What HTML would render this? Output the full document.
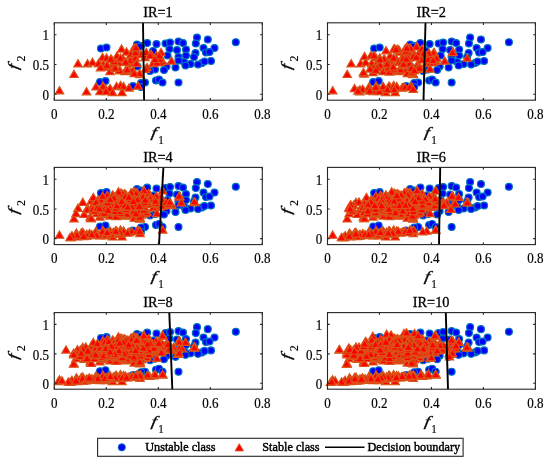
<!DOCTYPE html>
<html><head><meta charset="utf-8"><style>
html,body{margin:0;padding:0;background:#fff;}
svg{display:block;}
</style></head><body>
<svg width="550" height="463" viewBox="0 0 550 463">
<rect width="550" height="463" fill="#fff"/>
<g fill="#0000ff" stroke="#0072bd" stroke-width="1.2">
<circle cx="235.8" cy="42.2" r="3.45"/>
<circle cx="197" cy="37.5" r="3.45"/>
<circle cx="207.8" cy="39.5" r="3.45"/>
<circle cx="195.8" cy="43.5" r="3.45"/>
<circle cx="203.5" cy="48" r="3.45"/>
<circle cx="214.5" cy="48" r="3.45"/>
<circle cx="206" cy="52.5" r="3.45"/>
<circle cx="209.5" cy="52" r="3.45"/>
<circle cx="195.5" cy="53" r="3.45"/>
<circle cx="194" cy="57" r="3.45"/>
<circle cx="211" cy="61" r="3.45"/>
<circle cx="202" cy="63" r="3.45"/>
<circle cx="204.5" cy="61.5" r="3.45"/>
<circle cx="198" cy="64.5" r="3.45"/>
<circle cx="190.5" cy="64" r="3.45"/>
<circle cx="147.2" cy="43" r="3.45"/>
<circle cx="156.5" cy="44" r="3.45"/>
<circle cx="141" cy="46" r="3.45"/>
<circle cx="165.5" cy="43.5" r="3.45"/>
<circle cx="170" cy="42.5" r="3.45"/>
<circle cx="178.5" cy="41.5" r="3.45"/>
<circle cx="183" cy="43" r="3.45"/>
<circle cx="169.5" cy="49" r="3.45"/>
<circle cx="177" cy="50" r="3.45"/>
<circle cx="186" cy="49.5" r="3.45"/>
<circle cx="153" cy="51" r="3.45"/>
<circle cx="167.5" cy="55.5" r="3.45"/>
<circle cx="178.5" cy="57" r="3.45"/>
<circle cx="186" cy="55.5" r="3.45"/>
<circle cx="184" cy="62" r="3.45"/>
<circle cx="175.5" cy="67.5" r="3.45"/>
<circle cx="166.5" cy="66.5" r="3.45"/>
<circle cx="164" cy="70" r="3.45"/>
<circle cx="155" cy="69.5" r="3.45"/>
<circle cx="150" cy="71" r="3.45"/>
<circle cx="185.5" cy="65.5" r="3.45"/>
<circle cx="178.5" cy="60.5" r="3.45"/>
<circle cx="137" cy="44.5" r="3.45"/>
<circle cx="140" cy="46.5" r="3.45"/>
<circle cx="135.5" cy="52.5" r="3.45"/>
<circle cx="137.5" cy="66.5" r="3.45"/>
<circle cx="101" cy="48.5" r="3.45"/>
<circle cx="106.5" cy="47.5" r="3.45"/>
<circle cx="156" cy="80.5" r="3.45"/>
<circle cx="159" cy="79.5" r="3.45"/>
<circle cx="162.5" cy="82.5" r="3.45"/>
<circle cx="178.5" cy="82.5" r="3.45"/>
<circle cx="145" cy="82.5" r="3.45"/>
<circle cx="141" cy="83" r="3.45"/>
<circle cx="100" cy="82" r="3.45"/>
<circle cx="105.5" cy="81" r="3.45"/>
<circle cx="133" cy="86" r="3.45"/>
<circle cx="141" cy="87" r="3.45"/>
</g>
<g fill="#ff0000" stroke="#d95319" stroke-width="1.2" stroke-linejoin="miter">
<path d="M59.5 86.6L63.7 93.8L55.3 93.8Z"/>
<path d="M86.5 87.6L90.7 94.8L82.3 94.8Z"/>
<path d="M74 70.3L78.2 77.5L69.8 77.5Z"/>
<path d="M78 59.6L82.2 66.8L73.8 66.8Z"/>
<path d="M87.5 59.6L91.7 66.8L83.3 66.8Z"/>
<path d="M92.5 58.2L96.7 65.4L88.3 65.4Z"/>
<path d="M96 82.7L100.2 89.9L91.8 89.9Z"/>
<path d="M103 81.9L107.2 89.1L98.8 89.1Z"/>
<path d="M101.5 86.4L105.7 93.6L97.3 93.6Z"/>
<path d="M106 85.4L110.2 92.6L101.8 92.6Z"/>
<path d="M102.5 53.4L106.7 60.6L98.3 60.6Z"/>
<path d="M106.5 53.9L110.7 61.1L102.3 61.1Z"/>
<path d="M111.5 55.4L115.7 62.6L107.3 62.6Z"/>
<path d="M121.5 44.9L125.7 52.1L117.3 52.1Z"/>
<path d="M126.5 47.9L130.7 55.1L122.3 55.1Z"/>
<path d="M134 43.9L138.2 51.1L129.8 51.1Z"/>
<path d="M131 51.9L135.2 59.1L126.8 59.1Z"/>
<path d="M141 50.4L145.2 57.6L136.8 57.6Z"/>
<path d="M117 51.9L121.2 59.1L112.8 59.1Z"/>
<path d="M107 62.4L111.2 69.6L102.8 69.6Z"/>
<path d="M118.5 58.4L122.7 65.6L114.3 65.6Z"/>
<path d="M123 54.9L127.2 62.1L118.8 62.1Z"/>
<path d="M130 59.4L134.2 66.6L125.8 66.6Z"/>
<path d="M135 57.4L139.2 64.6L130.8 64.6Z"/>
<path d="M103 60.4L107.2 67.6L98.8 67.6Z"/>
<path d="M99 59.4L103.2 66.6L94.8 66.6Z"/>
<path d="M113 60.4L117.2 67.6L108.8 67.6Z"/>
<path d="M110 67.4L114.2 74.6L105.8 74.6Z"/>
<path d="M120 66.4L124.2 73.6L115.8 73.6Z"/>
<path d="M125 67.4L129.2 74.6L120.8 74.6Z"/>
<path d="M130 66.9L134.2 74.1L125.8 74.1Z"/>
<path d="M140 70.4L144.2 77.6L135.8 77.6Z"/>
<path d="M115 64.4L119.2 71.6L110.8 71.6Z"/>
<path d="M98.5 59.4L102.7 66.6L94.3 66.6Z"/>
<path d="M105 62.9L109.2 70.1L100.8 70.1Z"/>
<path d="M119.5 66.4L123.7 73.6L115.3 73.6Z"/>
<path d="M126 66.9L130.2 74.1L121.8 74.1Z"/>
<path d="M133 66.4L137.2 73.6L128.8 73.6Z"/>
<path d="M139.5 69.4L143.7 76.6L135.3 76.6Z"/>
<path d="M150 50.2L154.2 57.4L145.8 57.4Z"/>
<path d="M161 48.4L165.2 55.6L156.8 55.6Z"/>
<path d="M156.5 51.4L160.7 58.6L152.3 58.6Z"/>
<path d="M171.5 56.9L175.7 64.1L167.3 64.1Z"/>
<path d="M153 59.4L157.2 66.6L148.8 66.6Z"/>
<path d="M162.5 57.4L166.7 64.6L158.3 64.6Z"/>
<path d="M147 63.4L151.2 70.6L142.8 70.6Z"/>
<path d="M145 53.4L149.2 60.6L140.8 60.6Z"/>
<path d="M103 82.4L107.2 89.6L98.8 89.6Z"/>
<path d="M110 84.4L114.2 91.6L105.8 91.6Z"/>
<path d="M116.5 82.4L120.7 89.6L112.3 89.6Z"/>
<path d="M120.5 81.4L124.7 88.6L116.3 88.6Z"/>
<path d="M123.5 82.4L127.7 89.6L119.3 89.6Z"/>
<path d="M129 83.9L133.2 91.1L124.8 91.1Z"/>
<path d="M138 81.9L142.2 89.1L133.8 89.1Z"/>
<path d="M122 88.4L126.2 95.6L117.8 95.6Z"/>
<path d="M112.5 88.4L116.7 95.6L108.3 95.6Z"/>
<path d="M100 87.4L104.2 94.6L95.8 94.6Z"/>
<path d="M106 87.4L110.2 94.6L101.8 94.6Z"/>
<path d="M134.66 57.81L138.86 65.01L130.46 65.01Z"/>
<path d="M146.22 48.32L150.42 55.52L142.02 55.52Z"/>
<path d="M159.85 58.28L164.05 65.48L155.65 65.48Z"/>
<path d="M130.96 50.2L135.16 57.4L126.76 57.4Z"/>
<path d="M114.03 58.58L118.23 65.78L109.83 65.78Z"/>
<path d="M130.4 56.52L134.6 63.72L126.2 63.72Z"/>
<path d="M115.25 63.94L119.45 71.14L111.05 71.14Z"/>
<path d="M114.19 57.53L118.39 64.73L109.99 64.73Z"/>
<path d="M159.98 54.82L164.18 62.02L155.78 62.02Z"/>
<path d="M145.53 65.19L149.73 72.39L141.33 72.39Z"/>
<path d="M106.95 61.08L111.15 68.28L102.75 68.28Z"/>
<path d="M151.39 50.49L155.59 57.69L147.19 57.69Z"/>
<path d="M159.42 51.63L163.62 58.83L155.22 58.83Z"/>
<path d="M120.45 53.95L124.65 61.15L116.25 61.15Z"/>
<path d="M135.39 53.91L139.59 61.11L131.19 61.11Z"/>
<path d="M100.55 63.6L104.75 70.8L96.35 70.8Z"/>
<path d="M157.01 58.8L161.21 66L152.81 66Z"/>
<path d="M110.8 55.03L115 62.23L106.6 62.23Z"/>
<path d="M150.03 51.51L154.23 58.71L145.83 58.71Z"/>
<path d="M125.73 58.11L129.93 65.31L121.53 65.31Z"/>
<path d="M135.62 48.6L139.82 55.8L131.42 55.8Z"/>
<path d="M136.55 59.39L140.75 66.59L132.35 66.59Z"/>
<path d="M134.24 69.57L138.44 76.77L130.04 76.77Z"/>
<path d="M127.13 65.63L131.33 72.83L122.93 72.83Z"/>
<path d="M155.02 55.29L159.22 62.49L150.82 62.49Z"/>
<path d="M136.02 43.73L140.22 50.93L131.82 50.93Z"/>
</g>
<line x1="143" y1="22.8" x2="144.1" y2="100.2" stroke="#000" stroke-width="1.9"/>
<rect x="54.3" y="22.8" width="208" height="77.4" fill="none" stroke="#262626" stroke-width="1.1"/>
<path d="M54.3 100.2v-2.2M54.3 22.8v2.2M106.3 100.2v-2.2M106.3 22.8v2.2M158.3 100.2v-2.2M158.3 22.8v2.2M210.3 100.2v-2.2M210.3 22.8v2.2M262.3 100.2v-2.2M262.3 22.8v2.2M54.3 94.25h2.2M262.3 94.25h-2.2M54.3 64.48h2.2M262.3 64.48h-2.2M54.3 34.71h2.2M262.3 34.71h-2.2" stroke="#262626" stroke-width="1.1" fill="none"/>
<g font-family="'Liberation Serif','Times New Roman',serif" font-size="14.2" fill="#000" stroke="#000" stroke-width="0.2">
<text transform="translate(54.3,118.5) scale(0.92,1)" text-anchor="middle">0</text>
<text transform="translate(106.3,118.5) scale(0.92,1)" text-anchor="middle">0.2</text>
<text transform="translate(158.3,118.5) scale(0.92,1)" text-anchor="middle">0.4</text>
<text transform="translate(210.3,118.5) scale(0.92,1)" text-anchor="middle">0.6</text>
<text transform="translate(262.3,118.5) scale(0.92,1)" text-anchor="middle">0.8</text>
<text transform="translate(49,99.95) scale(0.92,1)" text-anchor="end">0</text>
<text transform="translate(49,70.18) scale(0.92,1)" text-anchor="end">0.5</text>
<text transform="translate(49,40.41) scale(0.92,1)" text-anchor="end">1</text>
</g>
<text x="158" y="16.9" text-anchor="middle" font-family="'Liberation Serif','Times New Roman',serif" font-size="14.3" stroke="#000" stroke-width="0.3">IR=1</text>
<text transform="translate(150.8,136.8) skewX(-10) scale(1.3,1)" font-family="'Liberation Serif','Times New Roman',serif" font-size="14.3" font-style="italic" stroke="#000" stroke-width="0.3">f</text>
<text x="157.9" y="143.7" font-family="'Liberation Serif','Times New Roman',serif" font-size="12" stroke="#000" stroke-width="0.1">1</text>
<g transform="translate(18,70) rotate(-90)"><text transform="skewX(-10) scale(1.3,1)" font-family="'Liberation Serif','Times New Roman',serif" font-size="14.3" font-style="italic" stroke="#000" stroke-width="0.3">f</text><text x="8.6" y="6.9" font-family="'Liberation Serif','Times New Roman',serif" font-size="12" stroke="#000" stroke-width="0.1">2</text></g>
<g fill="#0000ff" stroke="#0072bd" stroke-width="1.2">
<circle cx="508.91" cy="42.2" r="3.45"/>
<circle cx="470.13" cy="37.5" r="3.45"/>
<circle cx="480.93" cy="39.5" r="3.45"/>
<circle cx="468.93" cy="43.5" r="3.45"/>
<circle cx="476.63" cy="48" r="3.45"/>
<circle cx="487.62" cy="48" r="3.45"/>
<circle cx="479.13" cy="52.5" r="3.45"/>
<circle cx="482.63" cy="52" r="3.45"/>
<circle cx="468.63" cy="53" r="3.45"/>
<circle cx="467.13" cy="57" r="3.45"/>
<circle cx="484.12" cy="61" r="3.45"/>
<circle cx="475.13" cy="63" r="3.45"/>
<circle cx="477.63" cy="61.5" r="3.45"/>
<circle cx="471.13" cy="64.5" r="3.45"/>
<circle cx="463.63" cy="64" r="3.45"/>
<circle cx="420.36" cy="43" r="3.45"/>
<circle cx="429.65" cy="44" r="3.45"/>
<circle cx="414.16" cy="46" r="3.45"/>
<circle cx="438.65" cy="43.5" r="3.45"/>
<circle cx="443.14" cy="42.5" r="3.45"/>
<circle cx="451.64" cy="41.5" r="3.45"/>
<circle cx="456.14" cy="43" r="3.45"/>
<circle cx="442.64" cy="49" r="3.45"/>
<circle cx="450.14" cy="50" r="3.45"/>
<circle cx="459.14" cy="49.5" r="3.45"/>
<circle cx="426.15" cy="51" r="3.45"/>
<circle cx="440.65" cy="55.5" r="3.45"/>
<circle cx="451.64" cy="57" r="3.45"/>
<circle cx="459.14" cy="55.5" r="3.45"/>
<circle cx="457.14" cy="62" r="3.45"/>
<circle cx="448.64" cy="67.5" r="3.45"/>
<circle cx="439.65" cy="66.5" r="3.45"/>
<circle cx="437.15" cy="70" r="3.45"/>
<circle cx="428.15" cy="69.5" r="3.45"/>
<circle cx="423.15" cy="71" r="3.45"/>
<circle cx="458.64" cy="65.5" r="3.45"/>
<circle cx="451.64" cy="60.5" r="3.45"/>
<circle cx="410.16" cy="44.5" r="3.45"/>
<circle cx="413.16" cy="46.5" r="3.45"/>
<circle cx="408.66" cy="52.5" r="3.45"/>
<circle cx="410.66" cy="66.5" r="3.45"/>
<circle cx="374.18" cy="48.5" r="3.45"/>
<circle cx="379.67" cy="47.5" r="3.45"/>
<circle cx="429.15" cy="80.5" r="3.45"/>
<circle cx="432.15" cy="79.5" r="3.45"/>
<circle cx="435.65" cy="82.5" r="3.45"/>
<circle cx="451.64" cy="82.5" r="3.45"/>
<circle cx="418.16" cy="82.5" r="3.45"/>
<circle cx="414.16" cy="83" r="3.45"/>
<circle cx="373.18" cy="82" r="3.45"/>
<circle cx="378.68" cy="81" r="3.45"/>
<circle cx="406.16" cy="86" r="3.45"/>
<circle cx="414.16" cy="87" r="3.45"/>
</g>
<g fill="#ff0000" stroke="#d95319" stroke-width="1.2" stroke-linejoin="miter">
<path d="M332.7 86.6L336.9 93.8L328.5 93.8Z"/>
<path d="M359.68 87.6L363.88 94.8L355.48 94.8Z"/>
<path d="M347.19 70.3L351.39 77.5L342.99 77.5Z"/>
<path d="M351.19 59.6L355.39 66.8L346.99 66.8Z"/>
<path d="M360.68 59.6L364.88 66.8L356.48 66.8Z"/>
<path d="M365.68 58.2L369.88 65.4L361.48 65.4Z"/>
<path d="M369.18 82.7L373.38 89.9L364.98 89.9Z"/>
<path d="M376.18 81.9L380.38 89.1L371.98 89.1Z"/>
<path d="M374.68 86.4L378.88 93.6L370.48 93.6Z"/>
<path d="M379.18 85.4L383.38 92.6L374.98 92.6Z"/>
<path d="M375.68 53.4L379.88 60.6L371.48 60.6Z"/>
<path d="M379.67 53.9L383.87 61.1L375.47 61.1Z"/>
<path d="M384.67 55.4L388.87 62.6L380.47 62.6Z"/>
<path d="M394.67 44.9L398.87 52.1L390.47 52.1Z"/>
<path d="M399.67 47.9L403.87 55.1L395.47 55.1Z"/>
<path d="M407.16 43.9L411.36 51.1L402.96 51.1Z"/>
<path d="M404.16 51.9L408.36 59.1L399.96 59.1Z"/>
<path d="M414.16 50.4L418.36 57.6L409.96 57.6Z"/>
<path d="M390.17 51.9L394.37 59.1L385.97 59.1Z"/>
<path d="M380.17 62.4L384.37 69.6L375.97 69.6Z"/>
<path d="M391.67 58.4L395.87 65.6L387.47 65.6Z"/>
<path d="M396.17 54.9L400.37 62.1L391.97 62.1Z"/>
<path d="M403.16 59.4L407.36 66.6L398.96 66.6Z"/>
<path d="M408.16 57.4L412.36 64.6L403.96 64.6Z"/>
<path d="M376.18 60.4L380.38 67.6L371.98 67.6Z"/>
<path d="M372.18 59.4L376.38 66.6L367.98 66.6Z"/>
<path d="M386.17 60.4L390.37 67.6L381.97 67.6Z"/>
<path d="M383.17 67.4L387.37 74.6L378.97 74.6Z"/>
<path d="M393.17 66.4L397.37 73.6L388.97 73.6Z"/>
<path d="M398.17 67.4L402.37 74.6L393.97 74.6Z"/>
<path d="M403.16 66.9L407.36 74.1L398.96 74.1Z"/>
<path d="M413.16 70.4L417.36 77.6L408.96 77.6Z"/>
<path d="M388.17 64.4L392.37 71.6L383.97 71.6Z"/>
<path d="M371.68 59.4L375.88 66.6L367.48 66.6Z"/>
<path d="M378.18 62.9L382.38 70.1L373.98 70.1Z"/>
<path d="M392.67 66.4L396.87 73.6L388.47 73.6Z"/>
<path d="M399.17 66.9L403.37 74.1L394.97 74.1Z"/>
<path d="M406.16 66.4L410.36 73.6L401.96 73.6Z"/>
<path d="M412.66 69.4L416.86 76.6L408.46 76.6Z"/>
<path d="M423.15 50.2L427.35 57.4L418.95 57.4Z"/>
<path d="M434.15 48.4L438.35 55.6L429.95 55.6Z"/>
<path d="M429.65 51.4L433.85 58.6L425.45 58.6Z"/>
<path d="M444.64 56.9L448.84 64.1L440.44 64.1Z"/>
<path d="M426.15 59.4L430.35 66.6L421.95 66.6Z"/>
<path d="M435.65 57.4L439.85 64.6L431.45 64.6Z"/>
<path d="M420.16 63.4L424.36 70.6L415.96 70.6Z"/>
<path d="M418.16 53.4L422.36 60.6L413.96 60.6Z"/>
<path d="M376.18 82.4L380.38 89.6L371.98 89.6Z"/>
<path d="M383.17 84.4L387.37 91.6L378.97 91.6Z"/>
<path d="M389.67 82.4L393.87 89.6L385.47 89.6Z"/>
<path d="M393.67 81.4L397.87 88.6L389.47 88.6Z"/>
<path d="M396.67 82.4L400.87 89.6L392.47 89.6Z"/>
<path d="M402.16 83.9L406.36 91.1L397.96 91.1Z"/>
<path d="M411.16 81.9L415.36 89.1L406.96 89.1Z"/>
<path d="M395.17 88.4L399.37 95.6L390.97 95.6Z"/>
<path d="M385.67 88.4L389.87 95.6L381.47 95.6Z"/>
<path d="M373.18 87.4L377.38 94.6L368.98 94.6Z"/>
<path d="M379.18 87.4L383.38 94.6L374.98 94.6Z"/>
<path d="M407.82 57.81L412.02 65.01L403.62 65.01Z"/>
<path d="M419.37 48.32L423.57 55.52L415.17 55.52Z"/>
<path d="M433 58.28L437.2 65.48L428.8 65.48Z"/>
<path d="M404.12 50.2L408.32 57.4L399.92 57.4Z"/>
<path d="M387.2 58.58L391.4 65.78L383 65.78Z"/>
<path d="M403.57 56.52L407.77 63.72L399.37 63.72Z"/>
<path d="M388.42 63.94L392.62 71.14L384.22 71.14Z"/>
<path d="M387.36 57.53L391.56 64.73L383.16 64.73Z"/>
<path d="M433.13 54.82L437.33 62.02L428.93 62.02Z"/>
<path d="M418.69 65.19L422.89 72.39L414.49 72.39Z"/>
<path d="M380.12 61.08L384.32 68.28L375.92 68.28Z"/>
<path d="M424.54 50.49L428.74 57.69L420.34 57.69Z"/>
<path d="M432.57 51.63L436.77 58.83L428.37 58.83Z"/>
<path d="M393.62 53.95L397.82 61.15L389.42 61.15Z"/>
<path d="M408.55 53.91L412.75 61.11L404.35 61.11Z"/>
<path d="M373.73 63.6L377.93 70.8L369.53 70.8Z"/>
<path d="M430.16 58.8L434.36 66L425.96 66Z"/>
<path d="M383.98 55.03L388.18 62.23L379.78 62.23Z"/>
<path d="M423.18 51.51L427.38 58.71L418.98 58.71Z"/>
<path d="M398.89 58.11L403.09 65.31L394.69 65.31Z"/>
<path d="M408.78 48.6L412.98 55.8L404.58 55.8Z"/>
<path d="M409.71 59.39L413.91 66.59L405.51 66.59Z"/>
<path d="M407.4 69.57L411.6 76.77L403.2 76.77Z"/>
<path d="M400.29 65.63L404.49 72.83L396.09 72.83Z"/>
<path d="M428.17 55.29L432.37 62.49L423.97 62.49Z"/>
<path d="M409.18 43.73L413.38 50.93L404.98 50.93Z"/>
<path d="M364.5 52.4L368.7 59.6L360.3 59.6Z"/>
<path d="M364 69.9L368.2 77.1L359.8 77.1Z"/>
<path d="M371 51.4L375.2 58.6L366.8 58.6Z"/>
<path d="M374 51.4L378.2 58.6L369.8 58.6Z"/>
<path d="M373 68.4L377.2 75.6L368.8 75.6Z"/>
<path d="M377 63.4L381.2 70.6L372.8 70.6Z"/>
<path d="M370 64.9L374.2 72.1L365.8 72.1Z"/>
<path d="M380 55.4L384.2 62.6L375.8 62.6Z"/>
<path d="M417 42.4L421.2 49.6L412.8 49.6Z"/>
<path d="M433.5 48.9L437.7 56.1L429.3 56.1Z"/>
<path d="M453 47.9L457.2 55.1L448.8 55.1Z"/>
<path d="M436 53.4L440.2 60.6L431.8 60.6Z"/>
<path d="M430 64.9L434.2 72.1L425.8 72.1Z"/>
<path d="M413 69.9L417.2 77.1L408.8 77.1Z"/>
<path d="M467.2 54L471.4 61.2L463 61.2Z"/>
<path d="M452.5 48.5L456.7 55.7L448.3 55.7Z"/>
<path d="M386 46.6L390.2 53.8L381.8 53.8Z"/>
<path d="M394 44.6L398.2 51.8L389.8 51.8Z"/>
<path d="M399 46.1L403.2 53.3L394.8 53.3Z"/>
<path d="M407 43.1L411.2 50.3L402.8 50.3Z"/>
<path d="M416.5 42.6L420.7 49.8L412.3 49.8Z"/>
<path d="M389.5 67.9L393.7 75.1L385.3 75.1Z"/>
<path d="M412.5 69.4L416.7 76.6L408.3 76.6Z"/>
<path d="M354.5 84.4L358.7 91.6L350.3 91.6Z"/>
<path d="M360 85.8L364.2 93L355.8 93Z"/>
<path d="M362.7 85.1L366.9 92.3L358.5 92.3Z"/>
<path d="M368.9 83.7L373.1 90.9L364.7 90.9Z"/>
<path d="M375.7 83.1L379.9 90.3L371.5 90.3Z"/>
<path d="M383.2 82.4L387.4 89.6L379 89.6Z"/>
<path d="M388.7 82.4L392.9 89.6L384.5 89.6Z"/>
<path d="M393.4 82.4L397.6 89.6L389.2 89.6Z"/>
<path d="M396.8 83.1L401 90.3L392.6 90.3Z"/>
<path d="M402.3 83.7L406.5 90.9L398.1 90.9Z"/>
<path d="M405 83.1L409.2 90.3L400.8 90.3Z"/>
<path d="M409.8 83.1L414 90.3L405.6 90.3Z"/>
<path d="M413.2 85.1L417.4 92.3L409 92.3Z"/>
<path d="M358 86.9L362.2 94.1L353.8 94.1Z"/>
<path d="M369.6 86.9L373.8 94.1L365.4 94.1Z"/>
<path d="M387.3 85.4L391.5 92.6L383.1 92.6Z"/>
<path d="M394.1 85.4L398.3 92.6L389.9 92.6Z"/>
<path d="M363.4 68.4L367.6 75.6L359.2 75.6Z"/>
<path d="M411.8 68.4L416 75.6L407.6 75.6Z"/>
<path d="M375.85 66.19L380.05 73.39L371.65 73.39Z"/>
<path d="M428.81 49.26L433.01 56.46L424.61 56.46Z"/>
<path d="M417.54 60.39L421.74 67.59L413.34 67.59Z"/>
<path d="M413.2 52.62L417.4 59.82L409 59.82Z"/>
<path d="M411.52 64.28L415.72 71.48L407.32 71.48Z"/>
<path d="M401.29 58.17L405.49 65.37L397.09 65.37Z"/>
<path d="M436.56 54.25L440.76 61.45L432.36 61.45Z"/>
<path d="M402.25 61.43L406.45 68.63L398.05 68.63Z"/>
<path d="M403.61 60.12L407.81 67.32L399.41 67.32Z"/>
<path d="M397.84 45.21L402.04 52.41L393.64 52.41Z"/>
<path d="M407.75 53.83L411.95 61.03L403.55 61.03Z"/>
<path d="M394.11 64.85L398.31 72.05L389.91 72.05Z"/>
<path d="M417.86 63.67L422.06 70.87L413.66 70.87Z"/>
<path d="M421.94 44.83L426.14 52.03L417.74 52.03Z"/>
<path d="M423.88 47.87L428.08 55.07L419.68 55.07Z"/>
<path d="M423.27 49.81L427.47 57.01L419.07 57.01Z"/>
<path d="M403.38 54.61L407.58 61.81L399.18 61.81Z"/>
<path d="M405.32 44.35L409.52 51.55L401.12 51.55Z"/>
<path d="M406.06 46.78L410.26 53.98L401.86 53.98Z"/>
<path d="M396.07 45.45L400.27 52.65L391.87 52.65Z"/>
<path d="M433.18 56.41L437.38 63.61L428.98 63.61Z"/>
<path d="M410.6 44.47L414.8 51.67L406.4 51.67Z"/>
<path d="M421.22 55.75L425.42 62.95L417.02 62.95Z"/>
<path d="M387.08 59.96L391.28 67.16L382.88 67.16Z"/>
<path d="M419.57 64.08L423.77 71.28L415.37 71.28Z"/>
<path d="M406.29 54.94L410.49 62.14L402.09 62.14Z"/>
<path d="M416.3 53.11L420.5 60.31L412.1 60.31Z"/>
<path d="M393.21 63L397.41 70.2L389.01 70.2Z"/>
<path d="M406.81 44.11L411.01 51.31L402.61 51.31Z"/>
<path d="M414.38 66.44L418.58 73.64L410.18 73.64Z"/>
</g>
<line x1="425.5" y1="22.8" x2="423.5" y2="100.2" stroke="#000" stroke-width="1.9"/>
<rect x="327.5" y="22.8" width="207.9" height="77.4" fill="none" stroke="#262626" stroke-width="1.1"/>
<path d="M327.5 100.2v-2.2M327.5 22.8v2.2M379.48 100.2v-2.2M379.48 22.8v2.2M431.45 100.2v-2.2M431.45 22.8v2.2M483.42 100.2v-2.2M483.42 22.8v2.2M535.4 100.2v-2.2M535.4 22.8v2.2M327.5 94.25h2.2M535.4 94.25h-2.2M327.5 64.48h2.2M535.4 64.48h-2.2M327.5 34.71h2.2M535.4 34.71h-2.2" stroke="#262626" stroke-width="1.1" fill="none"/>
<g font-family="'Liberation Serif','Times New Roman',serif" font-size="14.2" fill="#000" stroke="#000" stroke-width="0.2">
<text transform="translate(327.5,118.5) scale(0.92,1)" text-anchor="middle">0</text>
<text transform="translate(379.48,118.5) scale(0.92,1)" text-anchor="middle">0.2</text>
<text transform="translate(431.45,118.5) scale(0.92,1)" text-anchor="middle">0.4</text>
<text transform="translate(483.42,118.5) scale(0.92,1)" text-anchor="middle">0.6</text>
<text transform="translate(535.4,118.5) scale(0.92,1)" text-anchor="middle">0.8</text>
<text transform="translate(322.2,99.95) scale(0.92,1)" text-anchor="end">0</text>
<text transform="translate(322.2,70.18) scale(0.92,1)" text-anchor="end">0.5</text>
<text transform="translate(322.2,40.41) scale(0.92,1)" text-anchor="end">1</text>
</g>
<text x="431.15" y="16.9" text-anchor="middle" font-family="'Liberation Serif','Times New Roman',serif" font-size="14.3" stroke="#000" stroke-width="0.3">IR=2</text>
<text transform="translate(424,136.8) skewX(-10) scale(1.3,1)" font-family="'Liberation Serif','Times New Roman',serif" font-size="14.3" font-style="italic" stroke="#000" stroke-width="0.3">f</text>
<text x="431.1" y="143.7" font-family="'Liberation Serif','Times New Roman',serif" font-size="12" stroke="#000" stroke-width="0.1">1</text>
<g transform="translate(291.2,70) rotate(-90)"><text transform="skewX(-10) scale(1.3,1)" font-family="'Liberation Serif','Times New Roman',serif" font-size="14.3" font-style="italic" stroke="#000" stroke-width="0.3">f</text><text x="8.6" y="6.9" font-family="'Liberation Serif','Times New Roman',serif" font-size="12" stroke="#000" stroke-width="0.1">2</text></g>
<g fill="#0000ff" stroke="#0072bd" stroke-width="1.2">
<circle cx="235.8" cy="186.75" r="3.45"/>
<circle cx="197" cy="182.06" r="3.45"/>
<circle cx="207.8" cy="184.06" r="3.45"/>
<circle cx="195.8" cy="188.05" r="3.45"/>
<circle cx="203.5" cy="192.53" r="3.45"/>
<circle cx="214.5" cy="192.53" r="3.45"/>
<circle cx="206" cy="197.02" r="3.45"/>
<circle cx="209.5" cy="196.52" r="3.45"/>
<circle cx="195.5" cy="197.52" r="3.45"/>
<circle cx="194" cy="201.51" r="3.45"/>
<circle cx="211" cy="205.5" r="3.45"/>
<circle cx="202" cy="207.5" r="3.45"/>
<circle cx="204.5" cy="206" r="3.45"/>
<circle cx="198" cy="208.99" r="3.45"/>
<circle cx="190.5" cy="208.49" r="3.45"/>
<circle cx="147.2" cy="187.55" r="3.45"/>
<circle cx="156.5" cy="188.55" r="3.45"/>
<circle cx="141" cy="190.54" r="3.45"/>
<circle cx="165.5" cy="188.05" r="3.45"/>
<circle cx="170" cy="187.05" r="3.45"/>
<circle cx="178.5" cy="186.05" r="3.45"/>
<circle cx="183" cy="187.55" r="3.45"/>
<circle cx="169.5" cy="193.53" r="3.45"/>
<circle cx="177" cy="194.53" r="3.45"/>
<circle cx="186" cy="194.03" r="3.45"/>
<circle cx="153" cy="195.53" r="3.45"/>
<circle cx="167.5" cy="200.02" r="3.45"/>
<circle cx="178.5" cy="201.51" r="3.45"/>
<circle cx="186" cy="200.02" r="3.45"/>
<circle cx="184" cy="206.5" r="3.45"/>
<circle cx="175.5" cy="211.98" r="3.45"/>
<circle cx="166.5" cy="210.99" r="3.45"/>
<circle cx="164" cy="214.48" r="3.45"/>
<circle cx="155" cy="213.98" r="3.45"/>
<circle cx="150" cy="215.48" r="3.45"/>
<circle cx="185.5" cy="209.99" r="3.45"/>
<circle cx="178.5" cy="205" r="3.45"/>
<circle cx="137" cy="189.04" r="3.45"/>
<circle cx="140" cy="191.04" r="3.45"/>
<circle cx="135.5" cy="197.02" r="3.45"/>
<circle cx="137.5" cy="210.99" r="3.45"/>
<circle cx="101" cy="193.03" r="3.45"/>
<circle cx="106.5" cy="192.04" r="3.45"/>
<circle cx="156" cy="224.95" r="3.45"/>
<circle cx="159" cy="223.95" r="3.45"/>
<circle cx="162.5" cy="226.95" r="3.45"/>
<circle cx="178.5" cy="226.95" r="3.45"/>
<circle cx="145" cy="226.95" r="3.45"/>
<circle cx="141" cy="227.44" r="3.45"/>
<circle cx="100" cy="226.45" r="3.45"/>
<circle cx="105.5" cy="225.45" r="3.45"/>
<circle cx="133" cy="230.44" r="3.45"/>
<circle cx="141" cy="231.43" r="3.45"/>
</g>
<g fill="#ff0000" stroke="#d95319" stroke-width="1.2" stroke-linejoin="miter">
<path d="M59.5 231.03L63.7 238.23L55.3 238.23Z"/>
<path d="M86.5 232.02L90.7 239.22L82.3 239.22Z"/>
<path d="M74 214.77L78.2 221.97L69.8 221.97Z"/>
<path d="M78 204.1L82.2 211.3L73.8 211.3Z"/>
<path d="M87.5 204.1L91.7 211.3L83.3 211.3Z"/>
<path d="M92.5 202.7L96.7 209.9L88.3 209.9Z"/>
<path d="M96 227.14L100.2 234.34L91.8 234.34Z"/>
<path d="M103 226.34L107.2 233.54L98.8 233.54Z"/>
<path d="M101.5 230.83L105.7 238.03L97.3 238.03Z"/>
<path d="M106 229.83L110.2 237.03L101.8 237.03Z"/>
<path d="M102.5 197.91L106.7 205.11L98.3 205.11Z"/>
<path d="M106.5 198.41L110.7 205.61L102.3 205.61Z"/>
<path d="M111.5 199.91L115.7 207.11L107.3 207.11Z"/>
<path d="M121.5 189.43L125.7 196.63L117.3 196.63Z"/>
<path d="M126.5 192.43L130.7 199.63L122.3 199.63Z"/>
<path d="M134 188.44L138.2 195.64L129.8 195.64Z"/>
<path d="M131 196.42L135.2 203.62L126.8 203.62Z"/>
<path d="M141 194.92L145.2 202.12L136.8 202.12Z"/>
<path d="M117 196.42L121.2 203.62L112.8 203.62Z"/>
<path d="M107 206.89L111.2 214.09L102.8 214.09Z"/>
<path d="M118.5 202.9L122.7 210.1L114.3 210.1Z"/>
<path d="M123 199.41L127.2 206.61L118.8 206.61Z"/>
<path d="M130 203.9L134.2 211.1L125.8 211.1Z"/>
<path d="M135 201.9L139.2 209.1L130.8 209.1Z"/>
<path d="M103 204.89L107.2 212.09L98.8 212.09Z"/>
<path d="M99 203.9L103.2 211.1L94.8 211.1Z"/>
<path d="M113 204.89L117.2 212.09L108.8 212.09Z"/>
<path d="M110 211.88L114.2 219.08L105.8 219.08Z"/>
<path d="M120 210.88L124.2 218.08L115.8 218.08Z"/>
<path d="M125 211.88L129.2 219.08L120.8 219.08Z"/>
<path d="M130 211.38L134.2 218.58L125.8 218.58Z"/>
<path d="M140 214.87L144.2 222.07L135.8 222.07Z"/>
<path d="M115 208.88L119.2 216.08L110.8 216.08Z"/>
<path d="M98.5 203.9L102.7 211.1L94.3 211.1Z"/>
<path d="M105 207.39L109.2 214.59L100.8 214.59Z"/>
<path d="M119.5 210.88L123.7 218.08L115.3 218.08Z"/>
<path d="M126 211.38L130.2 218.58L121.8 218.58Z"/>
<path d="M133 210.88L137.2 218.08L128.8 218.08Z"/>
<path d="M139.5 213.87L143.7 221.07L135.3 221.07Z"/>
<path d="M150 194.72L154.2 201.92L145.8 201.92Z"/>
<path d="M161 192.92L165.2 200.12L156.8 200.12Z"/>
<path d="M156.5 195.92L160.7 203.12L152.3 203.12Z"/>
<path d="M171.5 201.4L175.7 208.6L167.3 208.6Z"/>
<path d="M153 203.9L157.2 211.1L148.8 211.1Z"/>
<path d="M162.5 201.9L166.7 209.1L158.3 209.1Z"/>
<path d="M147 207.89L151.2 215.09L142.8 215.09Z"/>
<path d="M145 197.91L149.2 205.11L140.8 205.11Z"/>
<path d="M103 226.84L107.2 234.04L98.8 234.04Z"/>
<path d="M110 228.83L114.2 236.03L105.8 236.03Z"/>
<path d="M116.5 226.84L120.7 234.04L112.3 234.04Z"/>
<path d="M120.5 225.84L124.7 233.04L116.3 233.04Z"/>
<path d="M123.5 226.84L127.7 234.04L119.3 234.04Z"/>
<path d="M129 228.33L133.2 235.53L124.8 235.53Z"/>
<path d="M138 226.34L142.2 233.54L133.8 233.54Z"/>
<path d="M122 232.82L126.2 240.02L117.8 240.02Z"/>
<path d="M112.5 232.82L116.7 240.02L108.3 240.02Z"/>
<path d="M100 231.82L104.2 239.02L95.8 239.02Z"/>
<path d="M106 231.82L110.2 239.02L101.8 239.02Z"/>
<path d="M134.66 202.31L138.86 209.51L130.46 209.51Z"/>
<path d="M146.22 192.84L150.42 200.04L142.02 200.04Z"/>
<path d="M159.85 202.78L164.05 209.98L155.65 209.98Z"/>
<path d="M130.96 194.72L135.16 201.92L126.76 201.92Z"/>
<path d="M114.03 203.08L118.23 210.28L109.83 210.28Z"/>
<path d="M130.4 201.02L134.6 208.22L126.2 208.22Z"/>
<path d="M115.25 208.42L119.45 215.62L111.05 215.62Z"/>
<path d="M114.19 202.03L118.39 209.23L109.99 209.23Z"/>
<path d="M159.98 199.33L164.18 206.53L155.78 206.53Z"/>
<path d="M145.53 209.68L149.73 216.88L141.33 216.88Z"/>
<path d="M106.95 205.58L111.15 212.78L102.75 212.78Z"/>
<path d="M151.39 195.01L155.59 202.21L147.19 202.21Z"/>
<path d="M159.42 196.15L163.62 203.35L155.22 203.35Z"/>
<path d="M120.45 198.46L124.65 205.66L116.25 205.66Z"/>
<path d="M135.39 198.42L139.59 205.62L131.19 205.62Z"/>
<path d="M100.55 208.09L104.75 215.29L96.35 215.29Z"/>
<path d="M157.01 203.3L161.21 210.5L152.81 210.5Z"/>
<path d="M110.8 199.54L115 206.74L106.6 206.74Z"/>
<path d="M150.03 196.03L154.23 203.23L145.83 203.23Z"/>
<path d="M125.73 202.61L129.93 209.81L121.53 209.81Z"/>
<path d="M135.62 193.13L139.82 200.33L131.42 200.33Z"/>
<path d="M136.55 203.89L140.75 211.09L132.35 211.09Z"/>
<path d="M134.24 214.04L138.44 221.24L130.04 221.24Z"/>
<path d="M127.13 210.11L131.33 217.31L122.93 217.31Z"/>
<path d="M155.02 199.8L159.22 207L150.82 207Z"/>
<path d="M136.02 188.27L140.22 195.47L131.82 195.47Z"/>
<path d="M91.32 196.91L95.52 204.11L87.12 204.11Z"/>
<path d="M90.82 214.37L95.02 221.57L86.62 221.57Z"/>
<path d="M97.82 195.92L102.02 203.12L93.62 203.12Z"/>
<path d="M100.82 195.92L105.02 203.12L96.62 203.12Z"/>
<path d="M99.82 212.87L104.02 220.07L95.62 220.07Z"/>
<path d="M103.82 207.89L108.02 215.09L99.62 215.09Z"/>
<path d="M96.82 209.38L101.02 216.58L92.62 216.58Z"/>
<path d="M106.83 199.91L111.03 207.11L102.63 207.11Z"/>
<path d="M143.84 186.94L148.04 194.14L139.64 194.14Z"/>
<path d="M160.35 193.42L164.55 200.62L156.15 200.62Z"/>
<path d="M179.86 192.43L184.06 199.63L175.66 199.63Z"/>
<path d="M162.85 197.91L167.05 205.11L158.65 205.11Z"/>
<path d="M156.85 209.38L161.05 216.58L152.65 216.58Z"/>
<path d="M139.84 214.37L144.04 221.57L135.64 221.57Z"/>
<path d="M194.07 198.51L198.27 205.71L189.87 205.71Z"/>
<path d="M179.36 193.02L183.56 200.22L175.16 200.22Z"/>
<path d="M112.83 191.13L117.03 198.33L108.63 198.33Z"/>
<path d="M120.83 189.13L125.03 196.33L116.63 196.33Z"/>
<path d="M125.83 190.63L130.03 197.83L121.63 197.83Z"/>
<path d="M133.84 187.64L138.04 194.84L129.64 194.84Z"/>
<path d="M143.34 187.14L147.54 194.34L139.14 194.34Z"/>
<path d="M116.33 212.37L120.53 219.57L112.13 219.57Z"/>
<path d="M139.34 213.87L143.54 221.07L135.14 221.07Z"/>
<path d="M81.31 228.83L85.51 236.03L77.11 236.03Z"/>
<path d="M86.82 230.23L91.02 237.43L82.62 237.43Z"/>
<path d="M89.52 229.53L93.72 236.73L85.32 236.73Z"/>
<path d="M95.72 228.13L99.92 235.33L91.52 235.33Z"/>
<path d="M102.52 227.53L106.72 234.73L98.32 234.73Z"/>
<path d="M110.03 226.84L114.23 234.04L105.83 234.04Z"/>
<path d="M115.53 226.84L119.73 234.04L111.33 234.04Z"/>
<path d="M120.23 226.84L124.43 234.04L116.03 234.04Z"/>
<path d="M123.63 227.53L127.83 234.73L119.43 234.73Z"/>
<path d="M129.14 228.13L133.34 235.33L124.94 235.33Z"/>
<path d="M131.84 227.53L136.04 234.73L127.64 234.73Z"/>
<path d="M136.64 227.53L140.84 234.73L132.44 234.73Z"/>
<path d="M140.04 229.53L144.24 236.73L135.84 236.73Z"/>
<path d="M84.81 231.33L89.01 238.53L80.61 238.53Z"/>
<path d="M96.42 231.33L100.62 238.53L92.22 238.53Z"/>
<path d="M114.13 229.83L118.33 237.03L109.93 237.03Z"/>
<path d="M120.93 229.83L125.13 237.03L116.73 237.03Z"/>
<path d="M90.22 212.87L94.42 220.07L86.02 220.07Z"/>
<path d="M138.64 212.87L142.84 220.07L134.44 220.07Z"/>
<path d="M102.67 210.67L106.87 217.87L98.47 217.87Z"/>
<path d="M155.66 193.79L159.86 200.99L151.46 200.99Z"/>
<path d="M144.38 204.88L148.58 212.08L140.18 212.08Z"/>
<path d="M140.05 197.14L144.25 204.34L135.85 204.34Z"/>
<path d="M138.36 208.77L142.56 215.97L134.16 215.97Z"/>
<path d="M128.12 202.67L132.32 209.87L123.92 209.87Z"/>
<path d="M163.41 198.76L167.61 205.96L159.21 205.96Z"/>
<path d="M129.09 205.92L133.29 213.12L124.89 213.12Z"/>
<path d="M130.45 204.61L134.65 211.81L126.25 211.81Z"/>
<path d="M124.67 189.75L128.87 196.95L120.47 196.95Z"/>
<path d="M134.59 198.34L138.79 205.54L130.39 205.54Z"/>
<path d="M120.94 209.33L125.14 216.53L116.74 216.53Z"/>
<path d="M144.71 208.16L148.91 215.36L140.51 215.36Z"/>
<path d="M148.78 189.36L152.98 196.56L144.58 196.56Z"/>
<path d="M150.72 192.39L154.92 199.59L146.52 199.59Z"/>
<path d="M150.12 194.33L154.32 201.53L145.92 201.53Z"/>
<path d="M130.21 199.12L134.41 206.32L126.01 206.32Z"/>
<path d="M132.16 188.89L136.36 196.09L127.96 196.09Z"/>
<path d="M132.89 191.31L137.09 198.51L128.69 198.51Z"/>
<path d="M122.9 189.98L127.1 197.18L118.7 197.18Z"/>
<path d="M160.03 200.92L164.23 208.12L155.83 208.12Z"/>
<path d="M137.44 189.01L141.64 196.21L133.24 196.21Z"/>
<path d="M148.06 200.25L152.26 207.45L143.86 207.45Z"/>
<path d="M113.91 204.45L118.11 211.65L109.71 211.65Z"/>
<path d="M146.42 208.57L150.62 215.77L142.22 215.77Z"/>
<path d="M133.13 199.45L137.33 206.65L128.93 206.65Z"/>
<path d="M143.14 197.63L147.34 204.83L138.94 204.83Z"/>
<path d="M120.04 207.48L124.24 214.68L115.84 214.68Z"/>
<path d="M133.65 188.65L137.85 195.85L129.45 195.85Z"/>
<path d="M141.22 210.92L145.42 218.12L137.02 218.12Z"/>
<path d="M162.7 186.7L166.9 193.9L158.5 193.9Z"/>
<path d="M156.2 192.1L160.4 199.3L152 199.3Z"/>
<path d="M171.5 200.9L175.7 208.1L167.3 208.1Z"/>
<path d="M179.1 192.1L183.3 199.3L174.9 199.3Z"/>
<path d="M181.3 198.7L185.5 205.9L177.1 205.9Z"/>
<path d="M194.4 197.6L198.6 204.8L190.2 204.8Z"/>
<path d="M162.7 225.9L166.9 233.1L158.5 233.1Z"/>
<path d="M139.8 227L144 234.2L135.6 234.2Z"/>
<path d="M144.2 186.7L148.4 193.9L140 193.9Z"/>
<path d="M139.8 212.9L144 220.1L135.6 220.1Z"/>
<path d="M82.8 198.3L87 205.5L78.6 205.5Z"/>
<path d="M93.3 193.4L97.5 200.6L89.1 200.6Z"/>
<path d="M84.2 210.3L88.4 217.5L80 217.5Z"/>
<path d="M91.2 214.5L95.4 221.7L87 221.7Z"/>
<path d="M107.3 191.3L111.5 198.5L103.1 198.5Z"/>
<path d="M118.5 187.8L122.7 195L114.3 195Z"/>
<path d="M71.5 233.4L75.7 240.6L67.3 240.6Z"/>
<path d="M76.4 229L80.6 236.2L72.2 236.2Z"/>
<path d="M82.8 228.3L87 235.5L78.6 235.5Z"/>
<path d="M97.13 197.63L101.33 204.83L92.93 204.83Z"/>
<path d="M110.08 196.16L114.28 203.36L105.88 203.36Z"/>
<path d="M135.16 209.45L139.36 216.65L130.96 216.65Z"/>
<path d="M99.23 205.28L103.43 212.48L95.03 212.48Z"/>
<path d="M155.82 199.31L160.02 206.51L151.62 206.51Z"/>
<path d="M136.46 207.35L140.66 214.55L132.26 214.55Z"/>
<path d="M136.05 189.63L140.25 196.83L131.85 196.83Z"/>
<path d="M125.1 192.76L129.3 199.96L120.9 199.96Z"/>
<path d="M148.15 196.47L152.35 203.67L143.95 203.67Z"/>
<path d="M103.34 210.3L107.54 217.5L99.14 217.5Z"/>
<path d="M158.67 199.39L162.87 206.59L154.47 206.59Z"/>
<path d="M112.53 191.29L116.73 198.49L108.33 198.49Z"/>
<path d="M87.13 205.71L91.33 212.91L82.93 212.91Z"/>
<path d="M168.47 200.3L172.67 207.5L164.27 207.5Z"/>
<path d="M135.25 203.63L139.45 210.83L131.05 210.83Z"/>
<path d="M123.54 201.54L127.74 208.74L119.34 208.74Z"/>
<path d="M108.21 196.62L112.41 203.82L104.01 203.82Z"/>
<path d="M131.09 188.74L135.29 195.94L126.89 195.94Z"/>
<path d="M139.62 207.04L143.82 214.24L135.42 214.24Z"/>
<path d="M162.51 197.02L166.71 204.22L158.31 204.22Z"/>
<path d="M143.79 205.85L147.99 213.05L139.59 213.05Z"/>
<path d="M155.34 196.91L159.54 204.11L151.14 204.11Z"/>
<path d="M101.74 209.5L105.94 216.7L97.54 216.7Z"/>
<path d="M114.05 207.34L118.25 214.54L109.85 214.54Z"/>
<path d="M102.62 192.08L106.82 199.28L98.42 199.28Z"/>
<path d="M144.25 202.9L148.45 210.1L140.05 210.1Z"/>
<path d="M104.17 209.17L108.37 216.37L99.97 216.37Z"/>
<path d="M93.15 200.99L97.35 208.19L88.95 208.19Z"/>
<path d="M133.66 207.21L137.86 214.41L129.46 214.41Z"/>
<path d="M161.72 201.74L165.92 208.94L157.52 208.94Z"/>
<path d="M118.95 198.23L123.15 205.43L114.75 205.43Z"/>
<path d="M136.94 196.36L141.14 203.56L132.74 203.56Z"/>
<path d="M128.64 195.76L132.84 202.96L124.44 202.96Z"/>
<path d="M166.03 198.55L170.23 205.75L161.83 205.75Z"/>
<path d="M116.08 193.28L120.28 200.48L111.88 200.48Z"/>
<path d="M97.1 203.63L101.3 210.83L92.9 210.83Z"/>
<path d="M169.68 198.2L173.88 205.4L165.48 205.4Z"/>
<path d="M114.51 196.75L118.71 203.95L110.31 203.95Z"/>
<path d="M135.79 209.58L139.99 216.78L131.59 216.78Z"/>
<path d="M135.31 199.55L139.51 206.75L131.11 206.75Z"/>
<path d="M140.41 202.36L144.61 209.56L136.21 209.56Z"/>
<path d="M143.12 192.84L147.32 200.04L138.92 200.04Z"/>
<path d="M75.98 209.57L80.18 216.77L71.78 216.77Z"/>
<path d="M98.42 199.8L102.62 207L94.22 207Z"/>
<path d="M131.92 203.17L136.12 210.37L127.72 210.37Z"/>
<path d="M109.49 203.35L113.69 210.55L105.29 210.55Z"/>
<path d="M110 196.36L114.2 203.56L105.8 203.56Z"/>
<path d="M103.26 201.75L107.46 208.95L99.06 208.95Z"/>
<path d="M129.62 192.91L133.82 200.11L125.42 200.11Z"/>
<path d="M104.2 205.57L108.4 212.77L100 212.77Z"/>
<path d="M127.01 201.64L131.21 208.84L122.81 208.84Z"/>
<path d="M142.26 200.18L146.46 207.38L138.06 207.38Z"/>
<path d="M125.8 205.03L130 212.23L121.6 212.23Z"/>
<path d="M115.51 201.2L119.71 208.4L111.31 208.4Z"/>
<path d="M95.96 203.46L100.16 210.66L91.76 210.66Z"/>
<path d="M120.59 198.48L124.79 205.68L116.39 205.68Z"/>
<path d="M138.8 195.24L143 202.44L134.6 202.44Z"/>
<path d="M105.15 201.53L109.35 208.73L100.95 208.73Z"/>
<path d="M128.8 193.04L133 200.24L124.6 200.24Z"/>
<path d="M116.63 196.57L120.83 203.77L112.43 203.77Z"/>
<path d="M104.92 204.38L109.12 211.58L100.72 211.58Z"/>
<path d="M146.95 196.14L151.15 203.34L142.75 203.34Z"/>
<path d="M114.25 192.82L118.45 200.02L110.05 200.02Z"/>
<path d="M96.1 198.37L100.3 205.57L91.9 205.57Z"/>
<path d="M117.31 203.58L121.51 210.78L113.11 210.78Z"/>
<path d="M137.5 195.83L141.7 203.03L133.3 203.03Z"/>
<path d="M113.76 193.89L117.96 201.09L109.56 201.09Z"/>
<path d="M115.75 204.15L119.95 211.35L111.55 211.35Z"/>
<path d="M98.5 204.42L102.7 211.62L94.3 211.62Z"/>
<path d="M144.75 198.44L148.95 205.64L140.55 205.64Z"/>
<path d="M125.52 200.59L129.72 207.79L121.32 207.79Z"/>
<path d="M121.3 200.98L125.5 208.18L117.1 208.18Z"/>
<path d="M92.68 205.22L96.88 212.42L88.48 212.42Z"/>
<path d="M94.82 206.92L99.02 214.12L90.62 214.12Z"/>
<path d="M139.32 202.3L143.52 209.5L135.12 209.5Z"/>
<path d="M111 200.7L115.2 207.9L106.8 207.9Z"/>
<path d="M116.84 201.69L121.04 208.89L112.64 208.89Z"/>
<path d="M121.76 197.4L125.96 204.6L117.56 204.6Z"/>
<path d="M106.4 198.69L110.6 205.89L102.2 205.89Z"/>
<path d="M97.04 204.2L101.24 211.4L92.84 211.4Z"/>
<path d="M108.84 201.75L113.04 208.95L104.64 208.95Z"/>
<path d="M107.47 198.54L111.67 205.74L103.27 205.74Z"/>
<path d="M133.38 197.29L137.58 204.49L129.18 204.49Z"/>
<path d="M99.35 204.66L103.55 211.86L95.15 211.86Z"/>
<path d="M145.22 195.99L149.42 203.19L141.02 203.19Z"/>
<path d="M124.92 201.77L129.12 208.97L120.72 208.97Z"/>
<path d="M128.27 203.14L132.47 210.34L124.07 210.34Z"/>
<path d="M110.26 195.48L114.46 202.68L106.06 202.68Z"/>
<path d="M108.07 206.03L112.27 213.23L103.87 213.23Z"/>
<path d="M127.74 203L131.94 210.2L123.54 210.2Z"/>
<path d="M113.27 228.19L117.47 235.39L109.07 235.39Z"/>
<path d="M119.83 228.34L124.03 235.54L115.63 235.54Z"/>
<path d="M109.88 229.98L114.08 237.18L105.68 237.18Z"/>
<path d="M91.58 231.29L95.78 238.49L87.38 238.49Z"/>
<path d="M116.27 227.2L120.47 234.4L112.07 234.4Z"/>
<path d="M139.57 227.07L143.77 234.27L135.37 234.27Z"/>
<path d="M77.23 231.17L81.43 238.37L73.03 238.37Z"/>
<path d="M86.86 231.64L91.06 238.84L82.66 238.84Z"/>
<path d="M91.83 230.47L96.03 237.67L87.63 237.67Z"/>
<path d="M127.54 228.89L131.74 236.09L123.34 236.09Z"/>
<path d="M77.28 232.82L81.48 240.02L73.08 240.02Z"/>
<path d="M76.94 231.22L81.14 238.42L72.74 238.42Z"/>
<path d="M71.94 231.61L76.14 238.81L67.74 238.81Z"/>
<path d="M83.65 232.4L87.85 239.6L79.45 239.6Z"/>
<path d="M105.46 230.82L109.66 238.02L101.26 238.02Z"/>
<path d="M106.08 230.62L110.28 237.82L101.88 237.82Z"/>
<path d="M111 230L115.2 237.2L106.8 237.2Z"/>
<path d="M107.19 228.39L111.39 235.59L102.99 235.59Z"/>
<path d="M70 233.41L74.2 240.61L65.8 240.61Z"/>
<path d="M115.8 227.26L120 234.46L111.6 234.46Z"/>
</g>
<line x1="163.4" y1="167.4" x2="159" y2="244.6" stroke="#000" stroke-width="1.9"/>
<rect x="54.3" y="167.4" width="208" height="77.2" fill="none" stroke="#262626" stroke-width="1.1"/>
<path d="M54.3 244.6v-2.2M54.3 167.4v2.2M106.3 244.6v-2.2M106.3 167.4v2.2M158.3 244.6v-2.2M158.3 167.4v2.2M210.3 244.6v-2.2M210.3 167.4v2.2M262.3 244.6v-2.2M262.3 167.4v2.2M54.3 238.66h2.2M262.3 238.66h-2.2M54.3 208.97h2.2M262.3 208.97h-2.2M54.3 179.28h2.2M262.3 179.28h-2.2" stroke="#262626" stroke-width="1.1" fill="none"/>
<g font-family="'Liberation Serif','Times New Roman',serif" font-size="14.2" fill="#000" stroke="#000" stroke-width="0.2">
<text transform="translate(54.3,262.9) scale(0.92,1)" text-anchor="middle">0</text>
<text transform="translate(106.3,262.9) scale(0.92,1)" text-anchor="middle">0.2</text>
<text transform="translate(158.3,262.9) scale(0.92,1)" text-anchor="middle">0.4</text>
<text transform="translate(210.3,262.9) scale(0.92,1)" text-anchor="middle">0.6</text>
<text transform="translate(262.3,262.9) scale(0.92,1)" text-anchor="middle">0.8</text>
<text transform="translate(49,244.36) scale(0.92,1)" text-anchor="end">0</text>
<text transform="translate(49,214.67) scale(0.92,1)" text-anchor="end">0.5</text>
<text transform="translate(49,184.98) scale(0.92,1)" text-anchor="end">1</text>
</g>
<text x="158" y="161.5" text-anchor="middle" font-family="'Liberation Serif','Times New Roman',serif" font-size="14.3" stroke="#000" stroke-width="0.3">IR=4</text>
<text transform="translate(150.8,281.2) skewX(-10) scale(1.3,1)" font-family="'Liberation Serif','Times New Roman',serif" font-size="14.3" font-style="italic" stroke="#000" stroke-width="0.3">f</text>
<text x="157.9" y="288.1" font-family="'Liberation Serif','Times New Roman',serif" font-size="12" stroke="#000" stroke-width="0.1">1</text>
<g transform="translate(18,214.6) rotate(-90)"><text transform="skewX(-10) scale(1.3,1)" font-family="'Liberation Serif','Times New Roman',serif" font-size="14.3" font-style="italic" stroke="#000" stroke-width="0.3">f</text><text x="8.6" y="6.9" font-family="'Liberation Serif','Times New Roman',serif" font-size="12" stroke="#000" stroke-width="0.1">2</text></g>
<g fill="#0000ff" stroke="#0072bd" stroke-width="1.2">
<circle cx="508.91" cy="186.75" r="3.45"/>
<circle cx="470.13" cy="182.06" r="3.45"/>
<circle cx="480.93" cy="184.06" r="3.45"/>
<circle cx="468.93" cy="188.05" r="3.45"/>
<circle cx="476.63" cy="192.53" r="3.45"/>
<circle cx="487.62" cy="192.53" r="3.45"/>
<circle cx="479.13" cy="197.02" r="3.45"/>
<circle cx="482.63" cy="196.52" r="3.45"/>
<circle cx="468.63" cy="197.52" r="3.45"/>
<circle cx="467.13" cy="201.51" r="3.45"/>
<circle cx="484.12" cy="205.5" r="3.45"/>
<circle cx="475.13" cy="207.5" r="3.45"/>
<circle cx="477.63" cy="206" r="3.45"/>
<circle cx="471.13" cy="208.99" r="3.45"/>
<circle cx="463.63" cy="208.49" r="3.45"/>
<circle cx="420.36" cy="187.55" r="3.45"/>
<circle cx="429.65" cy="188.55" r="3.45"/>
<circle cx="414.16" cy="190.54" r="3.45"/>
<circle cx="438.65" cy="188.05" r="3.45"/>
<circle cx="443.14" cy="187.05" r="3.45"/>
<circle cx="451.64" cy="186.05" r="3.45"/>
<circle cx="456.14" cy="187.55" r="3.45"/>
<circle cx="442.64" cy="193.53" r="3.45"/>
<circle cx="450.14" cy="194.53" r="3.45"/>
<circle cx="459.14" cy="194.03" r="3.45"/>
<circle cx="426.15" cy="195.53" r="3.45"/>
<circle cx="440.65" cy="200.02" r="3.45"/>
<circle cx="451.64" cy="201.51" r="3.45"/>
<circle cx="459.14" cy="200.02" r="3.45"/>
<circle cx="457.14" cy="206.5" r="3.45"/>
<circle cx="448.64" cy="211.98" r="3.45"/>
<circle cx="439.65" cy="210.99" r="3.45"/>
<circle cx="437.15" cy="214.48" r="3.45"/>
<circle cx="428.15" cy="213.98" r="3.45"/>
<circle cx="423.15" cy="215.48" r="3.45"/>
<circle cx="458.64" cy="209.99" r="3.45"/>
<circle cx="451.64" cy="205" r="3.45"/>
<circle cx="410.16" cy="189.04" r="3.45"/>
<circle cx="413.16" cy="191.04" r="3.45"/>
<circle cx="408.66" cy="197.02" r="3.45"/>
<circle cx="410.66" cy="210.99" r="3.45"/>
<circle cx="374.18" cy="193.03" r="3.45"/>
<circle cx="379.67" cy="192.04" r="3.45"/>
<circle cx="429.15" cy="224.95" r="3.45"/>
<circle cx="432.15" cy="223.95" r="3.45"/>
<circle cx="435.65" cy="226.95" r="3.45"/>
<circle cx="451.64" cy="226.95" r="3.45"/>
<circle cx="418.16" cy="226.95" r="3.45"/>
<circle cx="414.16" cy="227.44" r="3.45"/>
<circle cx="373.18" cy="226.45" r="3.45"/>
<circle cx="378.68" cy="225.45" r="3.45"/>
<circle cx="406.16" cy="230.44" r="3.45"/>
<circle cx="414.16" cy="231.43" r="3.45"/>
</g>
<g fill="#ff0000" stroke="#d95319" stroke-width="1.2" stroke-linejoin="miter">
<path d="M332.7 231.03L336.9 238.23L328.5 238.23Z"/>
<path d="M359.68 232.02L363.88 239.22L355.48 239.22Z"/>
<path d="M347.19 214.77L351.39 221.97L342.99 221.97Z"/>
<path d="M351.19 204.1L355.39 211.3L346.99 211.3Z"/>
<path d="M360.68 204.1L364.88 211.3L356.48 211.3Z"/>
<path d="M365.68 202.7L369.88 209.9L361.48 209.9Z"/>
<path d="M369.18 227.14L373.38 234.34L364.98 234.34Z"/>
<path d="M376.18 226.34L380.38 233.54L371.98 233.54Z"/>
<path d="M374.68 230.83L378.88 238.03L370.48 238.03Z"/>
<path d="M379.18 229.83L383.38 237.03L374.98 237.03Z"/>
<path d="M375.68 197.91L379.88 205.11L371.48 205.11Z"/>
<path d="M379.67 198.41L383.87 205.61L375.47 205.61Z"/>
<path d="M384.67 199.91L388.87 207.11L380.47 207.11Z"/>
<path d="M394.67 189.43L398.87 196.63L390.47 196.63Z"/>
<path d="M399.67 192.43L403.87 199.63L395.47 199.63Z"/>
<path d="M407.16 188.44L411.36 195.64L402.96 195.64Z"/>
<path d="M404.16 196.42L408.36 203.62L399.96 203.62Z"/>
<path d="M414.16 194.92L418.36 202.12L409.96 202.12Z"/>
<path d="M390.17 196.42L394.37 203.62L385.97 203.62Z"/>
<path d="M380.17 206.89L384.37 214.09L375.97 214.09Z"/>
<path d="M391.67 202.9L395.87 210.1L387.47 210.1Z"/>
<path d="M396.17 199.41L400.37 206.61L391.97 206.61Z"/>
<path d="M403.16 203.9L407.36 211.1L398.96 211.1Z"/>
<path d="M408.16 201.9L412.36 209.1L403.96 209.1Z"/>
<path d="M376.18 204.89L380.38 212.09L371.98 212.09Z"/>
<path d="M372.18 203.9L376.38 211.1L367.98 211.1Z"/>
<path d="M386.17 204.89L390.37 212.09L381.97 212.09Z"/>
<path d="M383.17 211.88L387.37 219.08L378.97 219.08Z"/>
<path d="M393.17 210.88L397.37 218.08L388.97 218.08Z"/>
<path d="M398.17 211.88L402.37 219.08L393.97 219.08Z"/>
<path d="M403.16 211.38L407.36 218.58L398.96 218.58Z"/>
<path d="M413.16 214.87L417.36 222.07L408.96 222.07Z"/>
<path d="M388.17 208.88L392.37 216.08L383.97 216.08Z"/>
<path d="M371.68 203.9L375.88 211.1L367.48 211.1Z"/>
<path d="M378.18 207.39L382.38 214.59L373.98 214.59Z"/>
<path d="M392.67 210.88L396.87 218.08L388.47 218.08Z"/>
<path d="M399.17 211.38L403.37 218.58L394.97 218.58Z"/>
<path d="M406.16 210.88L410.36 218.08L401.96 218.08Z"/>
<path d="M412.66 213.87L416.86 221.07L408.46 221.07Z"/>
<path d="M423.15 194.72L427.35 201.92L418.95 201.92Z"/>
<path d="M434.15 192.92L438.35 200.12L429.95 200.12Z"/>
<path d="M429.65 195.92L433.85 203.12L425.45 203.12Z"/>
<path d="M444.64 201.4L448.84 208.6L440.44 208.6Z"/>
<path d="M426.15 203.9L430.35 211.1L421.95 211.1Z"/>
<path d="M435.65 201.9L439.85 209.1L431.45 209.1Z"/>
<path d="M420.16 207.89L424.36 215.09L415.96 215.09Z"/>
<path d="M418.16 197.91L422.36 205.11L413.96 205.11Z"/>
<path d="M376.18 226.84L380.38 234.04L371.98 234.04Z"/>
<path d="M383.17 228.83L387.37 236.03L378.97 236.03Z"/>
<path d="M389.67 226.84L393.87 234.04L385.47 234.04Z"/>
<path d="M393.67 225.84L397.87 233.04L389.47 233.04Z"/>
<path d="M396.67 226.84L400.87 234.04L392.47 234.04Z"/>
<path d="M402.16 228.33L406.36 235.53L397.96 235.53Z"/>
<path d="M411.16 226.34L415.36 233.54L406.96 233.54Z"/>
<path d="M395.17 232.82L399.37 240.02L390.97 240.02Z"/>
<path d="M385.67 232.82L389.87 240.02L381.47 240.02Z"/>
<path d="M373.18 231.82L377.38 239.02L368.98 239.02Z"/>
<path d="M379.18 231.82L383.38 239.02L374.98 239.02Z"/>
<path d="M407.82 202.31L412.02 209.51L403.62 209.51Z"/>
<path d="M419.37 192.84L423.57 200.04L415.17 200.04Z"/>
<path d="M433 202.78L437.2 209.98L428.8 209.98Z"/>
<path d="M404.12 194.72L408.32 201.92L399.92 201.92Z"/>
<path d="M387.2 203.08L391.4 210.28L383 210.28Z"/>
<path d="M403.57 201.02L407.77 208.22L399.37 208.22Z"/>
<path d="M388.42 208.42L392.62 215.62L384.22 215.62Z"/>
<path d="M387.36 202.03L391.56 209.23L383.16 209.23Z"/>
<path d="M433.13 199.33L437.33 206.53L428.93 206.53Z"/>
<path d="M418.69 209.68L422.89 216.88L414.49 216.88Z"/>
<path d="M380.12 205.58L384.32 212.78L375.92 212.78Z"/>
<path d="M424.54 195.01L428.74 202.21L420.34 202.21Z"/>
<path d="M432.57 196.15L436.77 203.35L428.37 203.35Z"/>
<path d="M393.62 198.46L397.82 205.66L389.42 205.66Z"/>
<path d="M408.55 198.42L412.75 205.62L404.35 205.62Z"/>
<path d="M373.73 208.09L377.93 215.29L369.53 215.29Z"/>
<path d="M430.16 203.3L434.36 210.5L425.96 210.5Z"/>
<path d="M383.98 199.54L388.18 206.74L379.78 206.74Z"/>
<path d="M423.18 196.03L427.38 203.23L418.98 203.23Z"/>
<path d="M398.89 202.61L403.09 209.81L394.69 209.81Z"/>
<path d="M408.78 193.13L412.98 200.33L404.58 200.33Z"/>
<path d="M409.71 203.89L413.91 211.09L405.51 211.09Z"/>
<path d="M407.4 214.04L411.6 221.24L403.2 221.24Z"/>
<path d="M400.29 210.11L404.49 217.31L396.09 217.31Z"/>
<path d="M428.17 199.8L432.37 207L423.97 207Z"/>
<path d="M409.18 188.27L413.38 195.47L404.98 195.47Z"/>
<path d="M364.5 196.91L368.7 204.11L360.3 204.11Z"/>
<path d="M364 214.37L368.2 221.57L359.8 221.57Z"/>
<path d="M371 195.92L375.2 203.12L366.8 203.12Z"/>
<path d="M374 195.92L378.2 203.12L369.8 203.12Z"/>
<path d="M373 212.87L377.2 220.07L368.8 220.07Z"/>
<path d="M377 207.89L381.2 215.09L372.8 215.09Z"/>
<path d="M370 209.38L374.2 216.58L365.8 216.58Z"/>
<path d="M380 199.91L384.2 207.11L375.8 207.11Z"/>
<path d="M417 186.94L421.2 194.14L412.8 194.14Z"/>
<path d="M433.5 193.42L437.7 200.62L429.3 200.62Z"/>
<path d="M453 192.43L457.2 199.63L448.8 199.63Z"/>
<path d="M436 197.91L440.2 205.11L431.8 205.11Z"/>
<path d="M430 209.38L434.2 216.58L425.8 216.58Z"/>
<path d="M413 214.37L417.2 221.57L408.8 221.57Z"/>
<path d="M467.2 198.51L471.4 205.71L463 205.71Z"/>
<path d="M452.5 193.02L456.7 200.22L448.3 200.22Z"/>
<path d="M386 191.13L390.2 198.33L381.8 198.33Z"/>
<path d="M394 189.13L398.2 196.33L389.8 196.33Z"/>
<path d="M399 190.63L403.2 197.83L394.8 197.83Z"/>
<path d="M407 187.64L411.2 194.84L402.8 194.84Z"/>
<path d="M416.5 187.14L420.7 194.34L412.3 194.34Z"/>
<path d="M389.5 212.37L393.7 219.57L385.3 219.57Z"/>
<path d="M412.5 213.87L416.7 221.07L408.3 221.07Z"/>
<path d="M354.5 228.83L358.7 236.03L350.3 236.03Z"/>
<path d="M360 230.23L364.2 237.43L355.8 237.43Z"/>
<path d="M362.7 229.53L366.9 236.73L358.5 236.73Z"/>
<path d="M368.9 228.13L373.1 235.33L364.7 235.33Z"/>
<path d="M375.7 227.53L379.9 234.73L371.5 234.73Z"/>
<path d="M383.2 226.84L387.4 234.04L379 234.04Z"/>
<path d="M388.7 226.84L392.9 234.04L384.5 234.04Z"/>
<path d="M393.4 226.84L397.6 234.04L389.2 234.04Z"/>
<path d="M396.8 227.53L401 234.73L392.6 234.73Z"/>
<path d="M402.3 228.13L406.5 235.33L398.1 235.33Z"/>
<path d="M405 227.53L409.2 234.73L400.8 234.73Z"/>
<path d="M409.8 227.53L414 234.73L405.6 234.73Z"/>
<path d="M413.2 229.53L417.4 236.73L409 236.73Z"/>
<path d="M358 231.33L362.2 238.53L353.8 238.53Z"/>
<path d="M369.6 231.33L373.8 238.53L365.4 238.53Z"/>
<path d="M387.3 229.83L391.5 237.03L383.1 237.03Z"/>
<path d="M394.1 229.83L398.3 237.03L389.9 237.03Z"/>
<path d="M363.4 212.87L367.6 220.07L359.2 220.07Z"/>
<path d="M411.8 212.87L416 220.07L407.6 220.07Z"/>
<path d="M375.85 210.67L380.05 217.87L371.65 217.87Z"/>
<path d="M428.81 193.79L433.01 200.99L424.61 200.99Z"/>
<path d="M417.54 204.88L421.74 212.08L413.34 212.08Z"/>
<path d="M413.2 197.14L417.4 204.34L409 204.34Z"/>
<path d="M411.52 208.77L415.72 215.97L407.32 215.97Z"/>
<path d="M401.29 202.67L405.49 209.87L397.09 209.87Z"/>
<path d="M436.56 198.76L440.76 205.96L432.36 205.96Z"/>
<path d="M402.25 205.92L406.45 213.12L398.05 213.12Z"/>
<path d="M403.61 204.61L407.81 211.81L399.41 211.81Z"/>
<path d="M397.84 189.75L402.04 196.95L393.64 196.95Z"/>
<path d="M407.75 198.34L411.95 205.54L403.55 205.54Z"/>
<path d="M394.11 209.33L398.31 216.53L389.91 216.53Z"/>
<path d="M417.86 208.16L422.06 215.36L413.66 215.36Z"/>
<path d="M421.94 189.36L426.14 196.56L417.74 196.56Z"/>
<path d="M423.88 192.39L428.08 199.59L419.68 199.59Z"/>
<path d="M423.27 194.33L427.47 201.53L419.07 201.53Z"/>
<path d="M403.38 199.12L407.58 206.32L399.18 206.32Z"/>
<path d="M405.32 188.89L409.52 196.09L401.12 196.09Z"/>
<path d="M406.06 191.31L410.26 198.51L401.86 198.51Z"/>
<path d="M396.07 189.98L400.27 197.18L391.87 197.18Z"/>
<path d="M433.18 200.92L437.38 208.12L428.98 208.12Z"/>
<path d="M410.6 189.01L414.8 196.21L406.4 196.21Z"/>
<path d="M421.22 200.25L425.42 207.45L417.02 207.45Z"/>
<path d="M387.08 204.45L391.28 211.65L382.88 211.65Z"/>
<path d="M419.57 208.57L423.77 215.77L415.37 215.77Z"/>
<path d="M406.29 199.45L410.49 206.65L402.09 206.65Z"/>
<path d="M416.3 197.63L420.5 204.83L412.1 204.83Z"/>
<path d="M393.21 207.48L397.41 214.68L389.01 214.68Z"/>
<path d="M406.81 188.65L411.01 195.85L402.61 195.85Z"/>
<path d="M414.38 210.92L418.58 218.12L410.18 218.12Z"/>
<path d="M435.85 186.7L440.05 193.9L431.65 193.9Z"/>
<path d="M429.35 192.1L433.55 199.3L425.15 199.3Z"/>
<path d="M444.64 200.9L448.84 208.1L440.44 208.1Z"/>
<path d="M452.24 192.1L456.44 199.3L448.04 199.3Z"/>
<path d="M454.44 198.7L458.64 205.9L450.24 205.9Z"/>
<path d="M467.53 197.6L471.73 204.8L463.33 204.8Z"/>
<path d="M435.85 225.9L440.05 233.1L431.65 233.1Z"/>
<path d="M412.96 227L417.16 234.2L408.76 234.2Z"/>
<path d="M417.36 186.7L421.56 193.9L413.16 193.9Z"/>
<path d="M412.96 212.9L417.16 220.1L408.76 220.1Z"/>
<path d="M355.99 198.3L360.19 205.5L351.79 205.5Z"/>
<path d="M366.48 193.4L370.68 200.6L362.28 200.6Z"/>
<path d="M357.39 210.3L361.59 217.5L353.19 217.5Z"/>
<path d="M364.38 214.5L368.58 221.7L360.18 221.7Z"/>
<path d="M380.47 191.3L384.67 198.5L376.27 198.5Z"/>
<path d="M391.67 187.8L395.87 195L387.47 195Z"/>
<path d="M344.69 233.4L348.89 240.6L340.49 240.6Z"/>
<path d="M349.59 229L353.79 236.2L345.39 236.2Z"/>
<path d="M355.99 228.3L360.19 235.5L351.79 235.5Z"/>
<path d="M370.31 197.63L374.51 204.83L366.11 204.83Z"/>
<path d="M383.25 196.16L387.45 203.36L379.05 203.36Z"/>
<path d="M408.32 209.45L412.52 216.65L404.12 216.65Z"/>
<path d="M372.41 205.28L376.61 212.48L368.21 212.48Z"/>
<path d="M428.97 199.31L433.17 206.51L424.77 206.51Z"/>
<path d="M409.63 207.35L413.83 214.55L405.43 214.55Z"/>
<path d="M409.21 189.63L413.41 196.83L405.01 196.83Z"/>
<path d="M398.27 192.76L402.47 199.96L394.07 199.96Z"/>
<path d="M421.3 196.47L425.5 203.67L417.1 203.67Z"/>
<path d="M376.52 210.3L380.72 217.5L372.32 217.5Z"/>
<path d="M431.82 199.39L436.02 206.59L427.62 206.59Z"/>
<path d="M385.7 191.29L389.9 198.49L381.5 198.49Z"/>
<path d="M360.32 205.71L364.52 212.91L356.12 212.91Z"/>
<path d="M441.62 200.3L445.82 207.5L437.42 207.5Z"/>
<path d="M408.41 203.63L412.61 210.83L404.21 210.83Z"/>
<path d="M396.71 201.54L400.91 208.74L392.51 208.74Z"/>
<path d="M381.38 196.62L385.58 203.82L377.18 203.82Z"/>
<path d="M404.25 188.74L408.45 195.94L400.05 195.94Z"/>
<path d="M412.78 207.04L416.98 214.24L408.58 214.24Z"/>
<path d="M435.66 197.02L439.86 204.22L431.46 204.22Z"/>
<path d="M416.95 205.85L421.15 213.05L412.75 213.05Z"/>
<path d="M428.5 196.91L432.7 204.11L424.3 204.11Z"/>
<path d="M374.92 209.5L379.12 216.7L370.72 216.7Z"/>
<path d="M387.22 207.34L391.42 214.54L383.02 214.54Z"/>
<path d="M375.79 192.08L379.99 199.28L371.59 199.28Z"/>
<path d="M417.4 202.9L421.6 210.1L413.2 210.1Z"/>
<path d="M377.34 209.17L381.54 216.37L373.14 216.37Z"/>
<path d="M366.34 200.99L370.54 208.19L362.14 208.19Z"/>
<path d="M406.82 207.21L411.02 214.41L402.62 214.41Z"/>
<path d="M434.87 201.74L439.07 208.94L430.67 208.94Z"/>
<path d="M392.12 198.23L396.32 205.43L387.92 205.43Z"/>
<path d="M410.1 196.36L414.3 203.56L405.9 203.56Z"/>
<path d="M401.8 195.76L406 202.96L397.6 202.96Z"/>
<path d="M439.18 198.55L443.38 205.75L434.98 205.75Z"/>
<path d="M389.25 193.28L393.45 200.48L385.05 200.48Z"/>
<path d="M370.28 203.63L374.48 210.83L366.08 210.83Z"/>
<path d="M442.82 198.2L447.02 205.4L438.62 205.4Z"/>
<path d="M387.69 196.75L391.89 203.95L383.49 203.95Z"/>
<path d="M408.95 209.58L413.15 216.78L404.75 216.78Z"/>
<path d="M408.48 199.55L412.68 206.75L404.28 206.75Z"/>
<path d="M413.57 202.36L417.77 209.56L409.37 209.56Z"/>
<path d="M416.28 192.84L420.48 200.04L412.08 200.04Z"/>
<path d="M349.16 209.57L353.36 216.77L344.96 216.77Z"/>
<path d="M371.6 199.8L375.8 207L367.4 207Z"/>
<path d="M405.08 203.17L409.28 210.37L400.88 210.37Z"/>
<path d="M382.66 203.35L386.86 210.55L378.46 210.55Z"/>
<path d="M383.17 196.36L387.37 203.56L378.97 203.56Z"/>
<path d="M376.43 201.75L380.63 208.95L372.23 208.95Z"/>
<path d="M402.78 192.91L406.98 200.11L398.58 200.11Z"/>
<path d="M377.38 205.57L381.58 212.77L373.18 212.77Z"/>
<path d="M400.17 201.64L404.37 208.84L395.97 208.84Z"/>
<path d="M415.41 200.18L419.61 207.38L411.21 207.38Z"/>
<path d="M398.97 205.03L403.17 212.23L394.77 212.23Z"/>
<path d="M388.68 201.2L392.88 208.4L384.48 208.4Z"/>
<path d="M369.14 203.46L373.34 210.66L364.94 210.66Z"/>
<path d="M393.76 198.48L397.96 205.68L389.56 205.68Z"/>
<path d="M411.96 195.24L416.16 202.44L407.76 202.44Z"/>
<path d="M378.33 201.53L382.53 208.73L374.13 208.73Z"/>
<path d="M401.97 193.04L406.17 200.24L397.77 200.24Z"/>
<path d="M389.8 196.57L394 203.77L385.6 203.77Z"/>
<path d="M378.1 204.38L382.3 211.58L373.9 211.58Z"/>
<path d="M420.11 196.14L424.31 203.34L415.91 203.34Z"/>
<path d="M387.42 192.82L391.62 200.02L383.22 200.02Z"/>
<path d="M369.28 198.37L373.48 205.57L365.08 205.57Z"/>
<path d="M390.48 203.58L394.68 210.78L386.28 210.78Z"/>
<path d="M410.66 195.83L414.86 203.03L406.46 203.03Z"/>
<path d="M386.93 193.89L391.13 201.09L382.73 201.09Z"/>
<path d="M388.92 204.15L393.12 211.35L384.72 211.35Z"/>
<path d="M371.68 204.42L375.88 211.62L367.48 211.62Z"/>
<path d="M417.91 198.44L422.11 205.64L413.71 205.64Z"/>
<path d="M398.68 200.59L402.88 207.79L394.48 207.79Z"/>
<path d="M394.47 200.98L398.67 208.18L390.27 208.18Z"/>
<path d="M365.86 205.22L370.06 212.42L361.66 212.42Z"/>
<path d="M368 206.92L372.2 214.12L363.8 214.12Z"/>
<path d="M412.48 202.3L416.68 209.5L408.28 209.5Z"/>
<path d="M384.17 200.7L388.37 207.9L379.97 207.9Z"/>
<path d="M390.01 201.69L394.21 208.89L385.81 208.89Z"/>
<path d="M394.93 197.4L399.13 204.6L390.73 204.6Z"/>
<path d="M379.57 198.69L383.77 205.89L375.37 205.89Z"/>
<path d="M370.22 204.2L374.42 211.4L366.02 211.4Z"/>
<path d="M382.02 201.75L386.22 208.95L377.82 208.95Z"/>
<path d="M380.65 198.54L384.85 205.74L376.45 205.74Z"/>
<path d="M406.54 197.29L410.74 204.49L402.34 204.49Z"/>
<path d="M372.53 204.66L376.73 211.86L368.33 211.86Z"/>
<path d="M418.38 195.99L422.58 203.19L414.18 203.19Z"/>
<path d="M398.08 201.77L402.28 208.97L393.88 208.97Z"/>
<path d="M401.43 203.14L405.63 210.34L397.23 210.34Z"/>
<path d="M383.44 195.48L387.64 202.68L379.24 202.68Z"/>
<path d="M381.25 206.03L385.45 213.23L377.05 213.23Z"/>
<path d="M400.9 203L405.1 210.2L396.7 210.2Z"/>
<path d="M386.44 228.19L390.64 235.39L382.24 235.39Z"/>
<path d="M393 228.34L397.2 235.54L388.8 235.54Z"/>
<path d="M383.05 229.98L387.25 237.18L378.85 237.18Z"/>
<path d="M364.77 231.29L368.97 238.49L360.57 238.49Z"/>
<path d="M389.44 227.2L393.64 234.4L385.24 234.4Z"/>
<path d="M412.73 227.07L416.93 234.27L408.53 234.27Z"/>
<path d="M350.42 231.17L354.62 238.37L346.22 238.37Z"/>
<path d="M360.04 231.64L364.24 238.84L355.84 238.84Z"/>
<path d="M365.01 230.47L369.21 237.67L360.81 237.67Z"/>
<path d="M400.7 228.89L404.9 236.09L396.5 236.09Z"/>
<path d="M350.47 232.82L354.67 240.02L346.27 240.02Z"/>
<path d="M350.13 231.22L354.33 238.42L345.93 238.42Z"/>
<path d="M345.13 231.61L349.33 238.81L340.93 238.81Z"/>
<path d="M356.84 232.4L361.04 239.6L352.64 239.6Z"/>
<path d="M378.64 230.82L382.84 238.02L374.44 238.02Z"/>
<path d="M379.26 230.62L383.46 237.82L375.06 237.82Z"/>
<path d="M384.18 230L388.38 237.2L379.98 237.2Z"/>
<path d="M380.37 228.39L384.57 235.59L376.17 235.59Z"/>
<path d="M343.19 233.41L347.39 240.61L338.99 240.61Z"/>
<path d="M388.97 227.26L393.17 234.46L384.77 234.46Z"/>
<path d="M417 186.7L421.2 193.9L412.8 193.9Z"/>
<path d="M435.5 186.7L439.7 193.9L431.3 193.9Z"/>
<path d="M451.9 192.1L456.1 199.3L447.7 199.3Z"/>
<path d="M458.5 193.2L462.7 200.4L454.3 200.4Z"/>
<path d="M467.2 198.7L471.4 205.9L463 205.9Z"/>
<path d="M450.8 205.2L455 212.4L446.6 212.4Z"/>
<path d="M446.5 198.7L450.7 205.9L442.3 205.9Z"/>
<path d="M455.2 199.8L459.4 207L451 207Z"/>
<path d="M412.6 211.8L416.8 219L408.4 219Z"/>
<path d="M413.7 225.9L417.9 233.1L409.5 233.1Z"/>
<path d="M426.8 227L431 234.2L422.6 234.2Z"/>
<path d="M435.5 225.9L439.7 233.1L431.3 233.1Z"/>
<path d="M370.13 208.52L374.33 215.72L365.93 215.72Z"/>
<path d="M385.81 207.24L390.01 214.44L381.61 214.44Z"/>
<path d="M353.51 201.15L357.71 208.35L349.31 208.35Z"/>
<path d="M421.98 205.59L426.18 212.79L417.78 212.79Z"/>
<path d="M399.59 204.24L403.79 211.44L395.39 211.44Z"/>
<path d="M363.91 208.45L368.11 215.65L359.71 215.65Z"/>
<path d="M377.36 195.59L381.56 202.79L373.16 202.79Z"/>
<path d="M406.37 194.48L410.57 201.68L402.17 201.68Z"/>
<path d="M396.58 206.68L400.78 213.88L392.38 213.88Z"/>
<path d="M393.41 208.86L397.61 216.06L389.21 216.06Z"/>
<path d="M400.66 203.65L404.86 210.85L396.46 210.85Z"/>
<path d="M436.07 196.93L440.27 204.13L431.87 204.13Z"/>
<path d="M396.82 200.85L401.02 208.05L392.62 208.05Z"/>
<path d="M405.69 200.42L409.89 207.62L401.49 207.62Z"/>
<path d="M362.8 203.53L367 210.73L358.6 210.73Z"/>
<path d="M374.48 197.87L378.68 205.07L370.28 205.07Z"/>
<path d="M393.18 202.6L397.38 209.8L388.98 209.8Z"/>
<path d="M387.45 206.06L391.65 213.26L383.25 213.26Z"/>
<path d="M409 204.24L413.2 211.44L404.8 211.44Z"/>
<path d="M381.87 192.62L386.07 199.82L377.67 199.82Z"/>
<path d="M378.42 197.28L382.62 204.48L374.22 204.48Z"/>
<path d="M353.03 205.42L357.23 212.62L348.83 212.62Z"/>
<path d="M421.98 195.87L426.18 203.07L417.78 203.07Z"/>
<path d="M370.26 202.89L374.46 210.09L366.06 210.09Z"/>
<path d="M364.39 199.73L368.59 206.93L360.19 206.93Z"/>
<path d="M348.77 203.93L352.97 211.13L344.57 211.13Z"/>
<path d="M407.81 190.87L412.01 198.07L403.61 198.07Z"/>
<path d="M375.75 206.34L379.95 213.54L371.55 213.54Z"/>
<path d="M390.52 207.7L394.72 214.9L386.32 214.9Z"/>
<path d="M351.38 206.88L355.58 214.08L347.18 214.08Z"/>
<path d="M423.81 202.11L428.01 209.31L419.61 209.31Z"/>
<path d="M375.45 208.67L379.65 215.87L371.25 215.87Z"/>
<path d="M443.21 200.6L447.41 207.8L439.01 207.8Z"/>
<path d="M367.37 209.6L371.57 216.8L363.17 216.8Z"/>
<path d="M352.41 206.9L356.61 214.1L348.21 214.1Z"/>
<path d="M413.33 207.37L417.53 214.57L409.13 214.57Z"/>
<path d="M358.97 198L363.17 205.2L354.77 205.2Z"/>
<path d="M422.83 200.96L427.03 208.16L418.63 208.16Z"/>
<path d="M443.79 199.27L447.99 206.47L439.59 206.47Z"/>
<path d="M370.7 200.93L374.9 208.13L366.5 208.13Z"/>
<path d="M350.6 200.67L354.8 207.87L346.4 207.87Z"/>
<path d="M428.44 198.76L432.64 205.96L424.24 205.96Z"/>
<path d="M350.09 204.79L354.29 211.99L345.89 211.99Z"/>
<path d="M370.75 205.93L374.95 213.13L366.55 213.13Z"/>
<path d="M437.95 197.11L442.15 204.31L433.75 204.31Z"/>
<path d="M444.08 201.12L448.28 208.32L439.88 208.32Z"/>
<path d="M435.29 194.92L439.49 202.12L431.09 202.12Z"/>
<path d="M395.44 208.77L399.64 215.97L391.24 215.97Z"/>
<path d="M379.98 194.85L384.18 202.05L375.78 202.05Z"/>
<path d="M425.35 195.2L429.55 202.4L421.15 202.4Z"/>
<path d="M380.57 203.32L384.77 210.52L376.37 210.52Z"/>
<path d="M414.72 197.54L418.92 204.74L410.52 204.74Z"/>
<path d="M412.46 199.53L416.66 206.73L408.26 206.73Z"/>
<path d="M396.75 190.56L400.95 197.76L392.55 197.76Z"/>
<path d="M379.02 204.09L383.22 211.29L374.82 211.29Z"/>
<path d="M413.2 194.59L417.4 201.79L409 201.79Z"/>
<path d="M362.79 203.4L366.99 210.6L358.59 210.6Z"/>
<path d="M380.54 203.78L384.74 210.98L376.34 210.98Z"/>
<path d="M366.44 201.98L370.64 209.18L362.24 209.18Z"/>
<path d="M422.17 196.97L426.37 204.17L417.97 204.17Z"/>
<path d="M418.51 193.7L422.71 200.9L414.31 200.9Z"/>
<path d="M402.86 206.9L407.06 214.1L398.66 214.1Z"/>
<path d="M388.3 202.77L392.5 209.97L384.1 209.97Z"/>
<path d="M406.53 195.52L410.73 202.72L402.33 202.72Z"/>
<path d="M378.51 194.44L382.71 201.64L374.31 201.64Z"/>
<path d="M371.07 198.11L375.27 205.31L366.87 205.31Z"/>
<path d="M407.18 196.67L411.38 203.87L402.98 203.87Z"/>
<path d="M375.7 205.21L379.9 212.41L371.5 212.41Z"/>
<path d="M401.06 190.97L405.26 198.17L396.86 198.17Z"/>
<path d="M378.67 200.71L382.87 207.91L374.47 207.91Z"/>
<path d="M368.1 200.72L372.3 207.92L363.9 207.92Z"/>
<path d="M389.49 195.61L393.69 202.81L385.29 202.81Z"/>
<path d="M381.39 195.42L385.59 202.62L377.19 202.62Z"/>
<path d="M396.7 201.32L400.9 208.52L392.5 208.52Z"/>
<path d="M390.83 198.12L395.03 205.32L386.63 205.32Z"/>
<path d="M380.59 199.21L384.79 206.41L376.39 206.41Z"/>
<path d="M408.73 200.6L412.93 207.8L404.53 207.8Z"/>
<path d="M367.91 206.91L372.11 214.11L363.71 214.11Z"/>
<path d="M381.63 201.65L385.83 208.85L377.43 208.85Z"/>
<path d="M412.94 204.18L417.14 211.38L408.74 211.38Z"/>
<path d="M413.41 195.47L417.61 202.67L409.21 202.67Z"/>
<path d="M398.95 194.54L403.15 201.74L394.75 201.74Z"/>
<path d="M415.09 197.37L419.29 204.57L410.89 204.57Z"/>
<path d="M394.13 196.98L398.33 204.18L389.93 204.18Z"/>
<path d="M402.39 199.35L406.59 206.55L398.19 206.55Z"/>
<path d="M399.49 201.44L403.69 208.64L395.29 208.64Z"/>
<path d="M374.68 201.49L378.88 208.69L370.48 208.69Z"/>
<path d="M405.49 201.26L409.69 208.46L401.29 208.46Z"/>
<path d="M396.83 191.56L401.03 198.76L392.63 198.76Z"/>
<path d="M389.06 205.26L393.26 212.46L384.86 212.46Z"/>
<path d="M371.39 229.06L375.59 236.26L367.19 236.26Z"/>
<path d="M422.73 227.61L426.93 234.81L418.53 234.81Z"/>
<path d="M368.73 230.37L372.93 237.57L364.53 237.57Z"/>
<path d="M341.49 233.34L345.69 240.54L337.29 240.54Z"/>
<path d="M351.96 231.77L356.16 238.97L347.76 238.97Z"/>
<path d="M398.35 227.19L402.55 234.39L394.15 234.39Z"/>
<path d="M408.68 228.21L412.88 235.41L404.48 235.41Z"/>
<path d="M387.42 229.07L391.62 236.27L383.22 236.27Z"/>
<path d="M355.91 229.89L360.11 237.09L351.71 237.09Z"/>
<path d="M405.46 227.7L409.66 234.9L401.26 234.9Z"/>
<path d="M349.19 232.11L353.39 239.31L344.99 239.31Z"/>
<path d="M392.45 229.05L396.65 236.25L388.25 236.25Z"/>
<path d="M409.12 228.31L413.32 235.51L404.92 235.51Z"/>
<path d="M409.57 226.29L413.77 233.49L405.37 233.49Z"/>
<path d="M388.28 229.02L392.48 236.22L384.08 236.22Z"/>
</g>
<line x1="440.2" y1="167.4" x2="439" y2="244.6" stroke="#000" stroke-width="1.9"/>
<rect x="327.5" y="167.4" width="207.9" height="77.2" fill="none" stroke="#262626" stroke-width="1.1"/>
<path d="M327.5 244.6v-2.2M327.5 167.4v2.2M379.48 244.6v-2.2M379.48 167.4v2.2M431.45 244.6v-2.2M431.45 167.4v2.2M483.42 244.6v-2.2M483.42 167.4v2.2M535.4 244.6v-2.2M535.4 167.4v2.2M327.5 238.66h2.2M535.4 238.66h-2.2M327.5 208.97h2.2M535.4 208.97h-2.2M327.5 179.28h2.2M535.4 179.28h-2.2" stroke="#262626" stroke-width="1.1" fill="none"/>
<g font-family="'Liberation Serif','Times New Roman',serif" font-size="14.2" fill="#000" stroke="#000" stroke-width="0.2">
<text transform="translate(327.5,262.9) scale(0.92,1)" text-anchor="middle">0</text>
<text transform="translate(379.48,262.9) scale(0.92,1)" text-anchor="middle">0.2</text>
<text transform="translate(431.45,262.9) scale(0.92,1)" text-anchor="middle">0.4</text>
<text transform="translate(483.42,262.9) scale(0.92,1)" text-anchor="middle">0.6</text>
<text transform="translate(535.4,262.9) scale(0.92,1)" text-anchor="middle">0.8</text>
<text transform="translate(322.2,244.36) scale(0.92,1)" text-anchor="end">0</text>
<text transform="translate(322.2,214.67) scale(0.92,1)" text-anchor="end">0.5</text>
<text transform="translate(322.2,184.98) scale(0.92,1)" text-anchor="end">1</text>
</g>
<text x="431.15" y="161.5" text-anchor="middle" font-family="'Liberation Serif','Times New Roman',serif" font-size="14.3" stroke="#000" stroke-width="0.3">IR=6</text>
<text transform="translate(424,281.2) skewX(-10) scale(1.3,1)" font-family="'Liberation Serif','Times New Roman',serif" font-size="14.3" font-style="italic" stroke="#000" stroke-width="0.3">f</text>
<text x="431.1" y="288.1" font-family="'Liberation Serif','Times New Roman',serif" font-size="12" stroke="#000" stroke-width="0.1">1</text>
<g transform="translate(291.2,214.6) rotate(-90)"><text transform="skewX(-10) scale(1.3,1)" font-family="'Liberation Serif','Times New Roman',serif" font-size="14.3" font-style="italic" stroke="#000" stroke-width="0.3">f</text><text x="8.6" y="6.9" font-family="'Liberation Serif','Times New Roman',serif" font-size="12" stroke="#000" stroke-width="0.1">2</text></g>
<g fill="#0000ff" stroke="#0072bd" stroke-width="1.2">
<circle cx="235.8" cy="331.8" r="3.45"/>
<circle cx="197" cy="327.15" r="3.45"/>
<circle cx="207.8" cy="329.13" r="3.45"/>
<circle cx="195.8" cy="333.09" r="3.45"/>
<circle cx="203.5" cy="337.54" r="3.45"/>
<circle cx="214.5" cy="337.54" r="3.45"/>
<circle cx="206" cy="341.99" r="3.45"/>
<circle cx="209.5" cy="341.5" r="3.45"/>
<circle cx="195.5" cy="342.49" r="3.45"/>
<circle cx="194" cy="346.45" r="3.45"/>
<circle cx="211" cy="350.41" r="3.45"/>
<circle cx="202" cy="352.38" r="3.45"/>
<circle cx="204.5" cy="350.9" r="3.45"/>
<circle cx="198" cy="353.87" r="3.45"/>
<circle cx="190.5" cy="353.37" r="3.45"/>
<circle cx="147.2" cy="332.59" r="3.45"/>
<circle cx="156.5" cy="333.58" r="3.45"/>
<circle cx="141" cy="335.56" r="3.45"/>
<circle cx="165.5" cy="333.09" r="3.45"/>
<circle cx="170" cy="332.1" r="3.45"/>
<circle cx="178.5" cy="331.11" r="3.45"/>
<circle cx="183" cy="332.59" r="3.45"/>
<circle cx="169.5" cy="338.53" r="3.45"/>
<circle cx="177" cy="339.52" r="3.45"/>
<circle cx="186" cy="339.02" r="3.45"/>
<circle cx="153" cy="340.51" r="3.45"/>
<circle cx="167.5" cy="344.96" r="3.45"/>
<circle cx="178.5" cy="346.45" r="3.45"/>
<circle cx="186" cy="344.96" r="3.45"/>
<circle cx="184" cy="351.39" r="3.45"/>
<circle cx="175.5" cy="356.84" r="3.45"/>
<circle cx="166.5" cy="355.85" r="3.45"/>
<circle cx="164" cy="359.31" r="3.45"/>
<circle cx="155" cy="358.82" r="3.45"/>
<circle cx="150" cy="360.3" r="3.45"/>
<circle cx="185.5" cy="354.86" r="3.45"/>
<circle cx="178.5" cy="349.91" r="3.45"/>
<circle cx="137" cy="334.08" r="3.45"/>
<circle cx="140" cy="336.06" r="3.45"/>
<circle cx="135.5" cy="341.99" r="3.45"/>
<circle cx="137.5" cy="355.85" r="3.45"/>
<circle cx="101" cy="338.03" r="3.45"/>
<circle cx="106.5" cy="337.04" r="3.45"/>
<circle cx="156" cy="369.7" r="3.45"/>
<circle cx="159" cy="368.71" r="3.45"/>
<circle cx="162.5" cy="371.68" r="3.45"/>
<circle cx="178.5" cy="371.68" r="3.45"/>
<circle cx="145" cy="371.68" r="3.45"/>
<circle cx="141" cy="372.18" r="3.45"/>
<circle cx="100" cy="371.19" r="3.45"/>
<circle cx="105.5" cy="370.2" r="3.45"/>
<circle cx="133" cy="375.15" r="3.45"/>
<circle cx="141" cy="376.14" r="3.45"/>
</g>
<g fill="#ff0000" stroke="#d95319" stroke-width="1.2" stroke-linejoin="miter">
<path d="M59.5 375.7L63.7 382.9L55.3 382.9Z"/>
<path d="M86.5 376.69L90.7 383.89L82.3 383.89Z"/>
<path d="M74 359.57L78.2 366.77L69.8 366.77Z"/>
<path d="M78 348.98L82.2 356.18L73.8 356.18Z"/>
<path d="M87.5 348.98L91.7 356.18L83.3 356.18Z"/>
<path d="M92.5 347.6L96.7 354.8L88.3 354.8Z"/>
<path d="M96 371.84L100.2 379.04L91.8 379.04Z"/>
<path d="M103 371.05L107.2 378.25L98.8 378.25Z"/>
<path d="M101.5 375.51L105.7 382.71L97.3 382.71Z"/>
<path d="M106 374.52L110.2 381.72L101.8 381.72Z"/>
<path d="M102.5 342.85L106.7 350.05L98.3 350.05Z"/>
<path d="M106.5 343.34L110.7 350.54L102.3 350.54Z"/>
<path d="M111.5 344.83L115.7 352.03L107.3 352.03Z"/>
<path d="M121.5 334.43L125.7 341.63L117.3 341.63Z"/>
<path d="M126.5 337.4L130.7 344.6L122.3 344.6Z"/>
<path d="M134 333.44L138.2 340.64L129.8 340.64Z"/>
<path d="M131 341.36L135.2 348.56L126.8 348.56Z"/>
<path d="M141 339.88L145.2 347.08L136.8 347.08Z"/>
<path d="M117 341.36L121.2 348.56L112.8 348.56Z"/>
<path d="M107 351.75L111.2 358.95L102.8 358.95Z"/>
<path d="M118.5 347.79L122.7 354.99L114.3 354.99Z"/>
<path d="M123 344.33L127.2 351.53L118.8 351.53Z"/>
<path d="M130 348.78L134.2 355.98L125.8 355.98Z"/>
<path d="M135 346.81L139.2 354.01L130.8 354.01Z"/>
<path d="M103 349.77L107.2 356.97L98.8 356.97Z"/>
<path d="M99 348.78L103.2 355.98L94.8 355.98Z"/>
<path d="M113 349.77L117.2 356.97L108.8 356.97Z"/>
<path d="M110 356.7L114.2 363.9L105.8 363.9Z"/>
<path d="M120 355.71L124.2 362.91L115.8 362.91Z"/>
<path d="M125 356.7L129.2 363.9L120.8 363.9Z"/>
<path d="M130 356.21L134.2 363.41L125.8 363.41Z"/>
<path d="M140 359.67L144.2 366.87L135.8 366.87Z"/>
<path d="M115 353.73L119.2 360.93L110.8 360.93Z"/>
<path d="M98.5 348.78L102.7 355.98L94.3 355.98Z"/>
<path d="M105 352.25L109.2 359.45L100.8 359.45Z"/>
<path d="M119.5 355.71L123.7 362.91L115.3 362.91Z"/>
<path d="M126 356.21L130.2 363.41L121.8 363.41Z"/>
<path d="M133 355.71L137.2 362.91L128.8 362.91Z"/>
<path d="M139.5 358.68L143.7 365.88L135.3 365.88Z"/>
<path d="M150 339.68L154.2 346.88L145.8 346.88Z"/>
<path d="M161 337.9L165.2 345.1L156.8 345.1Z"/>
<path d="M156.5 340.87L160.7 348.07L152.3 348.07Z"/>
<path d="M171.5 346.31L175.7 353.51L167.3 353.51Z"/>
<path d="M153 348.78L157.2 355.98L148.8 355.98Z"/>
<path d="M162.5 346.81L166.7 354.01L158.3 354.01Z"/>
<path d="M147 352.74L151.2 359.94L142.8 359.94Z"/>
<path d="M145 342.85L149.2 350.05L140.8 350.05Z"/>
<path d="M103 371.55L107.2 378.75L98.8 378.75Z"/>
<path d="M110 373.53L114.2 380.73L105.8 380.73Z"/>
<path d="M116.5 371.55L120.7 378.75L112.3 378.75Z"/>
<path d="M120.5 370.56L124.7 377.76L116.3 377.76Z"/>
<path d="M123.5 371.55L127.7 378.75L119.3 378.75Z"/>
<path d="M129 373.03L133.2 380.23L124.8 380.23Z"/>
<path d="M138 371.05L142.2 378.25L133.8 378.25Z"/>
<path d="M122 377.48L126.2 384.68L117.8 384.68Z"/>
<path d="M112.5 377.48L116.7 384.68L108.3 384.68Z"/>
<path d="M100 376.5L104.2 383.7L95.8 383.7Z"/>
<path d="M106 376.5L110.2 383.7L101.8 383.7Z"/>
<path d="M134.66 347.22L138.86 354.42L130.46 354.42Z"/>
<path d="M146.22 337.81L150.42 345.01L142.02 345.01Z"/>
<path d="M159.85 347.68L164.05 354.88L155.65 354.88Z"/>
<path d="M130.96 339.68L135.16 346.88L126.76 346.88Z"/>
<path d="M114.03 347.97L118.23 355.17L109.83 355.17Z"/>
<path d="M130.4 345.93L134.6 353.13L126.2 353.13Z"/>
<path d="M115.25 353.27L119.45 360.47L111.05 360.47Z"/>
<path d="M114.19 346.93L118.39 354.13L109.99 354.13Z"/>
<path d="M159.98 344.25L164.18 351.45L155.78 351.45Z"/>
<path d="M145.53 354.52L149.73 361.72L141.33 361.72Z"/>
<path d="M106.95 350.45L111.15 357.65L102.75 357.65Z"/>
<path d="M151.39 339.96L155.59 347.16L147.19 347.16Z"/>
<path d="M159.42 341.1L163.62 348.3L155.22 348.3Z"/>
<path d="M120.45 343.39L124.65 350.59L116.25 350.59Z"/>
<path d="M135.39 343.35L139.59 350.55L131.19 350.55Z"/>
<path d="M100.55 352.94L104.75 360.14L96.35 360.14Z"/>
<path d="M157.01 348.19L161.21 355.39L152.81 355.39Z"/>
<path d="M110.8 344.46L115 351.66L106.6 351.66Z"/>
<path d="M150.03 340.98L154.23 348.18L145.83 348.18Z"/>
<path d="M125.73 347.51L129.93 354.71L121.53 354.71Z"/>
<path d="M135.62 338.1L139.82 345.3L131.42 345.3Z"/>
<path d="M136.55 348.77L140.75 355.97L132.35 355.97Z"/>
<path d="M134.24 358.85L138.44 366.05L130.04 366.05Z"/>
<path d="M127.13 354.95L131.33 362.15L122.93 362.15Z"/>
<path d="M155.02 344.72L159.22 351.92L150.82 351.92Z"/>
<path d="M136.02 333.28L140.22 340.48L131.82 340.48Z"/>
<path d="M91.32 341.86L95.52 349.06L87.12 349.06Z"/>
<path d="M90.82 359.18L95.02 366.38L86.62 366.38Z"/>
<path d="M97.82 340.87L102.02 348.07L93.62 348.07Z"/>
<path d="M100.82 340.87L105.02 348.07L96.62 348.07Z"/>
<path d="M99.82 357.69L104.02 364.89L95.62 364.89Z"/>
<path d="M103.82 352.74L108.02 359.94L99.62 359.94Z"/>
<path d="M96.82 354.23L101.02 361.43L92.62 361.43Z"/>
<path d="M106.83 344.83L111.03 352.03L102.63 352.03Z"/>
<path d="M143.84 331.96L148.04 339.16L139.64 339.16Z"/>
<path d="M160.35 338.39L164.55 345.59L156.15 345.59Z"/>
<path d="M179.86 337.4L184.06 344.6L175.66 344.6Z"/>
<path d="M162.85 342.85L167.05 350.05L158.65 350.05Z"/>
<path d="M156.85 354.23L161.05 361.43L152.65 361.43Z"/>
<path d="M139.84 359.18L144.04 366.38L135.64 366.38Z"/>
<path d="M194.07 343.44L198.27 350.64L189.87 350.64Z"/>
<path d="M179.36 338L183.56 345.2L175.16 345.2Z"/>
<path d="M112.83 336.12L117.03 343.32L108.63 343.32Z"/>
<path d="M120.83 334.14L125.03 341.34L116.63 341.34Z"/>
<path d="M125.83 335.62L130.03 342.82L121.63 342.82Z"/>
<path d="M133.84 332.65L138.04 339.85L129.64 339.85Z"/>
<path d="M143.34 332.16L147.54 339.36L139.14 339.36Z"/>
<path d="M116.33 357.2L120.53 364.4L112.13 364.4Z"/>
<path d="M139.34 358.68L143.54 365.88L135.14 365.88Z"/>
<path d="M81.31 373.53L85.51 380.73L77.11 380.73Z"/>
<path d="M86.82 374.91L91.02 382.11L82.62 382.11Z"/>
<path d="M89.52 374.22L93.72 381.42L85.32 381.42Z"/>
<path d="M95.72 372.83L99.92 380.03L91.52 380.03Z"/>
<path d="M102.52 372.24L106.72 379.44L98.32 379.44Z"/>
<path d="M110.03 371.55L114.23 378.75L105.83 378.75Z"/>
<path d="M115.53 371.55L119.73 378.75L111.33 378.75Z"/>
<path d="M120.23 371.55L124.43 378.75L116.03 378.75Z"/>
<path d="M123.63 372.24L127.83 379.44L119.43 379.44Z"/>
<path d="M129.14 372.83L133.34 380.03L124.94 380.03Z"/>
<path d="M131.84 372.24L136.04 379.44L127.64 379.44Z"/>
<path d="M136.64 372.24L140.84 379.44L132.44 379.44Z"/>
<path d="M140.04 374.22L144.24 381.42L135.84 381.42Z"/>
<path d="M84.81 376L89.01 383.2L80.61 383.2Z"/>
<path d="M96.42 376L100.62 383.2L92.22 383.2Z"/>
<path d="M114.13 374.52L118.33 381.72L109.93 381.72Z"/>
<path d="M120.93 374.52L125.13 381.72L116.73 381.72Z"/>
<path d="M90.22 357.69L94.42 364.89L86.02 364.89Z"/>
<path d="M138.64 357.69L142.84 364.89L134.44 364.89Z"/>
<path d="M102.67 355.51L106.87 362.71L98.47 362.71Z"/>
<path d="M155.66 338.75L159.86 345.95L151.46 345.95Z"/>
<path d="M144.38 349.76L148.58 356.96L140.18 356.96Z"/>
<path d="M140.05 342.08L144.25 349.28L135.85 349.28Z"/>
<path d="M138.36 353.62L142.56 360.82L134.16 360.82Z"/>
<path d="M128.12 347.57L132.32 354.77L123.92 354.77Z"/>
<path d="M163.41 343.69L167.61 350.89L159.21 350.89Z"/>
<path d="M129.09 350.79L133.29 357.99L124.89 357.99Z"/>
<path d="M130.45 349.5L134.65 356.7L126.25 356.7Z"/>
<path d="M124.67 334.74L128.87 341.94L120.47 341.94Z"/>
<path d="M134.59 343.27L138.79 350.47L130.39 350.47Z"/>
<path d="M120.94 354.17L125.14 361.37L116.74 361.37Z"/>
<path d="M144.71 353.01L148.91 360.21L140.51 360.21Z"/>
<path d="M148.78 334.36L152.98 341.56L144.58 341.56Z"/>
<path d="M150.72 337.37L154.92 344.57L146.52 344.57Z"/>
<path d="M150.12 339.29L154.32 346.49L145.92 346.49Z"/>
<path d="M130.21 344.04L134.41 351.24L126.01 351.24Z"/>
<path d="M132.16 333.89L136.36 341.09L127.96 341.09Z"/>
<path d="M132.89 336.3L137.09 343.5L128.69 343.5Z"/>
<path d="M122.9 334.97L127.1 342.17L118.7 342.17Z"/>
<path d="M160.03 345.83L164.23 353.03L155.83 353.03Z"/>
<path d="M137.44 334.01L141.64 341.21L133.24 341.21Z"/>
<path d="M148.06 345.17L152.26 352.37L143.86 352.37Z"/>
<path d="M113.91 349.34L118.11 356.54L109.71 356.54Z"/>
<path d="M146.42 353.42L150.62 360.62L142.22 360.62Z"/>
<path d="M133.13 344.37L137.33 351.57L128.93 351.57Z"/>
<path d="M143.14 342.56L147.34 349.76L138.94 349.76Z"/>
<path d="M120.04 352.34L124.24 359.54L115.84 359.54Z"/>
<path d="M133.65 333.65L137.85 340.85L129.45 340.85Z"/>
<path d="M141.22 355.75L145.42 362.95L137.02 362.95Z"/>
<path d="M162.7 331.72L166.9 338.92L158.5 338.92Z"/>
<path d="M156.2 337.08L160.4 344.28L152 344.28Z"/>
<path d="M171.5 345.81L175.7 353.01L167.3 353.01Z"/>
<path d="M179.1 337.08L183.3 344.28L174.9 344.28Z"/>
<path d="M181.3 343.63L185.5 350.83L177.1 350.83Z"/>
<path d="M194.4 342.54L198.6 349.74L190.2 349.74Z"/>
<path d="M162.7 370.62L166.9 377.82L158.5 377.82Z"/>
<path d="M139.8 371.71L144 378.91L135.6 378.91Z"/>
<path d="M144.2 331.72L148.4 338.92L140 338.92Z"/>
<path d="M139.8 357.72L144 364.92L135.6 364.92Z"/>
<path d="M82.8 343.23L87 350.43L78.6 350.43Z"/>
<path d="M93.3 338.37L97.5 345.57L89.1 345.57Z"/>
<path d="M84.2 355.14L88.4 362.34L80 362.34Z"/>
<path d="M91.2 359.31L95.4 366.51L87 366.51Z"/>
<path d="M107.3 336.29L111.5 343.49L103.1 343.49Z"/>
<path d="M118.5 332.81L122.7 340.01L114.3 340.01Z"/>
<path d="M71.5 378.06L75.7 385.26L67.3 385.26Z"/>
<path d="M76.4 373.69L80.6 380.89L72.2 380.89Z"/>
<path d="M82.8 373L87 380.2L78.6 380.2Z"/>
<path d="M97.13 342.57L101.33 349.77L92.93 349.77Z"/>
<path d="M110.08 341.1L114.28 348.3L105.88 348.3Z"/>
<path d="M135.16 354.29L139.36 361.49L130.96 361.49Z"/>
<path d="M99.23 350.16L103.43 357.36L95.03 357.36Z"/>
<path d="M155.82 344.23L160.02 351.43L151.62 351.43Z"/>
<path d="M136.46 352.21L140.66 359.41L132.26 359.41Z"/>
<path d="M136.05 334.63L140.25 341.83L131.85 341.83Z"/>
<path d="M125.1 337.74L129.3 344.94L120.9 344.94Z"/>
<path d="M148.15 341.42L152.35 348.62L143.95 348.62Z"/>
<path d="M103.34 355.14L107.54 362.34L99.14 362.34Z"/>
<path d="M158.67 344.32L162.87 351.52L154.47 351.52Z"/>
<path d="M112.53 336.28L116.73 343.48L108.33 343.48Z"/>
<path d="M87.13 350.58L91.33 357.78L82.93 357.78Z"/>
<path d="M168.47 345.21L172.67 352.41L164.27 352.41Z"/>
<path d="M135.25 348.52L139.45 355.72L131.05 355.72Z"/>
<path d="M123.54 346.45L127.74 353.65L119.34 353.65Z"/>
<path d="M108.21 341.57L112.41 348.77L104.01 348.77Z"/>
<path d="M131.09 333.75L135.29 340.95L126.89 340.95Z"/>
<path d="M139.62 351.9L143.82 359.1L135.42 359.1Z"/>
<path d="M162.51 341.96L166.71 349.16L158.31 349.16Z"/>
<path d="M143.79 350.73L147.99 357.93L139.59 357.93Z"/>
<path d="M155.34 341.85L159.54 349.05L151.14 349.05Z"/>
<path d="M101.74 354.35L105.94 361.55L97.54 361.55Z"/>
<path d="M114.05 352.21L118.25 359.41L109.85 359.41Z"/>
<path d="M102.62 337.06L106.82 344.26L98.42 344.26Z"/>
<path d="M144.25 347.79L148.45 354.99L140.05 354.99Z"/>
<path d="M104.17 354.01L108.37 361.21L99.97 361.21Z"/>
<path d="M93.15 345.91L97.35 353.11L88.95 353.11Z"/>
<path d="M133.66 352.07L137.86 359.27L129.46 359.27Z"/>
<path d="M161.72 346.64L165.92 353.84L157.52 353.84Z"/>
<path d="M118.95 343.16L123.15 350.36L114.75 350.36Z"/>
<path d="M136.94 341.31L141.14 348.51L132.74 348.51Z"/>
<path d="M128.64 340.71L132.84 347.91L124.44 347.91Z"/>
<path d="M166.03 343.48L170.23 350.68L161.83 350.68Z"/>
<path d="M116.08 338.25L120.28 345.45L111.88 345.45Z"/>
<path d="M97.1 348.52L101.3 355.72L92.9 355.72Z"/>
<path d="M169.68 343.13L173.88 350.33L165.48 350.33Z"/>
<path d="M114.51 341.69L118.71 348.89L110.31 348.89Z"/>
<path d="M135.79 354.43L139.99 361.63L131.59 361.63Z"/>
<path d="M135.31 344.48L139.51 351.68L131.11 351.68Z"/>
<path d="M140.41 347.26L144.61 354.46L136.21 354.46Z"/>
<path d="M143.12 337.82L147.32 345.02L138.92 345.02Z"/>
<path d="M75.98 354.42L80.18 361.62L71.78 361.62Z"/>
<path d="M98.42 344.72L102.62 351.92L94.22 351.92Z"/>
<path d="M131.92 348.06L136.12 355.26L127.72 355.26Z"/>
<path d="M109.49 348.24L113.69 355.44L105.29 355.44Z"/>
<path d="M110 341.31L114.2 348.51L105.8 348.51Z"/>
<path d="M103.26 346.66L107.46 353.86L99.06 353.86Z"/>
<path d="M129.62 337.89L133.82 345.09L125.42 345.09Z"/>
<path d="M104.2 350.45L108.4 357.65L100 357.65Z"/>
<path d="M127.01 346.54L131.21 353.74L122.81 353.74Z"/>
<path d="M142.26 345.1L146.46 352.3L138.06 352.3Z"/>
<path d="M125.8 349.91L130 357.11L121.6 357.11Z"/>
<path d="M115.51 346.11L119.71 353.31L111.31 353.31Z"/>
<path d="M95.96 348.35L100.16 355.55L91.76 355.55Z"/>
<path d="M120.59 343.41L124.79 350.61L116.39 350.61Z"/>
<path d="M138.8 340.19L143 347.39L134.6 347.39Z"/>
<path d="M105.15 346.44L109.35 353.64L100.95 353.64Z"/>
<path d="M128.8 338.01L133 345.21L124.6 345.21Z"/>
<path d="M116.63 341.52L120.83 348.72L112.43 348.72Z"/>
<path d="M104.92 349.27L109.12 356.47L100.72 356.47Z"/>
<path d="M146.95 341.09L151.15 348.29L142.75 348.29Z"/>
<path d="M114.25 337.79L118.45 344.99L110.05 344.99Z"/>
<path d="M96.1 343.3L100.3 350.5L91.9 350.5Z"/>
<path d="M117.31 348.47L121.51 355.67L113.11 355.67Z"/>
<path d="M137.5 340.78L141.7 347.98L133.3 347.98Z"/>
<path d="M113.76 338.85L117.96 346.05L109.56 346.05Z"/>
<path d="M115.75 349.04L119.95 356.24L111.55 356.24Z"/>
<path d="M98.5 349.3L102.7 356.5L94.3 356.5Z"/>
<path d="M144.75 343.37L148.95 350.57L140.55 350.57Z"/>
<path d="M125.52 345.5L129.72 352.7L121.32 352.7Z"/>
<path d="M121.3 345.9L125.5 353.1L117.1 353.1Z"/>
<path d="M92.68 350.1L96.88 357.3L88.48 357.3Z"/>
<path d="M94.82 351.79L99.02 358.99L90.62 358.99Z"/>
<path d="M139.32 347.2L143.52 354.4L135.12 354.4Z"/>
<path d="M111 345.61L115.2 352.81L106.8 352.81Z"/>
<path d="M116.84 346.6L121.04 353.8L112.64 353.8Z"/>
<path d="M121.76 342.34L125.96 349.54L117.56 349.54Z"/>
<path d="M106.4 343.62L110.6 350.82L102.2 350.82Z"/>
<path d="M97.04 349.09L101.24 356.29L92.84 356.29Z"/>
<path d="M108.84 346.66L113.04 353.86L104.64 353.86Z"/>
<path d="M107.47 343.47L111.67 350.67L103.27 350.67Z"/>
<path d="M133.38 342.23L137.58 349.43L129.18 349.43Z"/>
<path d="M99.35 349.54L103.55 356.74L95.15 356.74Z"/>
<path d="M145.22 340.94L149.42 348.14L141.02 348.14Z"/>
<path d="M124.92 346.68L129.12 353.88L120.72 353.88Z"/>
<path d="M128.27 348.04L132.47 355.24L124.07 355.24Z"/>
<path d="M110.26 340.43L114.46 347.63L106.06 347.63Z"/>
<path d="M108.07 350.9L112.27 358.1L103.87 358.1Z"/>
<path d="M127.74 347.89L131.94 355.09L123.54 355.09Z"/>
<path d="M113.27 372.89L117.47 380.09L109.07 380.09Z"/>
<path d="M119.83 373.04L124.03 380.24L115.63 380.24Z"/>
<path d="M109.88 374.67L114.08 381.87L105.68 381.87Z"/>
<path d="M91.58 375.96L95.78 383.16L87.38 383.16Z"/>
<path d="M116.27 371.91L120.47 379.11L112.07 379.11Z"/>
<path d="M139.57 371.78L143.77 378.98L135.37 378.98Z"/>
<path d="M77.23 375.84L81.43 383.04L73.03 383.04Z"/>
<path d="M86.86 376.31L91.06 383.51L82.66 383.51Z"/>
<path d="M91.83 375.16L96.03 382.36L87.63 382.36Z"/>
<path d="M127.54 373.58L131.74 380.78L123.34 380.78Z"/>
<path d="M77.28 377.48L81.48 384.68L73.08 384.68Z"/>
<path d="M76.94 375.89L81.14 383.09L72.74 383.09Z"/>
<path d="M71.94 376.28L76.14 383.48L67.74 383.48Z"/>
<path d="M83.65 377.07L87.85 384.27L79.45 384.27Z"/>
<path d="M105.46 375.5L109.66 382.7L101.26 382.7Z"/>
<path d="M106.08 375.3L110.28 382.5L101.88 382.5Z"/>
<path d="M111 374.69L115.2 381.89L106.8 381.89Z"/>
<path d="M107.19 373.08L111.39 380.28L102.99 380.28Z"/>
<path d="M70 378.07L74.2 385.27L65.8 385.27Z"/>
<path d="M115.8 371.97L120 379.17L111.6 379.17Z"/>
<path d="M143.84 331.72L148.04 338.92L139.64 338.92Z"/>
<path d="M162.35 331.72L166.55 338.92L158.15 338.92Z"/>
<path d="M178.76 337.08L182.96 344.28L174.56 344.28Z"/>
<path d="M185.36 338.17L189.56 345.37L181.16 345.37Z"/>
<path d="M194.07 343.63L198.27 350.83L189.87 350.83Z"/>
<path d="M177.66 350.08L181.86 357.28L173.46 357.28Z"/>
<path d="M173.36 343.63L177.56 350.83L169.16 350.83Z"/>
<path d="M182.06 344.72L186.26 351.92L177.86 351.92Z"/>
<path d="M139.44 356.63L143.64 363.83L135.24 363.83Z"/>
<path d="M140.54 370.62L144.74 377.82L136.34 377.82Z"/>
<path d="M153.65 371.71L157.85 378.91L149.45 378.91Z"/>
<path d="M162.35 370.62L166.55 377.82L158.15 377.82Z"/>
<path d="M96.95 353.37L101.15 360.57L92.75 360.57Z"/>
<path d="M112.64 352.1L116.84 359.3L108.44 359.3Z"/>
<path d="M80.32 346.06L84.52 353.26L76.12 353.26Z"/>
<path d="M148.83 350.46L153.03 357.66L144.63 357.66Z"/>
<path d="M126.42 349.12L130.62 356.32L122.22 356.32Z"/>
<path d="M90.73 353.3L94.93 360.5L86.53 360.5Z"/>
<path d="M104.18 340.54L108.38 347.74L99.98 347.74Z"/>
<path d="M133.21 339.44L137.41 346.64L129.01 346.64Z"/>
<path d="M123.41 351.54L127.61 358.74L119.21 358.74Z"/>
<path d="M120.24 353.71L124.44 360.91L116.04 360.91Z"/>
<path d="M127.5 348.54L131.7 355.74L123.3 355.74Z"/>
<path d="M162.92 341.88L167.12 349.08L158.72 349.08Z"/>
<path d="M123.65 345.76L127.85 352.96L119.45 352.96Z"/>
<path d="M132.53 345.34L136.73 352.54L128.33 352.54Z"/>
<path d="M89.62 348.42L93.82 355.62L85.42 355.62Z"/>
<path d="M101.3 342.8L105.5 350L97.1 350Z"/>
<path d="M120.01 347.5L124.21 354.7L115.81 354.7Z"/>
<path d="M114.28 350.93L118.48 358.13L110.08 358.13Z"/>
<path d="M135.84 349.13L140.04 356.33L131.64 356.33Z"/>
<path d="M108.69 337.6L112.89 344.8L104.49 344.8Z"/>
<path d="M105.24 342.22L109.44 349.42L101.04 349.42Z"/>
<path d="M79.84 350.29L84.04 357.49L75.64 357.49Z"/>
<path d="M148.83 340.82L153.03 348.02L144.63 348.02Z"/>
<path d="M97.08 347.79L101.28 354.99L92.88 354.99Z"/>
<path d="M91.21 344.65L95.41 351.85L87.01 351.85Z"/>
<path d="M75.58 348.82L79.78 356.02L71.38 356.02Z"/>
<path d="M134.65 335.86L138.85 343.06L130.45 343.06Z"/>
<path d="M102.57 351.21L106.77 358.41L98.37 358.41Z"/>
<path d="M117.35 352.56L121.55 359.76L113.15 359.76Z"/>
<path d="M78.19 351.75L82.39 358.95L73.99 358.95Z"/>
<path d="M150.65 347.01L154.85 354.21L146.45 354.21Z"/>
<path d="M102.27 353.52L106.47 360.72L98.07 360.72Z"/>
<path d="M170.07 345.51L174.27 352.71L165.87 352.71Z"/>
<path d="M94.19 354.45L98.39 361.65L89.99 361.65Z"/>
<path d="M79.22 351.77L83.42 358.97L75.02 358.97Z"/>
<path d="M140.17 352.23L144.37 359.43L135.97 359.43Z"/>
<path d="M85.79 342.93L89.99 350.13L81.59 350.13Z"/>
<path d="M149.68 345.87L153.88 353.07L145.48 353.07Z"/>
<path d="M170.65 344.19L174.85 351.39L166.45 351.39Z"/>
<path d="M97.52 345.84L101.72 353.04L93.32 353.04Z"/>
<path d="M77.42 345.58L81.62 352.78L73.22 352.78Z"/>
<path d="M155.29 343.68L159.49 350.88L151.09 350.88Z"/>
<path d="M76.9 349.67L81.1 356.87L72.7 356.87Z"/>
<path d="M97.57 350.8L101.77 358L93.37 358Z"/>
<path d="M164.8 342.05L169 349.25L160.6 349.25Z"/>
<path d="M170.93 346.03L175.13 353.23L166.73 353.23Z"/>
<path d="M162.14 339.88L166.34 347.08L157.94 347.08Z"/>
<path d="M122.27 353.62L126.47 360.82L118.07 360.82Z"/>
<path d="M106.8 339.81L111 347.01L102.6 347.01Z"/>
<path d="M152.2 340.16L156.4 347.36L148 347.36Z"/>
<path d="M107.39 348.21L111.59 355.41L103.19 355.41Z"/>
<path d="M141.56 342.48L145.76 349.68L137.36 349.68Z"/>
<path d="M139.31 344.45L143.51 351.65L135.11 351.65Z"/>
<path d="M123.59 335.55L127.79 342.75L119.39 342.75Z"/>
<path d="M105.85 348.98L110.05 356.18L101.65 356.18Z"/>
<path d="M140.05 339.55L144.25 346.75L135.85 346.75Z"/>
<path d="M89.61 348.29L93.81 355.49L85.41 355.49Z"/>
<path d="M107.36 348.67L111.56 355.87L103.16 355.87Z"/>
<path d="M93.26 346.89L97.46 354.09L89.06 354.09Z"/>
<path d="M149.02 341.92L153.22 349.12L144.82 349.12Z"/>
<path d="M145.36 338.66L149.56 345.86L141.16 345.86Z"/>
<path d="M129.7 351.76L133.9 358.96L125.5 358.96Z"/>
<path d="M115.13 347.67L119.33 354.87L110.93 354.87Z"/>
<path d="M133.37 340.47L137.57 347.67L129.17 347.67Z"/>
<path d="M105.33 339.4L109.53 346.6L101.13 346.6Z"/>
<path d="M97.9 343.04L102.1 350.24L93.7 350.24Z"/>
<path d="M134.02 341.62L138.22 348.82L129.82 348.82Z"/>
<path d="M102.52 350.09L106.72 357.29L98.32 357.29Z"/>
<path d="M127.89 335.96L132.09 343.16L123.69 343.16Z"/>
<path d="M105.49 345.62L109.69 352.82L101.29 352.82Z"/>
<path d="M94.92 345.63L99.12 352.83L90.72 352.83Z"/>
<path d="M116.32 340.57L120.52 347.77L112.12 347.77Z"/>
<path d="M108.21 340.37L112.41 347.57L104.01 347.57Z"/>
<path d="M123.53 346.23L127.73 353.43L119.33 353.43Z"/>
<path d="M117.66 343.05L121.86 350.25L113.46 350.25Z"/>
<path d="M107.42 344.14L111.62 351.34L103.22 351.34Z"/>
<path d="M135.57 345.51L139.77 352.71L131.37 352.71Z"/>
<path d="M94.73 351.78L98.93 358.98L90.53 358.98Z"/>
<path d="M108.46 346.55L112.66 353.75L104.26 353.75Z"/>
<path d="M139.78 349.07L143.98 356.27L135.58 356.27Z"/>
<path d="M140.25 340.42L144.45 347.62L136.05 347.62Z"/>
<path d="M125.79 339.5L129.99 346.7L121.59 346.7Z"/>
<path d="M141.93 342.31L146.13 349.51L137.73 349.51Z"/>
<path d="M120.96 341.92L125.16 349.12L116.76 349.12Z"/>
<path d="M129.23 344.28L133.43 351.48L125.03 351.48Z"/>
<path d="M126.33 346.35L130.53 353.55L122.13 353.55Z"/>
<path d="M101.51 346.4L105.71 353.6L97.31 353.6Z"/>
<path d="M132.32 346.17L136.52 353.37L128.12 353.37Z"/>
<path d="M123.67 336.54L127.87 343.74L119.47 343.74Z"/>
<path d="M115.89 350.14L120.09 357.34L111.69 357.34Z"/>
<path d="M98.21 373.75L102.41 380.95L94.01 380.95Z"/>
<path d="M149.57 372.31L153.77 379.51L145.37 379.51Z"/>
<path d="M95.55 375.05L99.75 382.25L91.35 382.25Z"/>
<path d="M68.29 378L72.49 385.2L64.09 385.2Z"/>
<path d="M78.77 376.45L82.97 383.65L74.57 383.65Z"/>
<path d="M125.18 371.9L129.38 379.1L120.98 379.1Z"/>
<path d="M135.51 372.91L139.71 380.11L131.31 380.11Z"/>
<path d="M114.25 373.76L118.45 380.96L110.05 380.96Z"/>
<path d="M82.72 374.57L86.92 381.77L78.52 381.77Z"/>
<path d="M132.29 372.4L136.49 379.6L128.09 379.6Z"/>
<path d="M76 376.78L80.2 383.98L71.8 383.98Z"/>
<path d="M119.28 373.74L123.48 380.94L115.08 380.94Z"/>
<path d="M135.96 373.01L140.16 380.21L131.76 380.21Z"/>
<path d="M136.41 371.01L140.61 378.21L132.21 378.21Z"/>
<path d="M115.11 373.71L119.31 380.91L110.91 380.91Z"/>
<path d="M66 345.9L70.2 353.1L61.8 353.1Z"/>
<path d="M73.6 360L77.8 367.2L69.4 367.2Z"/>
<path d="M73.6 349.1L77.8 356.3L69.4 356.3Z"/>
<path d="M162.7 331.7L166.9 338.9L158.5 338.9Z"/>
<path d="M179.1 338.2L183.3 345.4L174.9 345.4Z"/>
<path d="M185.6 338.2L189.8 345.4L181.4 345.4Z"/>
<path d="M194.4 343.7L198.6 350.9L190.2 350.9Z"/>
<path d="M179.1 344.8L183.3 352L174.9 352Z"/>
<path d="M179.1 349.1L183.3 356.3L174.9 356.3Z"/>
<path d="M173.6 343.7L177.8 350.9L169.4 350.9Z"/>
<path d="M139.8 357.9L144 365.1L135.6 365.1Z"/>
<path d="M147.5 370.9L151.7 378.1L143.3 378.1Z"/>
<path d="M155.1 370.5L159.3 377.7L150.9 377.7Z"/>
<path d="M162.7 370.5L166.9 377.7L158.5 377.7Z"/>
<path d="M138.7 372L142.9 379.2L134.5 379.2Z"/>
<path d="M58.4 377.5L62.6 384.7L54.2 384.7Z"/>
<path d="M134.39 337.73L138.59 344.93L130.19 344.93Z"/>
<path d="M166.23 340L170.43 347.2L162.03 347.2Z"/>
<path d="M119.11 349.86L123.31 357.06L114.91 357.06Z"/>
<path d="M126.53 341.84L130.73 349.04L122.33 349.04Z"/>
<path d="M73.8 350.59L78 357.79L69.6 357.79Z"/>
<path d="M133.85 352.8L138.05 360L129.65 360Z"/>
<path d="M93.31 350.62L97.51 357.82L89.11 357.82Z"/>
<path d="M126.08 339.29L130.28 346.49L121.88 346.49Z"/>
<path d="M161.3 348.58L165.5 355.78L157.1 355.78Z"/>
<path d="M108.39 351.83L112.59 359.03L104.19 359.03Z"/>
<path d="M86.98 354.3L91.18 361.5L82.78 361.5Z"/>
<path d="M102.44 341.12L106.64 348.32L98.24 348.32Z"/>
<path d="M106.07 348.31L110.27 355.51L101.87 355.51Z"/>
<path d="M153.83 344.12L158.03 351.32L149.63 351.32Z"/>
<path d="M103.88 344.11L108.08 351.31L99.68 351.31Z"/>
<path d="M108.88 341.73L113.08 348.93L104.68 348.93Z"/>
<path d="M106.72 347.21L110.92 354.41L102.52 354.41Z"/>
<path d="M124.63 336.9L128.83 344.1L120.43 344.1Z"/>
<path d="M81.56 347.55L85.76 354.75L77.36 354.75Z"/>
<path d="M133.19 333.41L137.39 340.61L128.99 340.61Z"/>
<path d="M126.66 348.24L130.86 355.44L122.46 355.44Z"/>
<path d="M103.98 351.55L108.18 358.75L99.78 358.75Z"/>
<path d="M80.27 352.25L84.47 359.45L76.07 359.45Z"/>
<path d="M170.53 342.83L174.73 350.03L166.33 350.03Z"/>
<path d="M112.83 350.09L117.03 357.29L108.63 357.29Z"/>
<path d="M131.51 335.66L135.71 342.86L127.31 342.86Z"/>
<path d="M117.77 345.57L121.97 352.77L113.57 352.77Z"/>
<path d="M135.13 336.59L139.33 343.79L130.93 343.79Z"/>
<path d="M83.09 345.25L87.29 352.45L78.89 352.45Z"/>
<path d="M101.79 344.8L105.99 352L97.59 352Z"/>
<path d="M169.47 344.79L173.67 351.99L165.27 351.99Z"/>
<path d="M121 338.03L125.2 345.23L116.8 345.23Z"/>
<path d="M120.1 348.77L124.3 355.97L115.9 355.97Z"/>
<path d="M112.62 352.31L116.82 359.51L108.42 359.51Z"/>
<path d="M167.86 340.54L172.06 347.74L163.66 347.74Z"/>
<path d="M122.11 347.61L126.31 354.81L117.91 354.81Z"/>
<path d="M81.36 349.23L85.56 356.43L77.16 356.43Z"/>
<path d="M108.4 336.64L112.6 343.84L104.2 343.84Z"/>
<path d="M149.49 338.88L153.69 346.08L145.29 346.08Z"/>
<path d="M138.47 337.29L142.67 344.49L134.27 344.49Z"/>
<path d="M108.61 338.64L112.81 345.84L104.41 345.84Z"/>
<path d="M100.4 344L104.6 351.2L96.2 351.2Z"/>
<path d="M148.98 338.97L153.18 346.17L144.78 346.17Z"/>
<path d="M137.05 341.67L141.25 348.87L132.85 348.87Z"/>
<path d="M97.41 339.44L101.61 346.64L93.21 346.64Z"/>
<path d="M118.5 335.89L122.7 343.09L114.3 343.09Z"/>
<path d="M136.83 336.36L141.03 343.56L132.63 343.56Z"/>
<path d="M107.06 340.12L111.26 347.32L102.86 347.32Z"/>
<path d="M107.28 335.25L111.48 342.45L103.08 342.45Z"/>
<path d="M158.93 339.04L163.13 346.24L154.73 346.24Z"/>
<path d="M125.7 348.18L129.9 355.38L121.5 355.38Z"/>
<path d="M137.71 345.97L141.91 353.17L133.51 353.17Z"/>
<path d="M140.78 346.64L144.98 353.84L136.58 353.84Z"/>
<path d="M125.19 338.33L129.39 345.53L120.99 345.53Z"/>
<path d="M87.81 346.81L92.01 354.01L83.61 354.01Z"/>
<path d="M113.51 347.46L117.71 354.66L109.31 354.66Z"/>
<path d="M116.9 347.22L121.1 354.42L112.7 354.42Z"/>
<path d="M95.63 350.73L99.83 357.93L91.43 357.93Z"/>
<path d="M146.76 346.08L150.96 353.28L142.56 353.28Z"/>
<path d="M148.9 346.01L153.1 353.21L144.7 353.21Z"/>
<path d="M109.29 349.52L113.49 356.72L105.09 356.72Z"/>
<path d="M150.29 339.62L154.49 346.82L146.09 346.82Z"/>
<path d="M146.28 341.86L150.48 349.06L142.08 349.06Z"/>
<path d="M123.95 349.64L128.15 356.84L119.75 356.84Z"/>
<path d="M125.38 336.82L129.58 344.02L121.18 344.02Z"/>
<path d="M137.59 343.2L141.79 350.4L133.39 350.4Z"/>
<path d="M136.36 347.79L140.56 354.99L132.16 354.99Z"/>
<path d="M132.39 341.68L136.59 348.88L128.19 348.88Z"/>
<path d="M104.6 338.57L108.8 345.77L100.4 345.77Z"/>
<path d="M110.76 351.84L114.96 359.04L106.56 359.04Z"/>
<path d="M147.56 339.86L151.76 347.06L143.36 347.06Z"/>
<path d="M104.1 344.35L108.3 351.55L99.9 351.55Z"/>
<path d="M108.86 337.35L113.06 344.55L104.66 344.55Z"/>
<path d="M114.95 342.25L119.15 349.45L110.75 349.45Z"/>
<path d="M113.23 351.54L117.43 358.74L109.03 358.74Z"/>
<path d="M118.81 348.45L123.01 355.65L114.61 355.65Z"/>
<path d="M104.82 345.76L109.02 352.96L100.62 352.96Z"/>
<path d="M105.91 344.4L110.11 351.6L101.71 351.6Z"/>
<path d="M125.77 342.72L129.97 349.92L121.57 349.92Z"/>
<path d="M118.96 346.66L123.16 353.86L114.76 353.86Z"/>
<path d="M114.66 350.17L118.86 357.37L110.46 357.37Z"/>
<path d="M111.57 342.29L115.77 349.49L107.37 349.49Z"/>
<path d="M143.32 344.11L147.52 351.31L139.12 351.31Z"/>
<path d="M136.8 343.46L141 350.66L132.6 350.66Z"/>
<path d="M123.52 338.42L127.72 345.62L119.32 345.62Z"/>
<path d="M135.67 346.4L139.87 353.6L131.47 353.6Z"/>
<path d="M119.71 338.94L123.91 346.14L115.51 346.14Z"/>
<path d="M128.7 342.59L132.9 349.79L124.5 349.79Z"/>
<path d="M128.7 340.54L132.9 347.74L124.5 347.74Z"/>
<path d="M110.15 347.86L114.35 355.06L105.95 355.06Z"/>
<path d="M140 371.8L144.2 379L135.8 379Z"/>
<path d="M86.66 375.56L90.86 382.76L82.46 382.76Z"/>
<path d="M122.33 373.76L126.53 380.96L118.13 380.96Z"/>
<path d="M95.16 375.05L99.36 382.25L90.96 382.25Z"/>
<path d="M109.63 372.91L113.83 380.11L105.43 380.11Z"/>
<path d="M61.99 376.7L66.19 383.9L57.79 383.9Z"/>
<path d="M97.39 376L101.59 383.2L93.19 383.2Z"/>
<path d="M97.86 374.44L102.06 381.64L93.66 381.64Z"/>
<path d="M97.76 374.61L101.96 381.81L93.56 381.81Z"/>
<path d="M104.95 374.33L109.15 381.53L100.75 381.53Z"/>
<path d="M135.82 371.99L140.02 379.19L131.62 379.19Z"/>
<path d="M91.94 374.92L96.14 382.12L87.74 382.12Z"/>
<path d="M126.52 373.56L130.72 380.76L122.32 380.76Z"/>
<path d="M89.19 373.86L93.39 381.06L84.99 381.06Z"/>
<path d="M110.29 372.43L114.49 379.63L106.09 379.63Z"/>
</g>
<line x1="169.3" y1="312.6" x2="172.3" y2="389.1" stroke="#000" stroke-width="1.9"/>
<rect x="54.3" y="312.6" width="208" height="76.6" fill="none" stroke="#262626" stroke-width="1.1"/>
<path d="M54.3 389.2v-2.2M54.3 312.6v2.2M106.3 389.2v-2.2M106.3 312.6v2.2M158.3 389.2v-2.2M158.3 312.6v2.2M210.3 389.2v-2.2M210.3 312.6v2.2M262.3 389.2v-2.2M262.3 312.6v2.2M54.3 383.31h2.2M262.3 383.31h-2.2M54.3 353.85h2.2M262.3 353.85h-2.2M54.3 324.38h2.2M262.3 324.38h-2.2" stroke="#262626" stroke-width="1.1" fill="none"/>
<g font-family="'Liberation Serif','Times New Roman',serif" font-size="14.2" fill="#000" stroke="#000" stroke-width="0.2">
<text transform="translate(54.3,407.5) scale(0.92,1)" text-anchor="middle">0</text>
<text transform="translate(106.3,407.5) scale(0.92,1)" text-anchor="middle">0.2</text>
<text transform="translate(158.3,407.5) scale(0.92,1)" text-anchor="middle">0.4</text>
<text transform="translate(210.3,407.5) scale(0.92,1)" text-anchor="middle">0.6</text>
<text transform="translate(262.3,407.5) scale(0.92,1)" text-anchor="middle">0.8</text>
<text transform="translate(49,389.01) scale(0.92,1)" text-anchor="end">0</text>
<text transform="translate(49,359.55) scale(0.92,1)" text-anchor="end">0.5</text>
<text transform="translate(49,330.08) scale(0.92,1)" text-anchor="end">1</text>
</g>
<text x="158" y="306.7" text-anchor="middle" font-family="'Liberation Serif','Times New Roman',serif" font-size="14.3" stroke="#000" stroke-width="0.3">IR=8</text>
<text transform="translate(150.8,425.8) skewX(-10) scale(1.3,1)" font-family="'Liberation Serif','Times New Roman',serif" font-size="14.3" font-style="italic" stroke="#000" stroke-width="0.3">f</text>
<text x="157.9" y="432.7" font-family="'Liberation Serif','Times New Roman',serif" font-size="12" stroke="#000" stroke-width="0.1">1</text>
<g transform="translate(18,359.8) rotate(-90)"><text transform="skewX(-10) scale(1.3,1)" font-family="'Liberation Serif','Times New Roman',serif" font-size="14.3" font-style="italic" stroke="#000" stroke-width="0.3">f</text><text x="8.6" y="6.9" font-family="'Liberation Serif','Times New Roman',serif" font-size="12" stroke="#000" stroke-width="0.1">2</text></g>
<g fill="#0000ff" stroke="#0072bd" stroke-width="1.2">
<circle cx="508.91" cy="331.8" r="3.45"/>
<circle cx="470.13" cy="327.15" r="3.45"/>
<circle cx="480.93" cy="329.13" r="3.45"/>
<circle cx="468.93" cy="333.09" r="3.45"/>
<circle cx="476.63" cy="337.54" r="3.45"/>
<circle cx="487.62" cy="337.54" r="3.45"/>
<circle cx="479.13" cy="341.99" r="3.45"/>
<circle cx="482.63" cy="341.5" r="3.45"/>
<circle cx="468.63" cy="342.49" r="3.45"/>
<circle cx="467.13" cy="346.45" r="3.45"/>
<circle cx="484.12" cy="350.41" r="3.45"/>
<circle cx="475.13" cy="352.38" r="3.45"/>
<circle cx="477.63" cy="350.9" r="3.45"/>
<circle cx="471.13" cy="353.87" r="3.45"/>
<circle cx="463.63" cy="353.37" r="3.45"/>
<circle cx="420.36" cy="332.59" r="3.45"/>
<circle cx="429.65" cy="333.58" r="3.45"/>
<circle cx="414.16" cy="335.56" r="3.45"/>
<circle cx="438.65" cy="333.09" r="3.45"/>
<circle cx="443.14" cy="332.1" r="3.45"/>
<circle cx="451.64" cy="331.11" r="3.45"/>
<circle cx="456.14" cy="332.59" r="3.45"/>
<circle cx="442.64" cy="338.53" r="3.45"/>
<circle cx="450.14" cy="339.52" r="3.45"/>
<circle cx="459.14" cy="339.02" r="3.45"/>
<circle cx="426.15" cy="340.51" r="3.45"/>
<circle cx="440.65" cy="344.96" r="3.45"/>
<circle cx="451.64" cy="346.45" r="3.45"/>
<circle cx="459.14" cy="344.96" r="3.45"/>
<circle cx="457.14" cy="351.39" r="3.45"/>
<circle cx="448.64" cy="356.84" r="3.45"/>
<circle cx="439.65" cy="355.85" r="3.45"/>
<circle cx="437.15" cy="359.31" r="3.45"/>
<circle cx="428.15" cy="358.82" r="3.45"/>
<circle cx="423.15" cy="360.3" r="3.45"/>
<circle cx="458.64" cy="354.86" r="3.45"/>
<circle cx="451.64" cy="349.91" r="3.45"/>
<circle cx="410.16" cy="334.08" r="3.45"/>
<circle cx="413.16" cy="336.06" r="3.45"/>
<circle cx="408.66" cy="341.99" r="3.45"/>
<circle cx="410.66" cy="355.85" r="3.45"/>
<circle cx="374.18" cy="338.03" r="3.45"/>
<circle cx="379.67" cy="337.04" r="3.45"/>
<circle cx="429.15" cy="369.7" r="3.45"/>
<circle cx="432.15" cy="368.71" r="3.45"/>
<circle cx="435.65" cy="371.68" r="3.45"/>
<circle cx="451.64" cy="371.68" r="3.45"/>
<circle cx="418.16" cy="371.68" r="3.45"/>
<circle cx="414.16" cy="372.18" r="3.45"/>
<circle cx="373.18" cy="371.19" r="3.45"/>
<circle cx="378.68" cy="370.2" r="3.45"/>
<circle cx="406.16" cy="375.15" r="3.45"/>
<circle cx="414.16" cy="376.14" r="3.45"/>
</g>
<g fill="#ff0000" stroke="#d95319" stroke-width="1.2" stroke-linejoin="miter">
<path d="M332.7 375.7L336.9 382.9L328.5 382.9Z"/>
<path d="M359.68 376.69L363.88 383.89L355.48 383.89Z"/>
<path d="M347.19 359.57L351.39 366.77L342.99 366.77Z"/>
<path d="M351.19 348.98L355.39 356.18L346.99 356.18Z"/>
<path d="M360.68 348.98L364.88 356.18L356.48 356.18Z"/>
<path d="M365.68 347.6L369.88 354.8L361.48 354.8Z"/>
<path d="M369.18 371.84L373.38 379.04L364.98 379.04Z"/>
<path d="M376.18 371.05L380.38 378.25L371.98 378.25Z"/>
<path d="M374.68 375.51L378.88 382.71L370.48 382.71Z"/>
<path d="M379.18 374.52L383.38 381.72L374.98 381.72Z"/>
<path d="M375.68 342.85L379.88 350.05L371.48 350.05Z"/>
<path d="M379.67 343.34L383.87 350.54L375.47 350.54Z"/>
<path d="M384.67 344.83L388.87 352.03L380.47 352.03Z"/>
<path d="M394.67 334.43L398.87 341.63L390.47 341.63Z"/>
<path d="M399.67 337.4L403.87 344.6L395.47 344.6Z"/>
<path d="M407.16 333.44L411.36 340.64L402.96 340.64Z"/>
<path d="M404.16 341.36L408.36 348.56L399.96 348.56Z"/>
<path d="M414.16 339.88L418.36 347.08L409.96 347.08Z"/>
<path d="M390.17 341.36L394.37 348.56L385.97 348.56Z"/>
<path d="M380.17 351.75L384.37 358.95L375.97 358.95Z"/>
<path d="M391.67 347.79L395.87 354.99L387.47 354.99Z"/>
<path d="M396.17 344.33L400.37 351.53L391.97 351.53Z"/>
<path d="M403.16 348.78L407.36 355.98L398.96 355.98Z"/>
<path d="M408.16 346.81L412.36 354.01L403.96 354.01Z"/>
<path d="M376.18 349.77L380.38 356.97L371.98 356.97Z"/>
<path d="M372.18 348.78L376.38 355.98L367.98 355.98Z"/>
<path d="M386.17 349.77L390.37 356.97L381.97 356.97Z"/>
<path d="M383.17 356.7L387.37 363.9L378.97 363.9Z"/>
<path d="M393.17 355.71L397.37 362.91L388.97 362.91Z"/>
<path d="M398.17 356.7L402.37 363.9L393.97 363.9Z"/>
<path d="M403.16 356.21L407.36 363.41L398.96 363.41Z"/>
<path d="M413.16 359.67L417.36 366.87L408.96 366.87Z"/>
<path d="M388.17 353.73L392.37 360.93L383.97 360.93Z"/>
<path d="M371.68 348.78L375.88 355.98L367.48 355.98Z"/>
<path d="M378.18 352.25L382.38 359.45L373.98 359.45Z"/>
<path d="M392.67 355.71L396.87 362.91L388.47 362.91Z"/>
<path d="M399.17 356.21L403.37 363.41L394.97 363.41Z"/>
<path d="M406.16 355.71L410.36 362.91L401.96 362.91Z"/>
<path d="M412.66 358.68L416.86 365.88L408.46 365.88Z"/>
<path d="M423.15 339.68L427.35 346.88L418.95 346.88Z"/>
<path d="M434.15 337.9L438.35 345.1L429.95 345.1Z"/>
<path d="M429.65 340.87L433.85 348.07L425.45 348.07Z"/>
<path d="M444.64 346.31L448.84 353.51L440.44 353.51Z"/>
<path d="M426.15 348.78L430.35 355.98L421.95 355.98Z"/>
<path d="M435.65 346.81L439.85 354.01L431.45 354.01Z"/>
<path d="M420.16 352.74L424.36 359.94L415.96 359.94Z"/>
<path d="M418.16 342.85L422.36 350.05L413.96 350.05Z"/>
<path d="M376.18 371.55L380.38 378.75L371.98 378.75Z"/>
<path d="M383.17 373.53L387.37 380.73L378.97 380.73Z"/>
<path d="M389.67 371.55L393.87 378.75L385.47 378.75Z"/>
<path d="M393.67 370.56L397.87 377.76L389.47 377.76Z"/>
<path d="M396.67 371.55L400.87 378.75L392.47 378.75Z"/>
<path d="M402.16 373.03L406.36 380.23L397.96 380.23Z"/>
<path d="M411.16 371.05L415.36 378.25L406.96 378.25Z"/>
<path d="M395.17 377.48L399.37 384.68L390.97 384.68Z"/>
<path d="M385.67 377.48L389.87 384.68L381.47 384.68Z"/>
<path d="M373.18 376.5L377.38 383.7L368.98 383.7Z"/>
<path d="M379.18 376.5L383.38 383.7L374.98 383.7Z"/>
<path d="M407.82 347.22L412.02 354.42L403.62 354.42Z"/>
<path d="M419.37 337.81L423.57 345.01L415.17 345.01Z"/>
<path d="M433 347.68L437.2 354.88L428.8 354.88Z"/>
<path d="M404.12 339.68L408.32 346.88L399.92 346.88Z"/>
<path d="M387.2 347.97L391.4 355.17L383 355.17Z"/>
<path d="M403.57 345.93L407.77 353.13L399.37 353.13Z"/>
<path d="M388.42 353.27L392.62 360.47L384.22 360.47Z"/>
<path d="M387.36 346.93L391.56 354.13L383.16 354.13Z"/>
<path d="M433.13 344.25L437.33 351.45L428.93 351.45Z"/>
<path d="M418.69 354.52L422.89 361.72L414.49 361.72Z"/>
<path d="M380.12 350.45L384.32 357.65L375.92 357.65Z"/>
<path d="M424.54 339.96L428.74 347.16L420.34 347.16Z"/>
<path d="M432.57 341.1L436.77 348.3L428.37 348.3Z"/>
<path d="M393.62 343.39L397.82 350.59L389.42 350.59Z"/>
<path d="M408.55 343.35L412.75 350.55L404.35 350.55Z"/>
<path d="M373.73 352.94L377.93 360.14L369.53 360.14Z"/>
<path d="M430.16 348.19L434.36 355.39L425.96 355.39Z"/>
<path d="M383.98 344.46L388.18 351.66L379.78 351.66Z"/>
<path d="M423.18 340.98L427.38 348.18L418.98 348.18Z"/>
<path d="M398.89 347.51L403.09 354.71L394.69 354.71Z"/>
<path d="M408.78 338.1L412.98 345.3L404.58 345.3Z"/>
<path d="M409.71 348.77L413.91 355.97L405.51 355.97Z"/>
<path d="M407.4 358.85L411.6 366.05L403.2 366.05Z"/>
<path d="M400.29 354.95L404.49 362.15L396.09 362.15Z"/>
<path d="M428.17 344.72L432.37 351.92L423.97 351.92Z"/>
<path d="M409.18 333.28L413.38 340.48L404.98 340.48Z"/>
<path d="M364.5 341.86L368.7 349.06L360.3 349.06Z"/>
<path d="M364 359.18L368.2 366.38L359.8 366.38Z"/>
<path d="M371 340.87L375.2 348.07L366.8 348.07Z"/>
<path d="M374 340.87L378.2 348.07L369.8 348.07Z"/>
<path d="M373 357.69L377.2 364.89L368.8 364.89Z"/>
<path d="M377 352.74L381.2 359.94L372.8 359.94Z"/>
<path d="M370 354.23L374.2 361.43L365.8 361.43Z"/>
<path d="M380 344.83L384.2 352.03L375.8 352.03Z"/>
<path d="M417 331.96L421.2 339.16L412.8 339.16Z"/>
<path d="M433.5 338.39L437.7 345.59L429.3 345.59Z"/>
<path d="M453 337.4L457.2 344.6L448.8 344.6Z"/>
<path d="M436 342.85L440.2 350.05L431.8 350.05Z"/>
<path d="M430 354.23L434.2 361.43L425.8 361.43Z"/>
<path d="M413 359.18L417.2 366.38L408.8 366.38Z"/>
<path d="M467.2 343.44L471.4 350.64L463 350.64Z"/>
<path d="M452.5 338L456.7 345.2L448.3 345.2Z"/>
<path d="M386 336.12L390.2 343.32L381.8 343.32Z"/>
<path d="M394 334.14L398.2 341.34L389.8 341.34Z"/>
<path d="M399 335.62L403.2 342.82L394.8 342.82Z"/>
<path d="M407 332.65L411.2 339.85L402.8 339.85Z"/>
<path d="M416.5 332.16L420.7 339.36L412.3 339.36Z"/>
<path d="M389.5 357.2L393.7 364.4L385.3 364.4Z"/>
<path d="M412.5 358.68L416.7 365.88L408.3 365.88Z"/>
<path d="M354.5 373.53L358.7 380.73L350.3 380.73Z"/>
<path d="M360 374.91L364.2 382.11L355.8 382.11Z"/>
<path d="M362.7 374.22L366.9 381.42L358.5 381.42Z"/>
<path d="M368.9 372.83L373.1 380.03L364.7 380.03Z"/>
<path d="M375.7 372.24L379.9 379.44L371.5 379.44Z"/>
<path d="M383.2 371.55L387.4 378.75L379 378.75Z"/>
<path d="M388.7 371.55L392.9 378.75L384.5 378.75Z"/>
<path d="M393.4 371.55L397.6 378.75L389.2 378.75Z"/>
<path d="M396.8 372.24L401 379.44L392.6 379.44Z"/>
<path d="M402.3 372.83L406.5 380.03L398.1 380.03Z"/>
<path d="M405 372.24L409.2 379.44L400.8 379.44Z"/>
<path d="M409.8 372.24L414 379.44L405.6 379.44Z"/>
<path d="M413.2 374.22L417.4 381.42L409 381.42Z"/>
<path d="M358 376L362.2 383.2L353.8 383.2Z"/>
<path d="M369.6 376L373.8 383.2L365.4 383.2Z"/>
<path d="M387.3 374.52L391.5 381.72L383.1 381.72Z"/>
<path d="M394.1 374.52L398.3 381.72L389.9 381.72Z"/>
<path d="M363.4 357.69L367.6 364.89L359.2 364.89Z"/>
<path d="M411.8 357.69L416 364.89L407.6 364.89Z"/>
<path d="M375.85 355.51L380.05 362.71L371.65 362.71Z"/>
<path d="M428.81 338.75L433.01 345.95L424.61 345.95Z"/>
<path d="M417.54 349.76L421.74 356.96L413.34 356.96Z"/>
<path d="M413.2 342.08L417.4 349.28L409 349.28Z"/>
<path d="M411.52 353.62L415.72 360.82L407.32 360.82Z"/>
<path d="M401.29 347.57L405.49 354.77L397.09 354.77Z"/>
<path d="M436.56 343.69L440.76 350.89L432.36 350.89Z"/>
<path d="M402.25 350.79L406.45 357.99L398.05 357.99Z"/>
<path d="M403.61 349.5L407.81 356.7L399.41 356.7Z"/>
<path d="M397.84 334.74L402.04 341.94L393.64 341.94Z"/>
<path d="M407.75 343.27L411.95 350.47L403.55 350.47Z"/>
<path d="M394.11 354.17L398.31 361.37L389.91 361.37Z"/>
<path d="M417.86 353.01L422.06 360.21L413.66 360.21Z"/>
<path d="M421.94 334.36L426.14 341.56L417.74 341.56Z"/>
<path d="M423.88 337.37L428.08 344.57L419.68 344.57Z"/>
<path d="M423.27 339.29L427.47 346.49L419.07 346.49Z"/>
<path d="M403.38 344.04L407.58 351.24L399.18 351.24Z"/>
<path d="M405.32 333.89L409.52 341.09L401.12 341.09Z"/>
<path d="M406.06 336.3L410.26 343.5L401.86 343.5Z"/>
<path d="M396.07 334.97L400.27 342.17L391.87 342.17Z"/>
<path d="M433.18 345.83L437.38 353.03L428.98 353.03Z"/>
<path d="M410.6 334.01L414.8 341.21L406.4 341.21Z"/>
<path d="M421.22 345.17L425.42 352.37L417.02 352.37Z"/>
<path d="M387.08 349.34L391.28 356.54L382.88 356.54Z"/>
<path d="M419.57 353.42L423.77 360.62L415.37 360.62Z"/>
<path d="M406.29 344.37L410.49 351.57L402.09 351.57Z"/>
<path d="M416.3 342.56L420.5 349.76L412.1 349.76Z"/>
<path d="M393.21 352.34L397.41 359.54L389.01 359.54Z"/>
<path d="M406.81 333.65L411.01 340.85L402.61 340.85Z"/>
<path d="M414.38 355.75L418.58 362.95L410.18 362.95Z"/>
<path d="M435.85 331.72L440.05 338.92L431.65 338.92Z"/>
<path d="M429.35 337.08L433.55 344.28L425.15 344.28Z"/>
<path d="M444.64 345.81L448.84 353.01L440.44 353.01Z"/>
<path d="M452.24 337.08L456.44 344.28L448.04 344.28Z"/>
<path d="M454.44 343.63L458.64 350.83L450.24 350.83Z"/>
<path d="M467.53 342.54L471.73 349.74L463.33 349.74Z"/>
<path d="M435.85 370.62L440.05 377.82L431.65 377.82Z"/>
<path d="M412.96 371.71L417.16 378.91L408.76 378.91Z"/>
<path d="M417.36 331.72L421.56 338.92L413.16 338.92Z"/>
<path d="M412.96 357.72L417.16 364.92L408.76 364.92Z"/>
<path d="M355.99 343.23L360.19 350.43L351.79 350.43Z"/>
<path d="M366.48 338.37L370.68 345.57L362.28 345.57Z"/>
<path d="M357.39 355.14L361.59 362.34L353.19 362.34Z"/>
<path d="M364.38 359.31L368.58 366.51L360.18 366.51Z"/>
<path d="M380.47 336.29L384.67 343.49L376.27 343.49Z"/>
<path d="M391.67 332.81L395.87 340.01L387.47 340.01Z"/>
<path d="M344.69 378.06L348.89 385.26L340.49 385.26Z"/>
<path d="M349.59 373.69L353.79 380.89L345.39 380.89Z"/>
<path d="M355.99 373L360.19 380.2L351.79 380.2Z"/>
<path d="M370.31 342.57L374.51 349.77L366.11 349.77Z"/>
<path d="M383.25 341.1L387.45 348.3L379.05 348.3Z"/>
<path d="M408.32 354.29L412.52 361.49L404.12 361.49Z"/>
<path d="M372.41 350.16L376.61 357.36L368.21 357.36Z"/>
<path d="M428.97 344.23L433.17 351.43L424.77 351.43Z"/>
<path d="M409.63 352.21L413.83 359.41L405.43 359.41Z"/>
<path d="M409.21 334.63L413.41 341.83L405.01 341.83Z"/>
<path d="M398.27 337.74L402.47 344.94L394.07 344.94Z"/>
<path d="M421.3 341.42L425.5 348.62L417.1 348.62Z"/>
<path d="M376.52 355.14L380.72 362.34L372.32 362.34Z"/>
<path d="M431.82 344.32L436.02 351.52L427.62 351.52Z"/>
<path d="M385.7 336.28L389.9 343.48L381.5 343.48Z"/>
<path d="M360.32 350.58L364.52 357.78L356.12 357.78Z"/>
<path d="M441.62 345.21L445.82 352.41L437.42 352.41Z"/>
<path d="M408.41 348.52L412.61 355.72L404.21 355.72Z"/>
<path d="M396.71 346.45L400.91 353.65L392.51 353.65Z"/>
<path d="M381.38 341.57L385.58 348.77L377.18 348.77Z"/>
<path d="M404.25 333.75L408.45 340.95L400.05 340.95Z"/>
<path d="M412.78 351.9L416.98 359.1L408.58 359.1Z"/>
<path d="M435.66 341.96L439.86 349.16L431.46 349.16Z"/>
<path d="M416.95 350.73L421.15 357.93L412.75 357.93Z"/>
<path d="M428.5 341.85L432.7 349.05L424.3 349.05Z"/>
<path d="M374.92 354.35L379.12 361.55L370.72 361.55Z"/>
<path d="M387.22 352.21L391.42 359.41L383.02 359.41Z"/>
<path d="M375.79 337.06L379.99 344.26L371.59 344.26Z"/>
<path d="M417.4 347.79L421.6 354.99L413.2 354.99Z"/>
<path d="M377.34 354.01L381.54 361.21L373.14 361.21Z"/>
<path d="M366.34 345.91L370.54 353.11L362.14 353.11Z"/>
<path d="M406.82 352.07L411.02 359.27L402.62 359.27Z"/>
<path d="M434.87 346.64L439.07 353.84L430.67 353.84Z"/>
<path d="M392.12 343.16L396.32 350.36L387.92 350.36Z"/>
<path d="M410.1 341.31L414.3 348.51L405.9 348.51Z"/>
<path d="M401.8 340.71L406 347.91L397.6 347.91Z"/>
<path d="M439.18 343.48L443.38 350.68L434.98 350.68Z"/>
<path d="M389.25 338.25L393.45 345.45L385.05 345.45Z"/>
<path d="M370.28 348.52L374.48 355.72L366.08 355.72Z"/>
<path d="M442.82 343.13L447.02 350.33L438.62 350.33Z"/>
<path d="M387.69 341.69L391.89 348.89L383.49 348.89Z"/>
<path d="M408.95 354.43L413.15 361.63L404.75 361.63Z"/>
<path d="M408.48 344.48L412.68 351.68L404.28 351.68Z"/>
<path d="M413.57 347.26L417.77 354.46L409.37 354.46Z"/>
<path d="M416.28 337.82L420.48 345.02L412.08 345.02Z"/>
<path d="M349.16 354.42L353.36 361.62L344.96 361.62Z"/>
<path d="M371.6 344.72L375.8 351.92L367.4 351.92Z"/>
<path d="M405.08 348.06L409.28 355.26L400.88 355.26Z"/>
<path d="M382.66 348.24L386.86 355.44L378.46 355.44Z"/>
<path d="M383.17 341.31L387.37 348.51L378.97 348.51Z"/>
<path d="M376.43 346.66L380.63 353.86L372.23 353.86Z"/>
<path d="M402.78 337.89L406.98 345.09L398.58 345.09Z"/>
<path d="M377.38 350.45L381.58 357.65L373.18 357.65Z"/>
<path d="M400.17 346.54L404.37 353.74L395.97 353.74Z"/>
<path d="M415.41 345.1L419.61 352.3L411.21 352.3Z"/>
<path d="M398.97 349.91L403.17 357.11L394.77 357.11Z"/>
<path d="M388.68 346.11L392.88 353.31L384.48 353.31Z"/>
<path d="M369.14 348.35L373.34 355.55L364.94 355.55Z"/>
<path d="M393.76 343.41L397.96 350.61L389.56 350.61Z"/>
<path d="M411.96 340.19L416.16 347.39L407.76 347.39Z"/>
<path d="M378.33 346.44L382.53 353.64L374.13 353.64Z"/>
<path d="M401.97 338.01L406.17 345.21L397.77 345.21Z"/>
<path d="M389.8 341.52L394 348.72L385.6 348.72Z"/>
<path d="M378.1 349.27L382.3 356.47L373.9 356.47Z"/>
<path d="M420.11 341.09L424.31 348.29L415.91 348.29Z"/>
<path d="M387.42 337.79L391.62 344.99L383.22 344.99Z"/>
<path d="M369.28 343.3L373.48 350.5L365.08 350.5Z"/>
<path d="M390.48 348.47L394.68 355.67L386.28 355.67Z"/>
<path d="M410.66 340.78L414.86 347.98L406.46 347.98Z"/>
<path d="M386.93 338.85L391.13 346.05L382.73 346.05Z"/>
<path d="M388.92 349.04L393.12 356.24L384.72 356.24Z"/>
<path d="M371.68 349.3L375.88 356.5L367.48 356.5Z"/>
<path d="M417.91 343.37L422.11 350.57L413.71 350.57Z"/>
<path d="M398.68 345.5L402.88 352.7L394.48 352.7Z"/>
<path d="M394.47 345.9L398.67 353.1L390.27 353.1Z"/>
<path d="M365.86 350.1L370.06 357.3L361.66 357.3Z"/>
<path d="M368 351.79L372.2 358.99L363.8 358.99Z"/>
<path d="M412.48 347.2L416.68 354.4L408.28 354.4Z"/>
<path d="M384.17 345.61L388.37 352.81L379.97 352.81Z"/>
<path d="M390.01 346.6L394.21 353.8L385.81 353.8Z"/>
<path d="M394.93 342.34L399.13 349.54L390.73 349.54Z"/>
<path d="M379.57 343.62L383.77 350.82L375.37 350.82Z"/>
<path d="M370.22 349.09L374.42 356.29L366.02 356.29Z"/>
<path d="M382.02 346.66L386.22 353.86L377.82 353.86Z"/>
<path d="M380.65 343.47L384.85 350.67L376.45 350.67Z"/>
<path d="M406.54 342.23L410.74 349.43L402.34 349.43Z"/>
<path d="M372.53 349.54L376.73 356.74L368.33 356.74Z"/>
<path d="M418.38 340.94L422.58 348.14L414.18 348.14Z"/>
<path d="M398.08 346.68L402.28 353.88L393.88 353.88Z"/>
<path d="M401.43 348.04L405.63 355.24L397.23 355.24Z"/>
<path d="M383.44 340.43L387.64 347.63L379.24 347.63Z"/>
<path d="M381.25 350.9L385.45 358.1L377.05 358.1Z"/>
<path d="M400.9 347.89L405.1 355.09L396.7 355.09Z"/>
<path d="M386.44 372.89L390.64 380.09L382.24 380.09Z"/>
<path d="M393 373.04L397.2 380.24L388.8 380.24Z"/>
<path d="M383.05 374.67L387.25 381.87L378.85 381.87Z"/>
<path d="M364.77 375.96L368.97 383.16L360.57 383.16Z"/>
<path d="M389.44 371.91L393.64 379.11L385.24 379.11Z"/>
<path d="M412.73 371.78L416.93 378.98L408.53 378.98Z"/>
<path d="M350.42 375.84L354.62 383.04L346.22 383.04Z"/>
<path d="M360.04 376.31L364.24 383.51L355.84 383.51Z"/>
<path d="M365.01 375.16L369.21 382.36L360.81 382.36Z"/>
<path d="M400.7 373.58L404.9 380.78L396.5 380.78Z"/>
<path d="M350.47 377.48L354.67 384.68L346.27 384.68Z"/>
<path d="M350.13 375.89L354.33 383.09L345.93 383.09Z"/>
<path d="M345.13 376.28L349.33 383.48L340.93 383.48Z"/>
<path d="M356.84 377.07L361.04 384.27L352.64 384.27Z"/>
<path d="M378.64 375.5L382.84 382.7L374.44 382.7Z"/>
<path d="M379.26 375.3L383.46 382.5L375.06 382.5Z"/>
<path d="M384.18 374.69L388.38 381.89L379.98 381.89Z"/>
<path d="M380.37 373.08L384.57 380.28L376.17 380.28Z"/>
<path d="M343.19 378.07L347.39 385.27L338.99 385.27Z"/>
<path d="M388.97 371.97L393.17 379.17L384.77 379.17Z"/>
<path d="M417 331.72L421.2 338.92L412.8 338.92Z"/>
<path d="M435.5 331.72L439.7 338.92L431.3 338.92Z"/>
<path d="M451.9 337.08L456.1 344.28L447.7 344.28Z"/>
<path d="M458.5 338.17L462.7 345.37L454.3 345.37Z"/>
<path d="M467.2 343.63L471.4 350.83L463 350.83Z"/>
<path d="M450.8 350.08L455 357.28L446.6 357.28Z"/>
<path d="M446.5 343.63L450.7 350.83L442.3 350.83Z"/>
<path d="M455.2 344.72L459.4 351.92L451 351.92Z"/>
<path d="M412.6 356.63L416.8 363.83L408.4 363.83Z"/>
<path d="M413.7 370.62L417.9 377.82L409.5 377.82Z"/>
<path d="M426.8 371.71L431 378.91L422.6 378.91Z"/>
<path d="M435.5 370.62L439.7 377.82L431.3 377.82Z"/>
<path d="M370.13 353.37L374.33 360.57L365.93 360.57Z"/>
<path d="M385.81 352.1L390.01 359.3L381.61 359.3Z"/>
<path d="M353.51 346.06L357.71 353.26L349.31 353.26Z"/>
<path d="M421.98 350.46L426.18 357.66L417.78 357.66Z"/>
<path d="M399.59 349.12L403.79 356.32L395.39 356.32Z"/>
<path d="M363.91 353.3L368.11 360.5L359.71 360.5Z"/>
<path d="M377.36 340.54L381.56 347.74L373.16 347.74Z"/>
<path d="M406.37 339.44L410.57 346.64L402.17 346.64Z"/>
<path d="M396.58 351.54L400.78 358.74L392.38 358.74Z"/>
<path d="M393.41 353.71L397.61 360.91L389.21 360.91Z"/>
<path d="M400.66 348.54L404.86 355.74L396.46 355.74Z"/>
<path d="M436.07 341.88L440.27 349.08L431.87 349.08Z"/>
<path d="M396.82 345.76L401.02 352.96L392.62 352.96Z"/>
<path d="M405.69 345.34L409.89 352.54L401.49 352.54Z"/>
<path d="M362.8 348.42L367 355.62L358.6 355.62Z"/>
<path d="M374.48 342.8L378.68 350L370.28 350Z"/>
<path d="M393.18 347.5L397.38 354.7L388.98 354.7Z"/>
<path d="M387.45 350.93L391.65 358.13L383.25 358.13Z"/>
<path d="M409 349.13L413.2 356.33L404.8 356.33Z"/>
<path d="M381.87 337.6L386.07 344.8L377.67 344.8Z"/>
<path d="M378.42 342.22L382.62 349.42L374.22 349.42Z"/>
<path d="M353.03 350.29L357.23 357.49L348.83 357.49Z"/>
<path d="M421.98 340.82L426.18 348.02L417.78 348.02Z"/>
<path d="M370.26 347.79L374.46 354.99L366.06 354.99Z"/>
<path d="M364.39 344.65L368.59 351.85L360.19 351.85Z"/>
<path d="M348.77 348.82L352.97 356.02L344.57 356.02Z"/>
<path d="M407.81 335.86L412.01 343.06L403.61 343.06Z"/>
<path d="M375.75 351.21L379.95 358.41L371.55 358.41Z"/>
<path d="M390.52 352.56L394.72 359.76L386.32 359.76Z"/>
<path d="M351.38 351.75L355.58 358.95L347.18 358.95Z"/>
<path d="M423.81 347.01L428.01 354.21L419.61 354.21Z"/>
<path d="M375.45 353.52L379.65 360.72L371.25 360.72Z"/>
<path d="M443.21 345.51L447.41 352.71L439.01 352.71Z"/>
<path d="M367.37 354.45L371.57 361.65L363.17 361.65Z"/>
<path d="M352.41 351.77L356.61 358.97L348.21 358.97Z"/>
<path d="M413.33 352.23L417.53 359.43L409.13 359.43Z"/>
<path d="M358.97 342.93L363.17 350.13L354.77 350.13Z"/>
<path d="M422.83 345.87L427.03 353.07L418.63 353.07Z"/>
<path d="M443.79 344.19L447.99 351.39L439.59 351.39Z"/>
<path d="M370.7 345.84L374.9 353.04L366.5 353.04Z"/>
<path d="M350.6 345.58L354.8 352.78L346.4 352.78Z"/>
<path d="M428.44 343.68L432.64 350.88L424.24 350.88Z"/>
<path d="M350.09 349.67L354.29 356.87L345.89 356.87Z"/>
<path d="M370.75 350.8L374.95 358L366.55 358Z"/>
<path d="M437.95 342.05L442.15 349.25L433.75 349.25Z"/>
<path d="M444.08 346.03L448.28 353.23L439.88 353.23Z"/>
<path d="M435.29 339.88L439.49 347.08L431.09 347.08Z"/>
<path d="M395.44 353.62L399.64 360.82L391.24 360.82Z"/>
<path d="M379.98 339.81L384.18 347.01L375.78 347.01Z"/>
<path d="M425.35 340.16L429.55 347.36L421.15 347.36Z"/>
<path d="M380.57 348.21L384.77 355.41L376.37 355.41Z"/>
<path d="M414.72 342.48L418.92 349.68L410.52 349.68Z"/>
<path d="M412.46 344.45L416.66 351.65L408.26 351.65Z"/>
<path d="M396.75 335.55L400.95 342.75L392.55 342.75Z"/>
<path d="M379.02 348.98L383.22 356.18L374.82 356.18Z"/>
<path d="M413.2 339.55L417.4 346.75L409 346.75Z"/>
<path d="M362.79 348.29L366.99 355.49L358.59 355.49Z"/>
<path d="M380.54 348.67L384.74 355.87L376.34 355.87Z"/>
<path d="M366.44 346.89L370.64 354.09L362.24 354.09Z"/>
<path d="M422.17 341.92L426.37 349.12L417.97 349.12Z"/>
<path d="M418.51 338.66L422.71 345.86L414.31 345.86Z"/>
<path d="M402.86 351.76L407.06 358.96L398.66 358.96Z"/>
<path d="M388.3 347.67L392.5 354.87L384.1 354.87Z"/>
<path d="M406.53 340.47L410.73 347.67L402.33 347.67Z"/>
<path d="M378.51 339.4L382.71 346.6L374.31 346.6Z"/>
<path d="M371.07 343.04L375.27 350.24L366.87 350.24Z"/>
<path d="M407.18 341.62L411.38 348.82L402.98 348.82Z"/>
<path d="M375.7 350.09L379.9 357.29L371.5 357.29Z"/>
<path d="M401.06 335.96L405.26 343.16L396.86 343.16Z"/>
<path d="M378.67 345.62L382.87 352.82L374.47 352.82Z"/>
<path d="M368.1 345.63L372.3 352.83L363.9 352.83Z"/>
<path d="M389.49 340.57L393.69 347.77L385.29 347.77Z"/>
<path d="M381.39 340.37L385.59 347.57L377.19 347.57Z"/>
<path d="M396.7 346.23L400.9 353.43L392.5 353.43Z"/>
<path d="M390.83 343.05L395.03 350.25L386.63 350.25Z"/>
<path d="M380.59 344.14L384.79 351.34L376.39 351.34Z"/>
<path d="M408.73 345.51L412.93 352.71L404.53 352.71Z"/>
<path d="M367.91 351.78L372.11 358.98L363.71 358.98Z"/>
<path d="M381.63 346.55L385.83 353.75L377.43 353.75Z"/>
<path d="M412.94 349.07L417.14 356.27L408.74 356.27Z"/>
<path d="M413.41 340.42L417.61 347.62L409.21 347.62Z"/>
<path d="M398.95 339.5L403.15 346.7L394.75 346.7Z"/>
<path d="M415.09 342.31L419.29 349.51L410.89 349.51Z"/>
<path d="M394.13 341.92L398.33 349.12L389.93 349.12Z"/>
<path d="M402.39 344.28L406.59 351.48L398.19 351.48Z"/>
<path d="M399.49 346.35L403.69 353.55L395.29 353.55Z"/>
<path d="M374.68 346.4L378.88 353.6L370.48 353.6Z"/>
<path d="M405.49 346.17L409.69 353.37L401.29 353.37Z"/>
<path d="M396.83 336.54L401.03 343.74L392.63 343.74Z"/>
<path d="M389.06 350.14L393.26 357.34L384.86 357.34Z"/>
<path d="M371.39 373.75L375.59 380.95L367.19 380.95Z"/>
<path d="M422.73 372.31L426.93 379.51L418.53 379.51Z"/>
<path d="M368.73 375.05L372.93 382.25L364.53 382.25Z"/>
<path d="M341.49 378L345.69 385.2L337.29 385.2Z"/>
<path d="M351.96 376.45L356.16 383.65L347.76 383.65Z"/>
<path d="M398.35 371.9L402.55 379.1L394.15 379.1Z"/>
<path d="M408.68 372.91L412.88 380.11L404.48 380.11Z"/>
<path d="M387.42 373.76L391.62 380.96L383.22 380.96Z"/>
<path d="M355.91 374.57L360.11 381.77L351.71 381.77Z"/>
<path d="M405.46 372.4L409.66 379.6L401.26 379.6Z"/>
<path d="M349.19 376.78L353.39 383.98L344.99 383.98Z"/>
<path d="M392.45 373.74L396.65 380.94L388.25 380.94Z"/>
<path d="M409.12 373.01L413.32 380.21L404.92 380.21Z"/>
<path d="M409.57 371.01L413.77 378.21L405.37 378.21Z"/>
<path d="M388.28 373.71L392.48 380.91L384.08 380.91Z"/>
<path d="M339.19 345.9L343.39 353.1L334.99 353.1Z"/>
<path d="M346.79 360L350.99 367.2L342.59 367.2Z"/>
<path d="M346.79 349.1L350.99 356.3L342.59 356.3Z"/>
<path d="M435.85 331.7L440.05 338.9L431.65 338.9Z"/>
<path d="M452.24 338.2L456.44 345.4L448.04 345.4Z"/>
<path d="M458.74 338.2L462.94 345.4L454.54 345.4Z"/>
<path d="M467.53 343.7L471.73 350.9L463.33 350.9Z"/>
<path d="M452.24 344.8L456.44 352L448.04 352Z"/>
<path d="M452.24 349.1L456.44 356.3L448.04 356.3Z"/>
<path d="M446.74 343.7L450.94 350.9L442.54 350.9Z"/>
<path d="M412.96 357.9L417.16 365.1L408.76 365.1Z"/>
<path d="M420.66 370.9L424.86 378.1L416.46 378.1Z"/>
<path d="M428.25 370.5L432.45 377.7L424.05 377.7Z"/>
<path d="M435.85 370.5L440.05 377.7L431.65 377.7Z"/>
<path d="M411.86 372L416.06 379.2L407.66 379.2Z"/>
<path d="M331.6 377.5L335.8 384.7L327.4 384.7Z"/>
<path d="M407.55 337.73L411.75 344.93L403.35 344.93Z"/>
<path d="M439.37 340L443.57 347.2L435.17 347.2Z"/>
<path d="M392.27 349.86L396.47 357.06L388.07 357.06Z"/>
<path d="M399.69 341.84L403.89 349.04L395.49 349.04Z"/>
<path d="M346.99 350.59L351.19 357.79L342.79 357.79Z"/>
<path d="M407.01 352.8L411.21 360L402.81 360Z"/>
<path d="M366.49 350.62L370.69 357.82L362.29 357.82Z"/>
<path d="M399.24 339.29L403.44 346.49L395.04 346.49Z"/>
<path d="M434.45 348.58L438.65 355.78L430.25 355.78Z"/>
<path d="M381.56 351.83L385.76 359.03L377.36 359.03Z"/>
<path d="M360.16 354.3L364.36 361.5L355.96 361.5Z"/>
<path d="M375.62 341.12L379.82 348.32L371.42 348.32Z"/>
<path d="M379.25 348.31L383.45 355.51L375.05 355.51Z"/>
<path d="M426.98 344.12L431.18 351.32L422.78 351.32Z"/>
<path d="M377.05 344.11L381.25 351.31L372.85 351.31Z"/>
<path d="M382.06 341.73L386.26 348.93L377.86 348.93Z"/>
<path d="M379.89 347.21L384.09 354.41L375.69 354.41Z"/>
<path d="M397.8 336.9L402 344.1L393.6 344.1Z"/>
<path d="M354.75 347.55L358.95 354.75L350.55 354.75Z"/>
<path d="M406.35 333.41L410.55 340.61L402.15 340.61Z"/>
<path d="M399.83 348.24L404.03 355.44L395.63 355.44Z"/>
<path d="M377.15 351.55L381.35 358.75L372.95 358.75Z"/>
<path d="M353.46 352.25L357.66 359.45L349.26 359.45Z"/>
<path d="M443.68 342.83L447.88 350.03L439.48 350.03Z"/>
<path d="M386 350.09L390.2 357.29L381.8 357.29Z"/>
<path d="M404.68 335.66L408.88 342.86L400.48 342.86Z"/>
<path d="M390.94 345.57L395.14 352.77L386.74 352.77Z"/>
<path d="M408.3 336.59L412.5 343.79L404.1 343.79Z"/>
<path d="M356.28 345.25L360.48 352.45L352.08 352.45Z"/>
<path d="M374.97 344.8L379.17 352L370.77 352Z"/>
<path d="M442.62 344.79L446.82 351.99L438.42 351.99Z"/>
<path d="M394.17 338.03L398.37 345.23L389.97 345.23Z"/>
<path d="M393.26 348.77L397.46 355.97L389.06 355.97Z"/>
<path d="M385.79 352.31L389.99 359.51L381.59 359.51Z"/>
<path d="M441.01 340.54L445.21 347.74L436.81 347.74Z"/>
<path d="M395.28 347.61L399.48 354.81L391.08 354.81Z"/>
<path d="M354.54 349.23L358.74 356.43L350.34 356.43Z"/>
<path d="M381.57 336.64L385.77 343.84L377.37 343.84Z"/>
<path d="M422.65 338.88L426.85 346.08L418.45 346.08Z"/>
<path d="M411.63 337.29L415.83 344.49L407.43 344.49Z"/>
<path d="M381.78 338.64L385.98 345.84L377.58 345.84Z"/>
<path d="M373.58 344L377.78 351.2L369.38 351.2Z"/>
<path d="M422.13 338.97L426.33 346.17L417.93 346.17Z"/>
<path d="M410.21 341.67L414.41 348.87L406.01 348.87Z"/>
<path d="M370.59 339.44L374.79 346.64L366.39 346.64Z"/>
<path d="M391.67 335.89L395.87 343.09L387.47 343.09Z"/>
<path d="M409.99 336.36L414.19 343.56L405.79 343.56Z"/>
<path d="M380.24 340.12L384.44 347.32L376.04 347.32Z"/>
<path d="M380.45 335.25L384.65 342.45L376.25 342.45Z"/>
<path d="M432.08 339.04L436.28 346.24L427.88 346.24Z"/>
<path d="M398.86 348.18L403.06 355.38L394.66 355.38Z"/>
<path d="M410.87 345.97L415.07 353.17L406.67 353.17Z"/>
<path d="M413.94 346.64L418.14 353.84L409.74 353.84Z"/>
<path d="M398.36 338.33L402.56 345.53L394.16 345.53Z"/>
<path d="M360.99 346.81L365.19 354.01L356.79 354.01Z"/>
<path d="M386.69 347.46L390.89 354.66L382.49 354.66Z"/>
<path d="M390.07 347.22L394.27 354.42L385.87 354.42Z"/>
<path d="M368.81 350.73L373.01 357.93L364.61 357.93Z"/>
<path d="M419.91 346.08L424.11 353.28L415.71 353.28Z"/>
<path d="M422.06 346.01L426.26 353.21L417.86 353.21Z"/>
<path d="M382.46 349.52L386.66 356.72L378.26 356.72Z"/>
<path d="M423.45 339.62L427.65 346.82L419.25 346.82Z"/>
<path d="M419.43 341.86L423.63 349.06L415.23 349.06Z"/>
<path d="M397.11 349.64L401.31 356.84L392.91 356.84Z"/>
<path d="M398.55 336.82L402.75 344.02L394.35 344.02Z"/>
<path d="M410.75 343.2L414.95 350.4L406.55 350.4Z"/>
<path d="M409.52 347.79L413.72 354.99L405.32 354.99Z"/>
<path d="M405.55 341.68L409.75 348.88L401.35 348.88Z"/>
<path d="M377.77 338.57L381.97 345.77L373.57 345.77Z"/>
<path d="M383.94 351.84L388.14 359.04L379.74 359.04Z"/>
<path d="M420.71 339.86L424.91 347.06L416.51 347.06Z"/>
<path d="M377.27 344.35L381.47 351.55L373.07 351.55Z"/>
<path d="M382.03 337.35L386.23 344.55L377.83 344.55Z"/>
<path d="M388.13 342.25L392.33 349.45L383.93 349.45Z"/>
<path d="M386.4 351.54L390.6 358.74L382.2 358.74Z"/>
<path d="M391.98 348.45L396.18 355.65L387.78 355.65Z"/>
<path d="M377.99 345.76L382.19 352.96L373.79 352.96Z"/>
<path d="M379.09 344.4L383.29 351.6L374.89 351.6Z"/>
<path d="M398.93 342.72L403.13 349.92L394.73 349.92Z"/>
<path d="M392.13 346.66L396.33 353.86L387.93 353.86Z"/>
<path d="M387.83 350.17L392.03 357.37L383.63 357.37Z"/>
<path d="M384.74 342.29L388.94 349.49L380.54 349.49Z"/>
<path d="M416.48 344.11L420.68 351.31L412.28 351.31Z"/>
<path d="M409.96 343.46L414.16 350.66L405.76 350.66Z"/>
<path d="M396.68 338.42L400.88 345.62L392.48 345.62Z"/>
<path d="M408.83 346.4L413.03 353.6L404.63 353.6Z"/>
<path d="M392.88 338.94L397.08 346.14L388.68 346.14Z"/>
<path d="M401.87 342.59L406.07 349.79L397.67 349.79Z"/>
<path d="M401.86 340.54L406.06 347.74L397.66 347.74Z"/>
<path d="M383.33 347.86L387.53 355.06L379.13 355.06Z"/>
<path d="M413.16 371.8L417.36 379L408.96 379Z"/>
<path d="M359.85 375.56L364.05 382.76L355.65 382.76Z"/>
<path d="M395.5 373.76L399.7 380.96L391.3 380.96Z"/>
<path d="M368.34 375.05L372.54 382.25L364.14 382.25Z"/>
<path d="M382.81 372.91L387.01 380.11L378.61 380.11Z"/>
<path d="M335.19 376.7L339.39 383.9L330.99 383.9Z"/>
<path d="M370.57 376L374.77 383.2L366.37 383.2Z"/>
<path d="M371.03 374.44L375.23 381.64L366.83 381.64Z"/>
<path d="M370.94 374.61L375.14 381.81L366.74 381.81Z"/>
<path d="M378.12 374.33L382.32 381.53L373.92 381.53Z"/>
<path d="M408.98 371.99L413.18 379.19L404.78 379.19Z"/>
<path d="M365.12 374.92L369.32 382.12L360.92 382.12Z"/>
<path d="M399.68 373.56L403.88 380.76L395.48 380.76Z"/>
<path d="M362.37 373.86L366.57 381.06L358.17 381.06Z"/>
<path d="M383.46 372.43L387.66 379.63L379.26 379.63Z"/>
<path d="M330.5 378.2L334.7 385.4L326.3 385.4Z"/>
<path d="M339.4 345.4L343.6 352.6L335.2 352.6Z"/>
<path d="M346.6 359.9L350.8 367.1L342.4 367.1Z"/>
<path d="M348.8 343.9L353 351.1L344.6 351.1Z"/>
<path d="M356.1 343.2L360.3 350.4L351.9 350.4Z"/>
<path d="M365.5 337.4L369.7 344.6L361.3 344.6Z"/>
<path d="M372.8 332.3L377 339.5L368.6 339.5Z"/>
<path d="M386.6 330.1L390.8 337.3L382.4 337.3Z"/>
<path d="M391 330.9L395.2 338.1L386.8 338.1Z"/>
<path d="M404 329.4L408.2 336.6L399.8 336.6Z"/>
<path d="M406.5 328.7L410.7 335.9L402.3 335.9Z"/>
<path d="M414.5 329.4L418.7 336.6L410.3 336.6Z"/>
<path d="M418.2 331.6L422.4 338.8L414 338.8Z"/>
<path d="M434.9 331.6L439.1 338.8L430.7 338.8Z"/>
<path d="M451.6 335.9L455.8 343.1L447.4 343.1Z"/>
<path d="M458.9 338.1L463.1 345.3L454.7 345.3Z"/>
<path d="M466.9 343.2L471.1 350.4L462.7 350.4Z"/>
<path d="M456 341.8L460.2 349L451.8 349Z"/>
<path d="M449.5 352.7L453.7 359.9L445.3 359.9Z"/>
<path d="M443.6 341.8L447.8 349L439.4 349Z"/>
<path d="M431.3 353.4L435.5 360.6L427.1 360.6Z"/>
<path d="M411.6 359.2L415.8 366.4L407.4 366.4Z"/>
<path d="M393.19 349.49L397.39 356.69L388.99 356.69Z"/>
<path d="M391.7 337.29L395.9 344.49L387.5 344.49Z"/>
<path d="M381.93 337.03L386.13 344.23L377.73 344.23Z"/>
<path d="M371.83 336.25L376.03 343.45L367.63 343.45Z"/>
<path d="M417.82 345.76L422.02 352.96L413.62 352.96Z"/>
<path d="M398.55 339.19L402.75 346.39L394.35 346.39Z"/>
<path d="M363.81 342.34L368.01 349.54L359.61 349.54Z"/>
<path d="M425.39 349.39L429.59 356.59L421.19 356.59Z"/>
<path d="M425.22 339.1L429.42 346.3L421.02 346.3Z"/>
<path d="M429.33 347.68L433.53 354.88L425.13 354.88Z"/>
<path d="M425.36 344.99L429.56 352.19L421.16 352.19Z"/>
<path d="M353.83 351.07L358.03 358.27L349.63 358.27Z"/>
<path d="M408.27 348.77L412.47 355.97L404.07 355.97Z"/>
<path d="M440.11 341.48L444.31 348.68L435.91 348.68Z"/>
<path d="M364.6 339.84L368.8 347.04L360.4 347.04Z"/>
<path d="M435.9 343.29L440.1 350.49L431.7 350.49Z"/>
<path d="M409.24 338.8L413.44 346L405.04 346Z"/>
<path d="M347.25 347.05L351.45 354.25L343.05 354.25Z"/>
<path d="M404.93 348.44L409.13 355.64L400.73 355.64Z"/>
<path d="M403.67 353.7L407.87 360.9L399.47 360.9Z"/>
<path d="M432.93 343.03L437.13 350.23L428.73 350.23Z"/>
<path d="M375.81 351.09L380.01 358.29L371.61 358.29Z"/>
<path d="M393.06 352.52L397.26 359.72L388.86 359.72Z"/>
<path d="M406.8 348.4L411 355.6L402.6 355.6Z"/>
<path d="M382.36 346.37L386.56 353.57L378.16 353.57Z"/>
<path d="M349.81 345.54L354.01 352.74L345.61 352.74Z"/>
<path d="M419.48 346.15L423.68 353.35L415.28 353.35Z"/>
<path d="M389.38 335.53L393.58 342.73L385.18 342.73Z"/>
<path d="M424.49 343.24L428.69 350.44L420.29 350.44Z"/>
<path d="M391.77 338.61L395.97 345.81L387.57 345.81Z"/>
<path d="M385.55 353.79L389.75 360.99L381.35 360.99Z"/>
<path d="M419.5 349.39L423.7 356.59L415.3 356.59Z"/>
<path d="M393.45 336.69L397.65 343.89L389.25 343.89Z"/>
<path d="M380.72 349.62L384.92 356.82L376.52 356.82Z"/>
<path d="M370.02 345.84L374.22 353.04L365.82 353.04Z"/>
<path d="M432.86 340.9L437.06 348.1L428.66 348.1Z"/>
<path d="M371.35 344.27L375.55 351.47L367.15 351.47Z"/>
<path d="M392.54 352.42L396.74 359.62L388.34 359.62Z"/>
<path d="M382.37 348.41L386.57 355.61L378.17 355.61Z"/>
<path d="M425.36 347.98L429.56 355.18L421.16 355.18Z"/>
<path d="M437.26 346.69L441.46 353.89L433.06 353.89Z"/>
<path d="M405.06 348.06L409.26 355.26L400.86 355.26Z"/>
<path d="M384.46 343.94L388.66 351.14L380.26 351.14Z"/>
<path d="M389.6 354.5L393.8 361.7L385.4 361.7Z"/>
<path d="M406.11 345.56L410.31 352.76L401.91 352.76Z"/>
<path d="M393.86 344.41L398.06 351.61L389.66 351.61Z"/>
<path d="M354.47 347.03L358.67 354.23L350.27 354.23Z"/>
<path d="M405.42 352.37L409.62 359.57L401.22 359.57Z"/>
<path d="M407.57 353.52L411.77 360.72L403.37 360.72Z"/>
<path d="M407.69 338.72L411.89 345.92L403.49 345.92Z"/>
<path d="M423.35 346.56L427.55 353.76L419.15 353.76Z"/>
<path d="M422.67 345.7L426.87 352.9L418.47 352.9Z"/>
<path d="M406.61 342.66L410.81 349.86L402.41 349.86Z"/>
<path d="M402.04 346.61L406.24 353.81L397.84 353.81Z"/>
<path d="M370.72 350.33L374.92 357.53L366.52 357.53Z"/>
<path d="M386.16 340.06L390.36 347.26L381.96 347.26Z"/>
<path d="M423.19 344.95L427.39 352.15L418.99 352.15Z"/>
<path d="M406.25 342.96L410.45 350.16L402.05 350.16Z"/>
<path d="M415.11 347.69L419.31 354.89L410.91 354.89Z"/>
<path d="M400.5 350.87L404.7 358.07L396.3 358.07Z"/>
<path d="M402.95 345.49L407.15 352.69L398.75 352.69Z"/>
<path d="M404.01 342.14L408.21 349.34L399.81 349.34Z"/>
<path d="M398.84 336.38L403.04 343.58L394.64 343.58Z"/>
<path d="M393.1 338.69L397.3 345.89L388.9 345.89Z"/>
<path d="M384.63 342L388.83 349.2L380.43 349.2Z"/>
<path d="M374.19 341.38L378.39 348.58L369.99 348.58Z"/>
<path d="M396.08 337.21L400.28 344.41L391.88 344.41Z"/>
<path d="M397.23 347.55L401.43 354.75L393.03 354.75Z"/>
<path d="M382.55 339.4L386.75 346.6L378.35 346.6Z"/>
<path d="M389.37 350.08L393.57 357.28L385.17 357.28Z"/>
<path d="M404 350.75L408.2 357.95L399.8 357.95Z"/>
<path d="M397.87 342.94L402.07 350.14L393.67 350.14Z"/>
<path d="M371.89 342.58L376.09 349.78L367.69 349.78Z"/>
<path d="M375.65 340.51L379.85 347.71L371.45 347.71Z"/>
<path d="M413.72 341.05L417.92 348.25L409.52 348.25Z"/>
<path d="M406.9 347.93L411.1 355.13L402.7 355.13Z"/>
<path d="M417.46 344.77L421.66 351.97L413.26 351.97Z"/>
<path d="M366.45 352.18L370.65 359.38L362.25 359.38Z"/>
<path d="M407.59 343.78L411.79 350.98L403.39 350.98Z"/>
<path d="M409.33 340.27L413.53 347.47L405.13 347.47Z"/>
<path d="M401.36 345.89L405.56 353.09L397.16 353.09Z"/>
<path d="M380.64 340.74L384.84 347.94L376.44 347.94Z"/>
<path d="M380.26 345.92L384.46 353.12L376.06 353.12Z"/>
<path d="M398.67 344.52L402.87 351.72L394.47 351.72Z"/>
<path d="M394.78 342.91L398.98 350.11L390.58 350.11Z"/>
<path d="M385.92 338.08L390.12 345.28L381.72 345.28Z"/>
<path d="M407.83 348.81L412.03 356.01L403.63 356.01Z"/>
<path d="M408.41 344.9L412.61 352.1L404.21 352.1Z"/>
<path d="M397.2 340.41L401.4 347.61L393 347.61Z"/>
<path d="M408.41 343.3L412.61 350.5L404.21 350.5Z"/>
<path d="M354.98 374.67L359.18 381.87L350.78 381.87Z"/>
<path d="M381.22 373.88L385.42 381.08L377.02 381.08Z"/>
<path d="M402.03 372.28L406.23 379.48L397.83 379.48Z"/>
<path d="M362.31 374.31L366.51 381.51L358.11 381.51Z"/>
<path d="M361.08 376.13L365.28 383.33L356.88 383.33Z"/>
<path d="M428.44 370.57L432.64 377.77L424.24 377.77Z"/>
<path d="M361.49 375.07L365.69 382.27L357.29 382.27Z"/>
<path d="M331.75 377.78L335.95 384.98L327.55 384.98Z"/>
<path d="M378.06 374.96L382.26 382.16L373.86 382.16Z"/>
<path d="M396.31 373.57L400.51 380.77L392.11 380.77Z"/>
</g>
<line x1="445.8" y1="312.6" x2="448" y2="389.1" stroke="#000" stroke-width="1.9"/>
<rect x="327.5" y="312.6" width="207.9" height="76.6" fill="none" stroke="#262626" stroke-width="1.1"/>
<path d="M327.5 389.2v-2.2M327.5 312.6v2.2M379.48 389.2v-2.2M379.48 312.6v2.2M431.45 389.2v-2.2M431.45 312.6v2.2M483.42 389.2v-2.2M483.42 312.6v2.2M535.4 389.2v-2.2M535.4 312.6v2.2M327.5 383.31h2.2M535.4 383.31h-2.2M327.5 353.85h2.2M535.4 353.85h-2.2M327.5 324.38h2.2M535.4 324.38h-2.2" stroke="#262626" stroke-width="1.1" fill="none"/>
<g font-family="'Liberation Serif','Times New Roman',serif" font-size="14.2" fill="#000" stroke="#000" stroke-width="0.2">
<text transform="translate(327.5,407.5) scale(0.92,1)" text-anchor="middle">0</text>
<text transform="translate(379.48,407.5) scale(0.92,1)" text-anchor="middle">0.2</text>
<text transform="translate(431.45,407.5) scale(0.92,1)" text-anchor="middle">0.4</text>
<text transform="translate(483.42,407.5) scale(0.92,1)" text-anchor="middle">0.6</text>
<text transform="translate(535.4,407.5) scale(0.92,1)" text-anchor="middle">0.8</text>
<text transform="translate(322.2,389.01) scale(0.92,1)" text-anchor="end">0</text>
<text transform="translate(322.2,359.55) scale(0.92,1)" text-anchor="end">0.5</text>
<text transform="translate(322.2,330.08) scale(0.92,1)" text-anchor="end">1</text>
</g>
<text x="431.15" y="306.7" text-anchor="middle" font-family="'Liberation Serif','Times New Roman',serif" font-size="14.3" stroke="#000" stroke-width="0.3">IR=10</text>
<text transform="translate(424,425.8) skewX(-10) scale(1.3,1)" font-family="'Liberation Serif','Times New Roman',serif" font-size="14.3" font-style="italic" stroke="#000" stroke-width="0.3">f</text>
<text x="431.1" y="432.7" font-family="'Liberation Serif','Times New Roman',serif" font-size="12" stroke="#000" stroke-width="0.1">1</text>
<g transform="translate(291.2,359.8) rotate(-90)"><text transform="skewX(-10) scale(1.3,1)" font-family="'Liberation Serif','Times New Roman',serif" font-size="14.3" font-style="italic" stroke="#000" stroke-width="0.3">f</text><text x="8.6" y="6.9" font-family="'Liberation Serif','Times New Roman',serif" font-size="12" stroke="#000" stroke-width="0.1">2</text></g>
<rect x="97.6" y="438.3" width="365.5" height="18" fill="#fff" stroke="#262626" stroke-width="1.1"/>
<circle cx="121.8" cy="447.3" r="3.6" fill="#0000ff" stroke="#0072bd" stroke-width="0.9"/>
<path fill="#ff0000" stroke="#d95319" stroke-width="0.9" d="M239.3 443.7L243.5 450.9L235.1 450.9Z"/>
<line x1="325" y1="447.3" x2="364.5" y2="447.3" stroke="#000" stroke-width="1.4"/>
<g font-family="'Liberation Serif','Times New Roman',serif" font-size="13" fill="#000" stroke="#000" stroke-width="0.45">
<text transform="translate(145.2,451.4) scale(0.94,1)">Unstable class</text>
<text transform="translate(262.3,451.4) scale(0.94,1)">Stable class</text>
<text transform="translate(367.5,451.4) scale(0.94,1)">Decision boundary</text>
</g>
</svg>
</body></html>
